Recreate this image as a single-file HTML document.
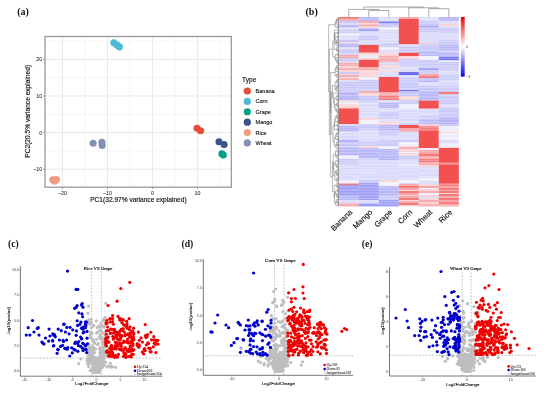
<!DOCTYPE html>
<html><head><meta charset="utf-8"><style>
html,body{margin:0;padding:0;background:#fff;}
svg{display:block;will-change:transform;filter:blur(0.3px);}
.s{font-family:"Liberation Sans",sans-serif;}
.r{font-family:"Liberation Serif",serif;}
.b{font-family:"Liberation Serif",serif;font-weight:bold;}
</style></head><body>
<svg width="550" height="396" viewBox="0 0 550 396">
<rect width="550" height="396" fill="#fff"/>
<line x1="85" y1="36.5" x2="85" y2="187.2" stroke="#f3f3f3" stroke-width="0.8"/>
<line x1="130" y1="36.5" x2="130" y2="187.2" stroke="#f3f3f3" stroke-width="0.8"/>
<line x1="175" y1="36.5" x2="175" y2="187.2" stroke="#f3f3f3" stroke-width="0.8"/>
<line x1="220" y1="36.5" x2="220" y2="187.2" stroke="#f3f3f3" stroke-width="0.8"/>
<line x1="45.0" y1="150.9" x2="231.3" y2="150.9" stroke="#f3f3f3" stroke-width="0.8"/>
<line x1="45.0" y1="114.3" x2="231.3" y2="114.3" stroke="#f3f3f3" stroke-width="0.8"/>
<line x1="45.0" y1="77.7" x2="231.3" y2="77.7" stroke="#f3f3f3" stroke-width="0.8"/>
<line x1="45.0" y1="41.1" x2="231.3" y2="41.1" stroke="#f3f3f3" stroke-width="0.8"/>
<line x1="62.5" y1="36.5" x2="62.5" y2="187.2" stroke="#e9e9e9" stroke-width="1"/>
<line x1="107.5" y1="36.5" x2="107.5" y2="187.2" stroke="#e9e9e9" stroke-width="1"/>
<line x1="152.5" y1="36.5" x2="152.5" y2="187.2" stroke="#e9e9e9" stroke-width="1"/>
<line x1="197.5" y1="36.5" x2="197.5" y2="187.2" stroke="#e9e9e9" stroke-width="1"/>
<line x1="45.0" y1="169.2" x2="231.3" y2="169.2" stroke="#e9e9e9" stroke-width="1"/>
<line x1="45.0" y1="132.6" x2="231.3" y2="132.6" stroke="#e9e9e9" stroke-width="1"/>
<line x1="45.0" y1="96" x2="231.3" y2="96" stroke="#e9e9e9" stroke-width="1"/>
<line x1="45.0" y1="59.4" x2="231.3" y2="59.4" stroke="#e9e9e9" stroke-width="1"/>
<circle cx="113.8" cy="42.8" r="3.55" fill="#4DBBD5"/>
<circle cx="117.0" cy="45.0" r="3.55" fill="#4DBBD5"/>
<circle cx="119.4" cy="46.9" r="3.55" fill="#4DBBD5"/>
<circle cx="197.0" cy="128.3" r="3.55" fill="#E64B35"/>
<circle cx="200.6" cy="130.8" r="3.55" fill="#E64B35"/>
<circle cx="219.0" cy="141.8" r="3.55" fill="#3C5488"/>
<circle cx="224.1" cy="144.5" r="3.55" fill="#3C5488"/>
<circle cx="221.9" cy="153.8" r="3.55" fill="#00A087"/>
<circle cx="223.3" cy="155.0" r="3.55" fill="#00A087"/>
<circle cx="52.8" cy="179.8" r="3.55" fill="#F39B7F"/>
<circle cx="56.5" cy="179.6" r="3.55" fill="#F39B7F"/>
<circle cx="54.6" cy="181.2" r="3.55" fill="#F39B7F"/>
<circle cx="93.1" cy="143.2" r="3.55" fill="#8491B4"/>
<circle cx="101.9" cy="142.3" r="3.55" fill="#8491B4"/>
<circle cx="102.2" cy="145.4" r="3.55" fill="#8491B4"/>
<rect x="45.0" y="36.5" width="186.3" height="150.7" fill="none" stroke="#9a9a9a" stroke-width="1.3"/>
<line x1="43.2" y1="169.2" x2="45.0" y2="169.2" stroke="#8a8a8a" stroke-width="0.9"/>
<text class="s" x="42.2" y="171.1" font-size="5.3" text-anchor="end" fill="#444" stroke="#444" stroke-width="0.12">−10</text>
<line x1="43.2" y1="132.6" x2="45.0" y2="132.6" stroke="#8a8a8a" stroke-width="0.9"/>
<text class="s" x="42.2" y="134.5" font-size="5.3" text-anchor="end" fill="#444" stroke="#444" stroke-width="0.12">0</text>
<line x1="43.2" y1="96" x2="45.0" y2="96" stroke="#8a8a8a" stroke-width="0.9"/>
<text class="s" x="42.2" y="97.9" font-size="5.3" text-anchor="end" fill="#444" stroke="#444" stroke-width="0.12">10</text>
<line x1="43.2" y1="59.4" x2="45.0" y2="59.4" stroke="#8a8a8a" stroke-width="0.9"/>
<text class="s" x="42.2" y="61.3" font-size="5.3" text-anchor="end" fill="#444" stroke="#444" stroke-width="0.12">20</text>
<line x1="62.5" y1="187.2" x2="62.5" y2="188.8" stroke="#8a8a8a" stroke-width="0.9"/>
<text class="s" x="62.5" y="194.5" font-size="5.3" text-anchor="middle" fill="#444" stroke="#444" stroke-width="0.12">−20</text>
<line x1="107.5" y1="187.2" x2="107.5" y2="188.8" stroke="#8a8a8a" stroke-width="0.9"/>
<text class="s" x="107.5" y="194.5" font-size="5.3" text-anchor="middle" fill="#444" stroke="#444" stroke-width="0.12">−10</text>
<line x1="152.5" y1="187.2" x2="152.5" y2="188.8" stroke="#8a8a8a" stroke-width="0.9"/>
<text class="s" x="152.5" y="194.5" font-size="5.3" text-anchor="middle" fill="#444" stroke="#444" stroke-width="0.12">0</text>
<line x1="197.5" y1="187.2" x2="197.5" y2="188.8" stroke="#8a8a8a" stroke-width="0.9"/>
<text class="s" x="197.5" y="194.5" font-size="5.3" text-anchor="middle" fill="#444" stroke="#444" stroke-width="0.12">10</text>
<text class="s" x="138.4" y="201.6" font-size="6.6" text-anchor="middle" fill="#1a1a1a" stroke="#1a1a1a" stroke-width="0.18">PC1(32.97% variance explained)</text>
<text class="s" transform="translate(30.2,111.3) rotate(-90)" font-size="6.6" text-anchor="middle" fill="#1a1a1a" stroke="#1a1a1a" stroke-width="0.18">PC2(20.5% variance explained)</text>
<text class="s" x="242.1" y="81.8" font-size="6.6" fill="#1a1a1a" stroke="#1a1a1a" stroke-width="0.15">Type</text>
<circle cx="247.3" cy="91" r="3.6" fill="#E64B35"/>
<text class="s" x="255.6" y="93" font-size="5.5" fill="#111" stroke="#111" stroke-width="0.12">Banana</text>
<circle cx="247.3" cy="101.38" r="3.6" fill="#4DBBD5"/>
<text class="s" x="255.6" y="103.38" font-size="5.5" fill="#111" stroke="#111" stroke-width="0.12">Corn</text>
<circle cx="247.3" cy="111.76" r="3.6" fill="#00A087"/>
<text class="s" x="255.6" y="113.76" font-size="5.5" fill="#111" stroke="#111" stroke-width="0.12">Grape</text>
<circle cx="247.3" cy="122.14" r="3.6" fill="#3C5488"/>
<text class="s" x="255.6" y="124.14" font-size="5.5" fill="#111" stroke="#111" stroke-width="0.12">Mango</text>
<circle cx="247.3" cy="132.52" r="3.6" fill="#F39B7F"/>
<text class="s" x="255.6" y="134.52" font-size="5.5" fill="#111" stroke="#111" stroke-width="0.12">Rice</text>
<circle cx="247.3" cy="142.9" r="3.6" fill="#8491B4"/>
<text class="s" x="255.6" y="144.9" font-size="5.5" fill="#111" stroke="#111" stroke-width="0.12">Wheat</text>
<text class="b" x="17.2" y="15.0" font-size="10" fill="#111">(a)</text>
<rect x="338.8" y="17" width="20.05" height="1.3" fill="rgb(245, 123, 123)"/>
<rect x="338.8" y="18.25" width="20.05" height="1.3" fill="rgb(246, 124, 124)"/>
<rect x="338.8" y="19.5" width="20.05" height="1.55" fill="rgb(248, 175, 177)"/>
<rect x="338.8" y="21" width="20.05" height="2.05" fill="rgb(202, 202, 249)"/>
<rect x="338.8" y="23" width="20.05" height="2.05" fill="rgb(220, 220, 252)"/>
<rect x="338.8" y="25" width="20.05" height="2.05" fill="rgb(184, 184, 249)"/>
<rect x="338.8" y="27" width="20.05" height="1.55" fill="rgb(217, 217, 251)"/>
<rect x="338.8" y="28.5" width="20.05" height="1.55" fill="rgb(220, 220, 252)"/>
<rect x="338.8" y="30" width="20.05" height="1.55" fill="rgb(204, 204, 250)"/>
<rect x="338.8" y="31.5" width="20.05" height="1.55" fill="rgb(205, 205, 250)"/>
<rect x="338.8" y="33" width="20.05" height="1.55" fill="rgb(236, 236, 252)"/>
<rect x="338.8" y="34.5" width="20.05" height="1.55" fill="rgb(238, 238, 252)"/>
<rect x="338.8" y="36" width="20.05" height="1.38" fill="rgb(216, 216, 251)"/>
<rect x="338.8" y="37.33" width="20.05" height="1.38" fill="rgb(222, 222, 252)"/>
<rect x="338.8" y="38.67" width="20.05" height="1.38" fill="rgb(221, 221, 252)"/>
<rect x="338.8" y="40" width="20.05" height="2.05" fill="rgb(199, 199, 249)"/>
<rect x="338.8" y="42" width="20.05" height="1.55" fill="rgb(250, 217, 219)"/>
<rect x="338.8" y="43.5" width="20.05" height="1.8" fill="rgb(187, 187, 249)"/>
<rect x="338.8" y="45.25" width="20.05" height="1.8" fill="rgb(185, 185, 249)"/>
<rect x="338.8" y="47" width="20.05" height="1.55" fill="rgb(220, 220, 252)"/>
<rect x="338.8" y="48.5" width="20.05" height="1.55" fill="rgb(217, 217, 251)"/>
<rect x="338.8" y="50" width="20.05" height="1.55" fill="rgb(199, 199, 249)"/>
<rect x="338.8" y="51.5" width="20.05" height="1.55" fill="rgb(203, 203, 250)"/>
<rect x="338.8" y="53" width="20.05" height="2.05" fill="rgb(216, 216, 251)"/>
<rect x="338.8" y="55" width="20.05" height="1.65" fill="rgb(247, 169, 171)"/>
<rect x="338.8" y="56.6" width="20.05" height="1.65" fill="rgb(247, 169, 171)"/>
<rect x="338.8" y="58.2" width="20.05" height="1.45" fill="rgb(199, 199, 249)"/>
<rect x="338.8" y="59.6" width="20.05" height="1.45" fill="rgb(202, 202, 249)"/>
<rect x="338.8" y="61" width="20.05" height="1.75" fill="rgb(219, 219, 251)"/>
<rect x="338.8" y="62.7" width="20.05" height="1.7" fill="rgb(248, 174, 176)"/>
<rect x="338.8" y="64.35" width="20.05" height="1.7" fill="rgb(248, 172, 174)"/>
<rect x="338.8" y="66" width="20.05" height="2.25" fill="rgb(250, 215, 217)"/>
<rect x="338.8" y="68.2" width="20.05" height="2.25" fill="rgb(247, 171, 173)"/>
<rect x="338.8" y="70.4" width="20.05" height="1.65" fill="rgb(250, 215, 217)"/>
<rect x="338.8" y="72" width="20.05" height="2.05" fill="rgb(202, 202, 249)"/>
<rect x="338.8" y="74" width="20.05" height="1.05" fill="rgb(249, 212, 214)"/>
<rect x="338.8" y="75" width="20.05" height="2.05" fill="rgb(248, 175, 177)"/>
<rect x="338.8" y="77" width="20.05" height="1.25" fill="rgb(223, 223, 252)"/>
<rect x="338.8" y="78.2" width="20.05" height="2.25" fill="rgb(248, 174, 176)"/>
<rect x="338.8" y="80.4" width="20.05" height="1.65" fill="rgb(221, 221, 252)"/>
<rect x="338.8" y="82" width="20.05" height="1.58" fill="rgb(201, 201, 249)"/>
<rect x="338.8" y="83.53" width="20.05" height="1.58" fill="rgb(200, 200, 249)"/>
<rect x="338.8" y="85.06" width="20.05" height="1.58" fill="rgb(201, 201, 249)"/>
<rect x="338.8" y="86.59" width="20.05" height="1.58" fill="rgb(199, 199, 249)"/>
<rect x="338.8" y="88.11" width="20.05" height="1.58" fill="rgb(205, 205, 250)"/>
<rect x="338.8" y="89.64" width="20.05" height="1.58" fill="rgb(202, 202, 249)"/>
<rect x="338.8" y="91.17" width="20.05" height="1.58" fill="rgb(205, 205, 250)"/>
<rect x="338.8" y="92.7" width="20.05" height="1.15" fill="rgb(159, 159, 246)"/>
<rect x="338.8" y="93.8" width="20.05" height="1.7" fill="rgb(187, 187, 249)"/>
<rect x="338.8" y="95.45" width="20.05" height="1.7" fill="rgb(186, 186, 249)"/>
<rect x="338.8" y="97.1" width="20.05" height="1.7" fill="rgb(180, 180, 248)"/>
<rect x="338.8" y="98.75" width="20.05" height="1.7" fill="rgb(181, 181, 248)"/>
<rect x="338.8" y="100.4" width="20.05" height="1.65" fill="rgb(250, 217, 219)"/>
<rect x="338.8" y="102" width="20.05" height="2.05" fill="rgb(239, 239, 252)"/>
<rect x="338.8" y="104" width="20.05" height="1.52" fill="rgb(250, 217, 219)"/>
<rect x="338.8" y="105.47" width="20.05" height="1.52" fill="rgb(249, 213, 215)"/>
<rect x="338.8" y="106.93" width="20.05" height="1.52" fill="rgb(249, 210, 212)"/>
<rect x="338.8" y="108.4" width="20.05" height="15.65" fill="rgb(243, 80, 80)"/>
<rect x="338.8" y="124" width="20.05" height="2.05" fill="rgb(221, 221, 252)"/>
<rect x="338.8" y="126" width="20.05" height="1.72" fill="rgb(186, 186, 249)"/>
<rect x="338.8" y="127.67" width="20.05" height="1.72" fill="rgb(182, 182, 248)"/>
<rect x="338.8" y="129.33" width="20.05" height="1.72" fill="rgb(180, 180, 248)"/>
<rect x="338.8" y="131" width="20.05" height="1.55" fill="rgb(218, 218, 251)"/>
<rect x="338.8" y="132.5" width="20.05" height="1.55" fill="rgb(223, 223, 252)"/>
<rect x="338.8" y="134" width="20.05" height="1.55" fill="rgb(222, 222, 252)"/>
<rect x="338.8" y="135.5" width="20.05" height="1.55" fill="rgb(216, 216, 251)"/>
<rect x="338.8" y="137" width="20.05" height="1.55" fill="rgb(217, 217, 251)"/>
<rect x="338.8" y="138.5" width="20.05" height="1.55" fill="rgb(216, 216, 251)"/>
<rect x="338.8" y="140" width="20.05" height="2.05" fill="rgb(180, 180, 248)"/>
<rect x="338.8" y="142" width="20.05" height="1.55" fill="rgb(205, 205, 250)"/>
<rect x="338.8" y="143.5" width="20.05" height="1.55" fill="rgb(200, 200, 249)"/>
<rect x="338.8" y="145" width="20.05" height="1.55" fill="rgb(203, 203, 250)"/>
<rect x="338.8" y="146.5" width="20.05" height="1.55" fill="rgb(202, 202, 249)"/>
<rect x="338.8" y="148" width="20.05" height="1.55" fill="rgb(181, 181, 248)"/>
<rect x="338.8" y="149.5" width="20.05" height="1.55" fill="rgb(185, 185, 249)"/>
<rect x="338.8" y="151" width="20.05" height="1.55" fill="rgb(181, 181, 248)"/>
<rect x="338.8" y="152.5" width="20.05" height="1.55" fill="rgb(185, 185, 249)"/>
<rect x="338.8" y="154" width="20.05" height="1.55" fill="rgb(180, 180, 248)"/>
<rect x="338.8" y="155.5" width="20.05" height="1.8" fill="rgb(239, 239, 252)"/>
<rect x="338.8" y="157.25" width="20.05" height="1.8" fill="rgb(237, 237, 252)"/>
<rect x="338.8" y="159" width="20.05" height="1.72" fill="rgb(201, 201, 249)"/>
<rect x="338.8" y="160.67" width="20.05" height="1.72" fill="rgb(206, 206, 250)"/>
<rect x="338.8" y="162.33" width="20.05" height="1.72" fill="rgb(205, 205, 250)"/>
<rect x="338.8" y="164" width="20.05" height="2.05" fill="rgb(218, 218, 251)"/>
<rect x="338.8" y="166" width="20.05" height="1.61" fill="rgb(223, 223, 252)"/>
<rect x="338.8" y="167.56" width="20.05" height="1.61" fill="rgb(217, 217, 251)"/>
<rect x="338.8" y="169.11" width="20.05" height="1.61" fill="rgb(219, 219, 251)"/>
<rect x="338.8" y="170.67" width="20.05" height="1.61" fill="rgb(222, 222, 252)"/>
<rect x="338.8" y="172.22" width="20.05" height="1.61" fill="rgb(221, 221, 252)"/>
<rect x="338.8" y="173.78" width="20.05" height="1.61" fill="rgb(216, 216, 251)"/>
<rect x="338.8" y="175.33" width="20.05" height="1.61" fill="rgb(223, 223, 252)"/>
<rect x="338.8" y="176.89" width="20.05" height="1.61" fill="rgb(217, 217, 251)"/>
<rect x="338.8" y="178.44" width="20.05" height="1.61" fill="rgb(218, 218, 251)"/>
<rect x="338.8" y="180" width="20.05" height="1.8" fill="rgb(242, 242, 253)"/>
<rect x="338.8" y="181.75" width="20.05" height="1.8" fill="rgb(238, 238, 252)"/>
<rect x="338.8" y="183.5" width="20.05" height="1.55" fill="rgb(245, 122, 122)"/>
<rect x="338.8" y="185" width="20.05" height="1.48" fill="rgb(156, 156, 246)"/>
<rect x="338.8" y="186.43" width="20.05" height="1.48" fill="rgb(156, 156, 246)"/>
<rect x="338.8" y="187.86" width="20.05" height="1.48" fill="rgb(160, 160, 247)"/>
<rect x="338.8" y="189.29" width="20.05" height="1.48" fill="rgb(157, 157, 246)"/>
<rect x="338.8" y="190.71" width="20.05" height="1.48" fill="rgb(160, 160, 247)"/>
<rect x="338.8" y="192.14" width="20.05" height="1.48" fill="rgb(158, 158, 246)"/>
<rect x="338.8" y="193.57" width="20.05" height="1.48" fill="rgb(159, 159, 246)"/>
<rect x="338.8" y="195" width="20.05" height="1.72" fill="rgb(187, 187, 249)"/>
<rect x="338.8" y="196.67" width="20.05" height="1.72" fill="rgb(183, 183, 248)"/>
<rect x="338.8" y="198.33" width="20.05" height="1.72" fill="rgb(184, 184, 249)"/>
<rect x="338.8" y="200" width="20.05" height="1.8" fill="rgb(222, 222, 252)"/>
<rect x="338.8" y="201.75" width="20.05" height="1.8" fill="rgb(217, 217, 251)"/>
<rect x="338.8" y="203.5" width="20.05" height="1.5" fill="rgb(247, 169, 171)"/>
<rect x="338.8" y="204.95" width="20.05" height="1.5" fill="rgb(248, 175, 177)"/>
<rect x="358.8" y="17" width="20.05" height="1.38" fill="rgb(186, 186, 249)"/>
<rect x="358.8" y="18.33" width="20.05" height="1.38" fill="rgb(181, 181, 248)"/>
<rect x="358.8" y="19.67" width="20.05" height="1.38" fill="rgb(181, 181, 248)"/>
<rect x="358.8" y="21" width="20.05" height="2.05" fill="rgb(248, 173, 175)"/>
<rect x="358.8" y="23" width="20.05" height="1.55" fill="rgb(250, 217, 219)"/>
<rect x="358.8" y="24.5" width="20.05" height="2.05" fill="rgb(247, 169, 171)"/>
<rect x="358.8" y="26.5" width="20.05" height="1.55" fill="rgb(250, 217, 219)"/>
<rect x="358.8" y="28" width="20.05" height="0.55" fill="rgb(223, 223, 252)"/>
<rect x="358.8" y="28.5" width="20.05" height="1.3" fill="rgb(160, 160, 247)"/>
<rect x="358.8" y="29.75" width="20.05" height="1.3" fill="rgb(159, 159, 246)"/>
<rect x="358.8" y="31" width="20.05" height="1.72" fill="rgb(216, 216, 251)"/>
<rect x="358.8" y="32.67" width="20.05" height="1.72" fill="rgb(216, 216, 251)"/>
<rect x="358.8" y="34.33" width="20.05" height="1.72" fill="rgb(223, 223, 252)"/>
<rect x="358.8" y="36" width="20.05" height="1.38" fill="rgb(200, 200, 249)"/>
<rect x="358.8" y="37.33" width="20.05" height="1.38" fill="rgb(204, 204, 250)"/>
<rect x="358.8" y="38.67" width="20.05" height="1.38" fill="rgb(201, 201, 249)"/>
<rect x="358.8" y="40" width="20.05" height="1.68" fill="rgb(222, 222, 252)"/>
<rect x="358.8" y="41.63" width="20.05" height="1.68" fill="rgb(220, 220, 252)"/>
<rect x="358.8" y="43.27" width="20.05" height="1.68" fill="rgb(218, 218, 251)"/>
<rect x="358.8" y="44.9" width="20.05" height="7.85" fill="rgb(243, 80, 80)"/>
<rect x="358.8" y="52.7" width="20.05" height="1.45" fill="rgb(249, 211, 213)"/>
<rect x="358.8" y="54.1" width="20.05" height="1.45" fill="rgb(250, 215, 217)"/>
<rect x="358.8" y="55.5" width="20.05" height="1.3" fill="rgb(236, 236, 252)"/>
<rect x="358.8" y="56.75" width="20.05" height="1.3" fill="rgb(237, 237, 252)"/>
<rect x="358.8" y="58" width="20.05" height="1.85" fill="rgb(250, 214, 216)"/>
<rect x="358.8" y="59.8" width="20.05" height="7.35" fill="rgb(243, 80, 80)"/>
<rect x="358.8" y="67.1" width="20.05" height="1.7" fill="rgb(248, 174, 176)"/>
<rect x="358.8" y="68.75" width="20.05" height="1.7" fill="rgb(248, 172, 174)"/>
<rect x="358.8" y="70.4" width="20.05" height="1.35" fill="rgb(249, 212, 214)"/>
<rect x="358.8" y="71.7" width="20.05" height="1.35" fill="rgb(250, 217, 219)"/>
<rect x="358.8" y="73" width="20.05" height="1.38" fill="rgb(249, 211, 213)"/>
<rect x="358.8" y="74.33" width="20.05" height="1.38" fill="rgb(249, 210, 212)"/>
<rect x="358.8" y="75.67" width="20.05" height="1.38" fill="rgb(249, 212, 214)"/>
<rect x="358.8" y="77" width="20.05" height="1.55" fill="rgb(239, 239, 252)"/>
<rect x="358.8" y="78.5" width="20.05" height="1.55" fill="rgb(236, 236, 252)"/>
<rect x="358.8" y="80" width="20.05" height="1.62" fill="rgb(200, 200, 249)"/>
<rect x="358.8" y="81.57" width="20.05" height="1.62" fill="rgb(201, 201, 249)"/>
<rect x="358.8" y="83.14" width="20.05" height="1.62" fill="rgb(203, 203, 250)"/>
<rect x="358.8" y="84.71" width="20.05" height="1.62" fill="rgb(200, 200, 249)"/>
<rect x="358.8" y="86.29" width="20.05" height="1.62" fill="rgb(201, 201, 249)"/>
<rect x="358.8" y="87.86" width="20.05" height="1.62" fill="rgb(206, 206, 250)"/>
<rect x="358.8" y="89.43" width="20.05" height="1.62" fill="rgb(206, 206, 250)"/>
<rect x="358.8" y="91" width="20.05" height="2.05" fill="rgb(248, 173, 175)"/>
<rect x="358.8" y="93" width="20.05" height="1.55" fill="rgb(250, 215, 217)"/>
<rect x="358.8" y="94.5" width="20.05" height="1.55" fill="rgb(250, 214, 216)"/>
<rect x="358.8" y="96" width="20.05" height="1.55" fill="rgb(200, 200, 249)"/>
<rect x="358.8" y="97.5" width="20.05" height="1.55" fill="rgb(199, 199, 249)"/>
<rect x="358.8" y="99" width="20.05" height="1.55" fill="rgb(199, 199, 249)"/>
<rect x="358.8" y="100.5" width="20.05" height="1.55" fill="rgb(206, 206, 250)"/>
<rect x="358.8" y="102" width="20.05" height="1.5" fill="rgb(221, 221, 252)"/>
<rect x="358.8" y="103.45" width="20.05" height="1.5" fill="rgb(223, 223, 252)"/>
<rect x="358.8" y="104.91" width="20.05" height="1.5" fill="rgb(216, 216, 251)"/>
<rect x="358.8" y="106.36" width="20.05" height="1.5" fill="rgb(221, 221, 252)"/>
<rect x="358.8" y="107.82" width="20.05" height="1.5" fill="rgb(219, 219, 251)"/>
<rect x="358.8" y="109.27" width="20.05" height="1.5" fill="rgb(221, 221, 252)"/>
<rect x="358.8" y="110.73" width="20.05" height="1.5" fill="rgb(218, 218, 251)"/>
<rect x="358.8" y="112.18" width="20.05" height="1.5" fill="rgb(223, 223, 252)"/>
<rect x="358.8" y="113.64" width="20.05" height="1.5" fill="rgb(216, 216, 251)"/>
<rect x="358.8" y="115.09" width="20.05" height="1.5" fill="rgb(220, 220, 252)"/>
<rect x="358.8" y="116.55" width="20.05" height="1.5" fill="rgb(221, 221, 252)"/>
<rect x="358.8" y="118" width="20.05" height="2.05" fill="rgb(250, 217, 219)"/>
<rect x="358.8" y="120" width="20.05" height="1.38" fill="rgb(241, 241, 253)"/>
<rect x="358.8" y="121.33" width="20.05" height="1.38" fill="rgb(241, 241, 253)"/>
<rect x="358.8" y="122.67" width="20.05" height="1.38" fill="rgb(242, 242, 253)"/>
<rect x="358.8" y="124" width="20.05" height="1.55" fill="rgb(206, 206, 250)"/>
<rect x="358.8" y="125.5" width="20.05" height="1.55" fill="rgb(201, 201, 249)"/>
<rect x="358.8" y="127" width="20.05" height="1.55" fill="rgb(204, 204, 250)"/>
<rect x="358.8" y="128.5" width="20.05" height="1.55" fill="rgb(206, 206, 250)"/>
<rect x="358.8" y="130" width="20.05" height="1.48" fill="rgb(222, 222, 252)"/>
<rect x="358.8" y="131.43" width="20.05" height="1.48" fill="rgb(219, 219, 251)"/>
<rect x="358.8" y="132.86" width="20.05" height="1.48" fill="rgb(222, 222, 252)"/>
<rect x="358.8" y="134.29" width="20.05" height="1.48" fill="rgb(222, 222, 252)"/>
<rect x="358.8" y="135.71" width="20.05" height="1.48" fill="rgb(220, 220, 252)"/>
<rect x="358.8" y="137.14" width="20.05" height="1.48" fill="rgb(220, 220, 252)"/>
<rect x="358.8" y="138.57" width="20.05" height="1.48" fill="rgb(219, 219, 251)"/>
<rect x="358.8" y="140" width="20.05" height="2.05" fill="rgb(220, 220, 252)"/>
<rect x="358.8" y="142" width="20.05" height="1.38" fill="rgb(203, 203, 250)"/>
<rect x="358.8" y="143.33" width="20.05" height="1.38" fill="rgb(199, 199, 249)"/>
<rect x="358.8" y="144.67" width="20.05" height="1.38" fill="rgb(204, 204, 250)"/>
<rect x="358.8" y="146" width="20.05" height="2.05" fill="rgb(250, 217, 219)"/>
<rect x="358.8" y="148" width="20.05" height="1.55" fill="rgb(187, 187, 249)"/>
<rect x="358.8" y="149.5" width="20.05" height="1.55" fill="rgb(185, 185, 249)"/>
<rect x="358.8" y="151" width="20.05" height="1.55" fill="rgb(183, 183, 248)"/>
<rect x="358.8" y="152.5" width="20.05" height="1.55" fill="rgb(185, 185, 249)"/>
<rect x="358.8" y="154" width="20.05" height="1.55" fill="rgb(184, 184, 249)"/>
<rect x="358.8" y="155.5" width="20.05" height="1.55" fill="rgb(183, 183, 248)"/>
<rect x="358.8" y="157" width="20.05" height="1.55" fill="rgb(186, 186, 249)"/>
<rect x="358.8" y="158.5" width="20.05" height="1.55" fill="rgb(216, 216, 251)"/>
<rect x="358.8" y="160" width="20.05" height="1.55" fill="rgb(222, 222, 252)"/>
<rect x="358.8" y="161.5" width="20.05" height="1.55" fill="rgb(216, 216, 251)"/>
<rect x="358.8" y="163" width="20.05" height="1.55" fill="rgb(220, 220, 252)"/>
<rect x="358.8" y="164.5" width="20.05" height="1.55" fill="rgb(219, 219, 251)"/>
<rect x="358.8" y="166" width="20.05" height="1.61" fill="rgb(217, 217, 251)"/>
<rect x="358.8" y="167.56" width="20.05" height="1.61" fill="rgb(221, 221, 252)"/>
<rect x="358.8" y="169.11" width="20.05" height="1.61" fill="rgb(219, 219, 251)"/>
<rect x="358.8" y="170.67" width="20.05" height="1.61" fill="rgb(220, 220, 252)"/>
<rect x="358.8" y="172.22" width="20.05" height="1.61" fill="rgb(223, 223, 252)"/>
<rect x="358.8" y="173.78" width="20.05" height="1.61" fill="rgb(218, 218, 251)"/>
<rect x="358.8" y="175.33" width="20.05" height="1.61" fill="rgb(216, 216, 251)"/>
<rect x="358.8" y="176.89" width="20.05" height="1.61" fill="rgb(218, 218, 251)"/>
<rect x="358.8" y="178.44" width="20.05" height="1.61" fill="rgb(221, 221, 252)"/>
<rect x="358.8" y="180" width="20.05" height="1.55" fill="rgb(200, 200, 249)"/>
<rect x="358.8" y="181.5" width="20.05" height="1.55" fill="rgb(200, 200, 249)"/>
<rect x="358.8" y="183" width="20.05" height="1.6" fill="rgb(163, 163, 247)"/>
<rect x="358.8" y="184.55" width="20.05" height="1.6" fill="rgb(161, 161, 247)"/>
<rect x="358.8" y="186.09" width="20.05" height="1.6" fill="rgb(159, 159, 246)"/>
<rect x="358.8" y="187.64" width="20.05" height="1.6" fill="rgb(163, 163, 247)"/>
<rect x="358.8" y="189.18" width="20.05" height="1.6" fill="rgb(158, 158, 246)"/>
<rect x="358.8" y="190.73" width="20.05" height="1.6" fill="rgb(161, 161, 247)"/>
<rect x="358.8" y="192.27" width="20.05" height="1.6" fill="rgb(157, 157, 246)"/>
<rect x="358.8" y="193.82" width="20.05" height="1.6" fill="rgb(159, 159, 246)"/>
<rect x="358.8" y="195.36" width="20.05" height="1.6" fill="rgb(162, 162, 247)"/>
<rect x="358.8" y="196.91" width="20.05" height="1.6" fill="rgb(163, 163, 247)"/>
<rect x="358.8" y="198.45" width="20.05" height="1.6" fill="rgb(163, 163, 247)"/>
<rect x="358.8" y="200" width="20.05" height="1.8" fill="rgb(219, 219, 251)"/>
<rect x="358.8" y="201.75" width="20.05" height="1.8" fill="rgb(220, 220, 252)"/>
<rect x="358.8" y="203.5" width="20.05" height="1.5" fill="rgb(158, 158, 246)"/>
<rect x="358.8" y="204.95" width="20.05" height="1.5" fill="rgb(157, 157, 246)"/>
<rect x="378.8" y="17" width="20.05" height="1.38" fill="rgb(219, 219, 251)"/>
<rect x="378.8" y="18.33" width="20.05" height="1.38" fill="rgb(222, 222, 252)"/>
<rect x="378.8" y="19.67" width="20.05" height="1.38" fill="rgb(222, 222, 252)"/>
<rect x="378.8" y="21" width="20.05" height="0.55" fill="rgb(221, 221, 252)"/>
<rect x="378.8" y="21.5" width="20.05" height="2.05" fill="rgb(123, 123, 244)"/>
<rect x="378.8" y="23.5" width="20.05" height="1.8" fill="rgb(201, 201, 249)"/>
<rect x="378.8" y="25.25" width="20.05" height="1.8" fill="rgb(200, 200, 249)"/>
<rect x="378.8" y="27" width="20.05" height="1.55" fill="rgb(239, 239, 252)"/>
<rect x="378.8" y="28.5" width="20.05" height="1.55" fill="rgb(238, 238, 252)"/>
<rect x="378.8" y="30" width="20.05" height="1.61" fill="rgb(217, 217, 251)"/>
<rect x="378.8" y="31.56" width="20.05" height="1.61" fill="rgb(219, 219, 251)"/>
<rect x="378.8" y="33.11" width="20.05" height="1.61" fill="rgb(221, 221, 252)"/>
<rect x="378.8" y="34.67" width="20.05" height="1.61" fill="rgb(219, 219, 251)"/>
<rect x="378.8" y="36.22" width="20.05" height="1.61" fill="rgb(218, 218, 251)"/>
<rect x="378.8" y="37.78" width="20.05" height="1.61" fill="rgb(222, 222, 252)"/>
<rect x="378.8" y="39.33" width="20.05" height="1.61" fill="rgb(223, 223, 252)"/>
<rect x="378.8" y="40.89" width="20.05" height="1.61" fill="rgb(219, 219, 251)"/>
<rect x="378.8" y="42.44" width="20.05" height="1.61" fill="rgb(216, 216, 251)"/>
<rect x="378.8" y="44" width="20.05" height="1.55" fill="rgb(199, 199, 249)"/>
<rect x="378.8" y="45.5" width="20.05" height="1.55" fill="rgb(205, 205, 250)"/>
<rect x="378.8" y="47" width="20.05" height="1.55" fill="rgb(236, 236, 252)"/>
<rect x="378.8" y="48.5" width="20.05" height="1.55" fill="rgb(241, 241, 253)"/>
<rect x="378.8" y="50" width="20.05" height="1.4" fill="rgb(220, 220, 252)"/>
<rect x="378.8" y="51.35" width="20.05" height="1.4" fill="rgb(218, 218, 251)"/>
<rect x="378.8" y="52.7" width="20.05" height="1.7" fill="rgb(250, 216, 218)"/>
<rect x="378.8" y="54.35" width="20.05" height="1.7" fill="rgb(249, 210, 212)"/>
<rect x="378.8" y="56" width="20.05" height="1.38" fill="rgb(247, 169, 171)"/>
<rect x="378.8" y="57.33" width="20.05" height="1.38" fill="rgb(247, 171, 173)"/>
<rect x="378.8" y="58.67" width="20.05" height="1.38" fill="rgb(247, 168, 170)"/>
<rect x="378.8" y="60" width="20.05" height="1.3" fill="rgb(248, 174, 176)"/>
<rect x="378.8" y="61.25" width="20.05" height="1.3" fill="rgb(247, 169, 171)"/>
<rect x="378.8" y="62.5" width="20.05" height="1.3" fill="rgb(217, 217, 251)"/>
<rect x="378.8" y="63.75" width="20.05" height="1.3" fill="rgb(216, 216, 251)"/>
<rect x="378.8" y="65" width="20.05" height="1.55" fill="rgb(250, 215, 217)"/>
<rect x="378.8" y="66.5" width="20.05" height="1.55" fill="rgb(249, 213, 215)"/>
<rect x="378.8" y="68" width="20.05" height="1.25" fill="rgb(221, 221, 252)"/>
<rect x="378.8" y="69.2" width="20.05" height="1.25" fill="rgb(221, 221, 252)"/>
<rect x="378.8" y="70.4" width="20.05" height="1.65" fill="rgb(250, 216, 218)"/>
<rect x="378.8" y="72" width="20.05" height="1.72" fill="rgb(223, 223, 252)"/>
<rect x="378.8" y="73.67" width="20.05" height="1.72" fill="rgb(221, 221, 252)"/>
<rect x="378.8" y="75.33" width="20.05" height="1.72" fill="rgb(217, 217, 251)"/>
<rect x="378.8" y="77" width="20.05" height="15.05" fill="rgb(243, 80, 80)"/>
<rect x="378.8" y="92" width="20.05" height="1.38" fill="rgb(247, 171, 173)"/>
<rect x="378.8" y="93.33" width="20.05" height="1.38" fill="rgb(247, 169, 171)"/>
<rect x="378.8" y="94.67" width="20.05" height="1.38" fill="rgb(247, 168, 170)"/>
<rect x="378.8" y="96" width="20.05" height="1.38" fill="rgb(245, 123, 123)"/>
<rect x="378.8" y="97.33" width="20.05" height="1.38" fill="rgb(246, 125, 125)"/>
<rect x="378.8" y="98.67" width="20.05" height="1.38" fill="rgb(245, 122, 122)"/>
<rect x="378.8" y="100" width="20.05" height="1.55" fill="rgb(218, 218, 251)"/>
<rect x="378.8" y="101.5" width="20.05" height="1.55" fill="rgb(218, 218, 251)"/>
<rect x="378.8" y="103" width="20.05" height="1.72" fill="rgb(185, 185, 249)"/>
<rect x="378.8" y="104.67" width="20.05" height="1.72" fill="rgb(184, 184, 249)"/>
<rect x="378.8" y="106.33" width="20.05" height="1.72" fill="rgb(184, 184, 249)"/>
<rect x="378.8" y="108" width="20.05" height="1.38" fill="rgb(222, 222, 252)"/>
<rect x="378.8" y="109.33" width="20.05" height="1.38" fill="rgb(219, 219, 251)"/>
<rect x="378.8" y="110.67" width="20.05" height="1.38" fill="rgb(222, 222, 252)"/>
<rect x="378.8" y="112" width="20.05" height="1.55" fill="rgb(206, 206, 250)"/>
<rect x="378.8" y="113.5" width="20.05" height="1.55" fill="rgb(199, 199, 249)"/>
<rect x="378.8" y="115" width="20.05" height="1.55" fill="rgb(206, 206, 250)"/>
<rect x="378.8" y="116.5" width="20.05" height="1.55" fill="rgb(204, 204, 250)"/>
<rect x="378.8" y="118" width="20.05" height="1.32" fill="rgb(217, 217, 251)"/>
<rect x="378.8" y="119.27" width="20.05" height="1.32" fill="rgb(219, 219, 251)"/>
<rect x="378.8" y="120.53" width="20.05" height="1.32" fill="rgb(221, 221, 252)"/>
<rect x="378.8" y="121.8" width="20.05" height="1.65" fill="rgb(250, 217, 219)"/>
<rect x="378.8" y="123.4" width="20.05" height="1.65" fill="rgb(249, 213, 215)"/>
<rect x="378.8" y="125" width="20.05" height="1.72" fill="rgb(184, 184, 249)"/>
<rect x="378.8" y="126.67" width="20.05" height="1.72" fill="rgb(187, 187, 249)"/>
<rect x="378.8" y="128.33" width="20.05" height="1.72" fill="rgb(186, 186, 249)"/>
<rect x="378.8" y="130" width="20.05" height="1.72" fill="rgb(206, 206, 250)"/>
<rect x="378.8" y="131.67" width="20.05" height="1.72" fill="rgb(202, 202, 249)"/>
<rect x="378.8" y="133.33" width="20.05" height="1.72" fill="rgb(204, 204, 250)"/>
<rect x="378.8" y="135" width="20.05" height="1.72" fill="rgb(217, 217, 251)"/>
<rect x="378.8" y="136.67" width="20.05" height="1.72" fill="rgb(221, 221, 252)"/>
<rect x="378.8" y="138.33" width="20.05" height="1.72" fill="rgb(222, 222, 252)"/>
<rect x="378.8" y="140" width="20.05" height="1.68" fill="rgb(204, 204, 250)"/>
<rect x="378.8" y="141.62" width="20.05" height="1.68" fill="rgb(204, 204, 250)"/>
<rect x="378.8" y="143.25" width="20.05" height="1.68" fill="rgb(200, 200, 249)"/>
<rect x="378.8" y="144.88" width="20.05" height="1.68" fill="rgb(206, 206, 250)"/>
<rect x="378.8" y="146.5" width="20.05" height="1.3" fill="rgb(243, 243, 253)"/>
<rect x="378.8" y="147.75" width="20.05" height="1.3" fill="rgb(243, 243, 253)"/>
<rect x="378.8" y="149" width="20.05" height="1.62" fill="rgb(184, 184, 249)"/>
<rect x="378.8" y="150.57" width="20.05" height="1.62" fill="rgb(186, 186, 249)"/>
<rect x="378.8" y="152.14" width="20.05" height="1.62" fill="rgb(182, 182, 248)"/>
<rect x="378.8" y="153.71" width="20.05" height="1.62" fill="rgb(187, 187, 249)"/>
<rect x="378.8" y="155.29" width="20.05" height="1.62" fill="rgb(186, 186, 249)"/>
<rect x="378.8" y="156.86" width="20.05" height="1.62" fill="rgb(182, 182, 248)"/>
<rect x="378.8" y="158.43" width="20.05" height="1.62" fill="rgb(180, 180, 248)"/>
<rect x="378.8" y="160" width="20.05" height="1.55" fill="rgb(219, 219, 251)"/>
<rect x="378.8" y="161.5" width="20.05" height="1.55" fill="rgb(220, 220, 252)"/>
<rect x="378.8" y="163" width="20.05" height="1.55" fill="rgb(222, 222, 252)"/>
<rect x="378.8" y="164.5" width="20.05" height="1.55" fill="rgb(219, 219, 251)"/>
<rect x="378.8" y="166" width="20.05" height="1.61" fill="rgb(216, 216, 251)"/>
<rect x="378.8" y="167.56" width="20.05" height="1.61" fill="rgb(222, 222, 252)"/>
<rect x="378.8" y="169.11" width="20.05" height="1.61" fill="rgb(216, 216, 251)"/>
<rect x="378.8" y="170.67" width="20.05" height="1.61" fill="rgb(222, 222, 252)"/>
<rect x="378.8" y="172.22" width="20.05" height="1.61" fill="rgb(217, 217, 251)"/>
<rect x="378.8" y="173.78" width="20.05" height="1.61" fill="rgb(218, 218, 251)"/>
<rect x="378.8" y="175.33" width="20.05" height="1.61" fill="rgb(222, 222, 252)"/>
<rect x="378.8" y="176.89" width="20.05" height="1.61" fill="rgb(217, 217, 251)"/>
<rect x="378.8" y="178.44" width="20.05" height="1.61" fill="rgb(217, 217, 251)"/>
<rect x="378.8" y="180" width="20.05" height="2.05" fill="rgb(250, 214, 216)"/>
<rect x="378.8" y="182" width="20.05" height="1.38" fill="rgb(241, 241, 253)"/>
<rect x="378.8" y="183.33" width="20.05" height="1.38" fill="rgb(242, 242, 253)"/>
<rect x="378.8" y="184.67" width="20.05" height="1.38" fill="rgb(241, 241, 253)"/>
<rect x="378.8" y="186" width="20.05" height="1.55" fill="rgb(187, 187, 249)"/>
<rect x="378.8" y="187.5" width="20.05" height="1.55" fill="rgb(183, 183, 248)"/>
<rect x="378.8" y="189" width="20.05" height="1.55" fill="rgb(187, 187, 249)"/>
<rect x="378.8" y="190.5" width="20.05" height="1.55" fill="rgb(180, 180, 248)"/>
<rect x="378.8" y="192" width="20.05" height="1.55" fill="rgb(181, 181, 248)"/>
<rect x="378.8" y="193.5" width="20.05" height="1.55" fill="rgb(184, 184, 249)"/>
<rect x="378.8" y="195" width="20.05" height="1.72" fill="rgb(201, 201, 249)"/>
<rect x="378.8" y="196.67" width="20.05" height="1.72" fill="rgb(204, 204, 250)"/>
<rect x="378.8" y="198.33" width="20.05" height="1.72" fill="rgb(204, 204, 250)"/>
<rect x="378.8" y="200" width="20.05" height="1.65" fill="rgb(160, 160, 247)"/>
<rect x="378.8" y="201.6" width="20.05" height="1.65" fill="rgb(162, 162, 247)"/>
<rect x="378.8" y="203.2" width="20.05" height="1.65" fill="rgb(160, 160, 247)"/>
<rect x="378.8" y="204.8" width="20.05" height="1.65" fill="rgb(158, 158, 246)"/>
<rect x="398.8" y="17" width="20.05" height="2.05" fill="rgb(247, 171, 173)"/>
<rect x="398.8" y="19" width="20.05" height="25.45" fill="rgb(243, 80, 80)"/>
<rect x="398.8" y="44.4" width="20.05" height="1.35" fill="rgb(222, 222, 252)"/>
<rect x="398.8" y="45.7" width="20.05" height="1.35" fill="rgb(223, 223, 252)"/>
<rect x="398.8" y="47" width="20.05" height="1.48" fill="rgb(200, 200, 249)"/>
<rect x="398.8" y="48.42" width="20.05" height="1.48" fill="rgb(205, 205, 250)"/>
<rect x="398.8" y="49.85" width="20.05" height="1.48" fill="rgb(206, 206, 250)"/>
<rect x="398.8" y="51.28" width="20.05" height="1.48" fill="rgb(203, 203, 250)"/>
<rect x="398.8" y="52.7" width="20.05" height="3.35" fill="rgb(243, 80, 80)"/>
<rect x="398.8" y="56" width="20.05" height="1.55" fill="rgb(250, 214, 216)"/>
<rect x="398.8" y="57.5" width="20.05" height="1.55" fill="rgb(249, 211, 213)"/>
<rect x="398.8" y="59" width="20.05" height="1.45" fill="rgb(203, 203, 250)"/>
<rect x="398.8" y="60.4" width="20.05" height="1.45" fill="rgb(203, 203, 250)"/>
<rect x="398.8" y="61.8" width="20.05" height="1.45" fill="rgb(203, 203, 250)"/>
<rect x="398.8" y="63.2" width="20.05" height="1.45" fill="rgb(199, 199, 249)"/>
<rect x="398.8" y="64.6" width="20.05" height="1.45" fill="rgb(206, 206, 250)"/>
<rect x="398.8" y="66" width="20.05" height="1.38" fill="rgb(220, 220, 252)"/>
<rect x="398.8" y="67.33" width="20.05" height="1.38" fill="rgb(219, 219, 251)"/>
<rect x="398.8" y="68.67" width="20.05" height="1.38" fill="rgb(222, 222, 252)"/>
<rect x="398.8" y="70" width="20.05" height="2.25" fill="rgb(220, 220, 252)"/>
<rect x="398.8" y="72.2" width="20.05" height="1.4" fill="rgb(79, 79, 237)"/>
<rect x="398.8" y="73.55" width="20.05" height="1.4" fill="rgb(81, 81, 238)"/>
<rect x="398.8" y="74.9" width="20.05" height="1.6" fill="rgb(216, 216, 251)"/>
<rect x="398.8" y="76.45" width="20.05" height="1.6" fill="rgb(220, 220, 252)"/>
<rect x="398.8" y="78" width="20.05" height="1.55" fill="rgb(202, 202, 249)"/>
<rect x="398.8" y="79.5" width="20.05" height="1.55" fill="rgb(206, 206, 250)"/>
<rect x="398.8" y="81" width="20.05" height="1.55" fill="rgb(206, 206, 250)"/>
<rect x="398.8" y="82.5" width="20.05" height="1.55" fill="rgb(201, 201, 249)"/>
<rect x="398.8" y="84" width="20.05" height="1.55" fill="rgb(202, 202, 249)"/>
<rect x="398.8" y="85.5" width="20.05" height="1.55" fill="rgb(200, 200, 249)"/>
<rect x="398.8" y="87" width="20.05" height="1.55" fill="rgb(202, 202, 249)"/>
<rect x="398.8" y="88.5" width="20.05" height="1.55" fill="rgb(205, 205, 250)"/>
<rect x="398.8" y="90" width="20.05" height="1.55" fill="rgb(123, 123, 244)"/>
<rect x="398.8" y="91.5" width="20.05" height="1.55" fill="rgb(202, 202, 249)"/>
<rect x="398.8" y="93" width="20.05" height="1.55" fill="rgb(201, 201, 249)"/>
<rect x="398.8" y="94.5" width="20.05" height="1.55" fill="rgb(200, 200, 249)"/>
<rect x="398.8" y="96" width="20.05" height="1.38" fill="rgb(250, 214, 216)"/>
<rect x="398.8" y="97.33" width="20.05" height="1.38" fill="rgb(250, 217, 219)"/>
<rect x="398.8" y="98.67" width="20.05" height="1.38" fill="rgb(249, 211, 213)"/>
<rect x="398.8" y="100" width="20.05" height="1.38" fill="rgb(205, 205, 250)"/>
<rect x="398.8" y="101.33" width="20.05" height="1.38" fill="rgb(199, 199, 249)"/>
<rect x="398.8" y="102.67" width="20.05" height="1.38" fill="rgb(200, 200, 249)"/>
<rect x="398.8" y="104" width="20.05" height="1.43" fill="rgb(237, 237, 252)"/>
<rect x="398.8" y="105.38" width="20.05" height="1.43" fill="rgb(241, 241, 253)"/>
<rect x="398.8" y="106.75" width="20.05" height="1.43" fill="rgb(238, 238, 252)"/>
<rect x="398.8" y="108.12" width="20.05" height="1.43" fill="rgb(238, 238, 252)"/>
<rect x="398.8" y="109.5" width="20.05" height="1.55" fill="rgb(220, 220, 252)"/>
<rect x="398.8" y="111" width="20.05" height="1.55" fill="rgb(216, 216, 251)"/>
<rect x="398.8" y="112.5" width="20.05" height="1.55" fill="rgb(221, 221, 252)"/>
<rect x="398.8" y="114" width="20.05" height="1.55" fill="rgb(216, 216, 251)"/>
<rect x="398.8" y="115.5" width="20.05" height="1.55" fill="rgb(220, 220, 252)"/>
<rect x="398.8" y="117" width="20.05" height="1.55" fill="rgb(218, 218, 251)"/>
<rect x="398.8" y="118.5" width="20.05" height="1.55" fill="rgb(217, 217, 251)"/>
<rect x="398.8" y="120" width="20.05" height="1.38" fill="rgb(220, 220, 252)"/>
<rect x="398.8" y="121.33" width="20.05" height="1.38" fill="rgb(219, 219, 251)"/>
<rect x="398.8" y="122.67" width="20.05" height="1.38" fill="rgb(219, 219, 251)"/>
<rect x="398.8" y="124" width="20.05" height="1.05" fill="rgb(202, 202, 249)"/>
<rect x="398.8" y="125" width="20.05" height="3.45" fill="rgb(243, 80, 80)"/>
<rect x="398.8" y="128.4" width="20.05" height="1.75" fill="rgb(248, 172, 174)"/>
<rect x="398.8" y="130.1" width="20.05" height="1.75" fill="rgb(247, 169, 171)"/>
<rect x="398.8" y="131.8" width="20.05" height="1.69" fill="rgb(217, 217, 251)"/>
<rect x="398.8" y="133.44" width="20.05" height="1.69" fill="rgb(221, 221, 252)"/>
<rect x="398.8" y="135.08" width="20.05" height="1.69" fill="rgb(221, 221, 252)"/>
<rect x="398.8" y="136.72" width="20.05" height="1.69" fill="rgb(220, 220, 252)"/>
<rect x="398.8" y="138.36" width="20.05" height="1.69" fill="rgb(222, 222, 252)"/>
<rect x="398.8" y="140" width="20.05" height="2.05" fill="rgb(203, 203, 250)"/>
<rect x="398.8" y="142" width="20.05" height="1.55" fill="rgb(242, 242, 253)"/>
<rect x="398.8" y="143.5" width="20.05" height="1.55" fill="rgb(237, 237, 252)"/>
<rect x="398.8" y="145" width="20.05" height="1.55" fill="rgb(241, 241, 253)"/>
<rect x="398.8" y="146.5" width="20.05" height="1.3" fill="rgb(248, 174, 176)"/>
<rect x="398.8" y="147.75" width="20.05" height="1.3" fill="rgb(248, 175, 177)"/>
<rect x="398.8" y="149" width="20.05" height="1.55" fill="rgb(249, 212, 214)"/>
<rect x="398.8" y="150.5" width="20.05" height="1.55" fill="rgb(249, 212, 214)"/>
<rect x="398.8" y="152" width="20.05" height="1.05" fill="rgb(243, 243, 253)"/>
<rect x="398.8" y="153" width="20.05" height="1.3" fill="rgb(249, 211, 213)"/>
<rect x="398.8" y="154.25" width="20.05" height="1.3" fill="rgb(250, 217, 219)"/>
<rect x="398.8" y="155.5" width="20.05" height="1.8" fill="rgb(206, 206, 250)"/>
<rect x="398.8" y="157.25" width="20.05" height="1.8" fill="rgb(200, 200, 249)"/>
<rect x="398.8" y="159" width="20.05" height="1.72" fill="rgb(217, 217, 251)"/>
<rect x="398.8" y="160.67" width="20.05" height="1.72" fill="rgb(221, 221, 252)"/>
<rect x="398.8" y="162.33" width="20.05" height="1.72" fill="rgb(218, 218, 251)"/>
<rect x="398.8" y="164" width="20.05" height="2.05" fill="rgb(236, 236, 252)"/>
<rect x="398.8" y="166" width="20.05" height="1.61" fill="rgb(222, 222, 252)"/>
<rect x="398.8" y="167.56" width="20.05" height="1.61" fill="rgb(219, 219, 251)"/>
<rect x="398.8" y="169.11" width="20.05" height="1.61" fill="rgb(222, 222, 252)"/>
<rect x="398.8" y="170.67" width="20.05" height="1.61" fill="rgb(217, 217, 251)"/>
<rect x="398.8" y="172.22" width="20.05" height="1.61" fill="rgb(219, 219, 251)"/>
<rect x="398.8" y="173.78" width="20.05" height="1.61" fill="rgb(221, 221, 252)"/>
<rect x="398.8" y="175.33" width="20.05" height="1.61" fill="rgb(216, 216, 251)"/>
<rect x="398.8" y="176.89" width="20.05" height="1.61" fill="rgb(217, 217, 251)"/>
<rect x="398.8" y="178.44" width="20.05" height="1.61" fill="rgb(221, 221, 252)"/>
<rect x="398.8" y="180" width="20.05" height="1.55" fill="rgb(243, 243, 253)"/>
<rect x="398.8" y="181.5" width="20.05" height="1.55" fill="rgb(243, 243, 253)"/>
<rect x="398.8" y="183" width="20.05" height="1.05" fill="rgb(216, 216, 251)"/>
<rect x="398.8" y="184" width="20.05" height="2.05" fill="rgb(248, 172, 174)"/>
<rect x="398.8" y="186" width="20.05" height="2.05" fill="rgb(246, 125, 125)"/>
<rect x="398.8" y="188" width="20.05" height="2.05" fill="rgb(248, 172, 174)"/>
<rect x="398.8" y="190" width="20.05" height="1.05" fill="rgb(250, 215, 217)"/>
<rect x="398.8" y="191" width="20.05" height="2.05" fill="rgb(245, 122, 122)"/>
<rect x="398.8" y="193" width="20.05" height="2.05" fill="rgb(247, 168, 170)"/>
<rect x="398.8" y="195" width="20.05" height="1.05" fill="rgb(249, 210, 212)"/>
<rect x="398.8" y="196" width="20.05" height="2.05" fill="rgb(247, 168, 170)"/>
<rect x="398.8" y="198" width="20.05" height="2.05" fill="rgb(246, 124, 124)"/>
<rect x="398.8" y="200" width="20.05" height="1.05" fill="rgb(250, 214, 216)"/>
<rect x="398.8" y="201" width="20.05" height="2.05" fill="rgb(248, 172, 174)"/>
<rect x="398.8" y="203" width="20.05" height="2.05" fill="rgb(245, 121, 121)"/>
<rect x="398.8" y="205" width="20.05" height="1.45" fill="rgb(249, 211, 213)"/>
<rect x="418.8" y="17" width="20.05" height="1.38" fill="rgb(217, 217, 251)"/>
<rect x="418.8" y="18.33" width="20.05" height="1.38" fill="rgb(222, 222, 252)"/>
<rect x="418.8" y="19.67" width="20.05" height="1.38" fill="rgb(223, 223, 252)"/>
<rect x="418.8" y="21" width="20.05" height="1.38" fill="rgb(206, 206, 250)"/>
<rect x="418.8" y="22.33" width="20.05" height="1.38" fill="rgb(199, 199, 249)"/>
<rect x="418.8" y="23.67" width="20.05" height="1.38" fill="rgb(199, 199, 249)"/>
<rect x="418.8" y="25" width="20.05" height="1.05" fill="rgb(206, 206, 250)"/>
<rect x="418.8" y="26" width="20.05" height="1.55" fill="rgb(159, 159, 246)"/>
<rect x="418.8" y="27.5" width="20.05" height="1.55" fill="rgb(205, 205, 250)"/>
<rect x="418.8" y="29" width="20.05" height="1.55" fill="rgb(201, 201, 249)"/>
<rect x="418.8" y="30.5" width="20.05" height="1.55" fill="rgb(202, 202, 249)"/>
<rect x="418.8" y="32" width="20.05" height="1.62" fill="rgb(220, 220, 252)"/>
<rect x="418.8" y="33.57" width="20.05" height="1.62" fill="rgb(219, 219, 251)"/>
<rect x="418.8" y="35.14" width="20.05" height="1.62" fill="rgb(220, 220, 252)"/>
<rect x="418.8" y="36.71" width="20.05" height="1.62" fill="rgb(216, 216, 251)"/>
<rect x="418.8" y="38.29" width="20.05" height="1.62" fill="rgb(221, 221, 252)"/>
<rect x="418.8" y="39.86" width="20.05" height="1.62" fill="rgb(222, 222, 252)"/>
<rect x="418.8" y="41.43" width="20.05" height="1.62" fill="rgb(217, 217, 251)"/>
<rect x="418.8" y="43" width="20.05" height="1.05" fill="rgb(249, 213, 215)"/>
<rect x="418.8" y="44" width="20.05" height="1.65" fill="rgb(204, 204, 250)"/>
<rect x="418.8" y="45.6" width="20.05" height="1.65" fill="rgb(202, 202, 249)"/>
<rect x="418.8" y="47.2" width="20.05" height="1.65" fill="rgb(200, 200, 249)"/>
<rect x="418.8" y="48.8" width="20.05" height="1.65" fill="rgb(200, 200, 249)"/>
<rect x="418.8" y="50.4" width="20.05" height="1.65" fill="rgb(203, 203, 250)"/>
<rect x="418.8" y="52" width="20.05" height="1.38" fill="rgb(180, 180, 248)"/>
<rect x="418.8" y="53.33" width="20.05" height="1.38" fill="rgb(187, 187, 249)"/>
<rect x="418.8" y="54.67" width="20.05" height="1.38" fill="rgb(186, 186, 249)"/>
<rect x="418.8" y="56" width="20.05" height="1.38" fill="rgb(241, 241, 253)"/>
<rect x="418.8" y="57.33" width="20.05" height="1.38" fill="rgb(242, 242, 253)"/>
<rect x="418.8" y="58.67" width="20.05" height="1.38" fill="rgb(241, 241, 253)"/>
<rect x="418.8" y="60" width="20.05" height="1.69" fill="rgb(202, 202, 249)"/>
<rect x="418.8" y="61.64" width="20.05" height="1.69" fill="rgb(203, 203, 250)"/>
<rect x="418.8" y="63.28" width="20.05" height="1.69" fill="rgb(203, 203, 250)"/>
<rect x="418.8" y="64.92" width="20.05" height="1.69" fill="rgb(206, 206, 250)"/>
<rect x="418.8" y="66.56" width="20.05" height="1.69" fill="rgb(205, 205, 250)"/>
<rect x="418.8" y="68.2" width="20.05" height="2.25" fill="rgb(158, 158, 246)"/>
<rect x="418.8" y="70.4" width="20.05" height="1.75" fill="rgb(206, 206, 250)"/>
<rect x="418.8" y="72.1" width="20.05" height="1.75" fill="rgb(204, 204, 250)"/>
<rect x="418.8" y="73.8" width="20.05" height="1.75" fill="rgb(248, 174, 176)"/>
<rect x="418.8" y="75.5" width="20.05" height="1.4" fill="rgb(246, 125, 125)"/>
<rect x="418.8" y="76.85" width="20.05" height="1.4" fill="rgb(245, 123, 123)"/>
<rect x="418.8" y="78.2" width="20.05" height="1.32" fill="rgb(187, 187, 249)"/>
<rect x="418.8" y="79.47" width="20.05" height="1.32" fill="rgb(187, 187, 249)"/>
<rect x="418.8" y="80.73" width="20.05" height="1.32" fill="rgb(185, 185, 249)"/>
<rect x="418.8" y="82" width="20.05" height="1.38" fill="rgb(222, 222, 252)"/>
<rect x="418.8" y="83.33" width="20.05" height="1.38" fill="rgb(222, 222, 252)"/>
<rect x="418.8" y="84.67" width="20.05" height="1.38" fill="rgb(219, 219, 251)"/>
<rect x="418.8" y="86" width="20.05" height="1.55" fill="rgb(204, 204, 250)"/>
<rect x="418.8" y="87.5" width="20.05" height="1.55" fill="rgb(199, 199, 249)"/>
<rect x="418.8" y="89" width="20.05" height="1.55" fill="rgb(201, 201, 249)"/>
<rect x="418.8" y="90.5" width="20.05" height="1.55" fill="rgb(202, 202, 249)"/>
<rect x="418.8" y="92" width="20.05" height="1.48" fill="rgb(180, 180, 248)"/>
<rect x="418.8" y="93.43" width="20.05" height="1.48" fill="rgb(182, 182, 248)"/>
<rect x="418.8" y="94.87" width="20.05" height="1.48" fill="rgb(185, 185, 249)"/>
<rect x="418.8" y="96.3" width="20.05" height="1.48" fill="rgb(184, 184, 249)"/>
<rect x="418.8" y="97.73" width="20.05" height="1.48" fill="rgb(181, 181, 248)"/>
<rect x="418.8" y="99.17" width="20.05" height="1.48" fill="rgb(187, 187, 249)"/>
<rect x="418.8" y="100.6" width="20.05" height="8.15" fill="rgb(243, 80, 80)"/>
<rect x="418.8" y="108.7" width="20.05" height="1.7" fill="rgb(221, 221, 252)"/>
<rect x="418.8" y="110.35" width="20.05" height="1.7" fill="rgb(218, 218, 251)"/>
<rect x="418.8" y="112" width="20.05" height="1.38" fill="rgb(221, 221, 252)"/>
<rect x="418.8" y="113.33" width="20.05" height="1.38" fill="rgb(220, 220, 252)"/>
<rect x="418.8" y="114.67" width="20.05" height="1.38" fill="rgb(220, 220, 252)"/>
<rect x="418.8" y="116" width="20.05" height="1.38" fill="rgb(202, 202, 249)"/>
<rect x="418.8" y="117.33" width="20.05" height="1.38" fill="rgb(206, 206, 250)"/>
<rect x="418.8" y="118.67" width="20.05" height="1.38" fill="rgb(204, 204, 250)"/>
<rect x="418.8" y="120" width="20.05" height="1.38" fill="rgb(185, 185, 249)"/>
<rect x="418.8" y="121.33" width="20.05" height="1.38" fill="rgb(186, 186, 249)"/>
<rect x="418.8" y="122.67" width="20.05" height="1.38" fill="rgb(187, 187, 249)"/>
<rect x="418.8" y="124" width="20.05" height="2.25" fill="rgb(249, 210, 212)"/>
<rect x="418.8" y="126.2" width="20.05" height="1.55" fill="rgb(246, 124, 124)"/>
<rect x="418.8" y="127.7" width="20.05" height="1.55" fill="rgb(246, 125, 125)"/>
<rect x="418.8" y="129.2" width="20.05" height="1.55" fill="rgb(245, 122, 122)"/>
<rect x="418.8" y="130.7" width="20.05" height="17.35" fill="rgb(243, 80, 80)"/>
<rect x="418.8" y="148" width="20.05" height="2.05" fill="rgb(239, 239, 252)"/>
<rect x="418.8" y="150" width="20.05" height="1.8" fill="rgb(247, 168, 170)"/>
<rect x="418.8" y="151.75" width="20.05" height="1.8" fill="rgb(247, 169, 171)"/>
<rect x="418.8" y="153.5" width="20.05" height="1.55" fill="rgb(245, 123, 123)"/>
<rect x="418.8" y="155" width="20.05" height="1.55" fill="rgb(245, 121, 121)"/>
<rect x="418.8" y="156.5" width="20.05" height="1.3" fill="rgb(247, 170, 172)"/>
<rect x="418.8" y="157.75" width="20.05" height="1.3" fill="rgb(248, 175, 177)"/>
<rect x="418.8" y="159" width="20.05" height="1.55" fill="rgb(246, 124, 124)"/>
<rect x="418.8" y="160.5" width="20.05" height="1.55" fill="rgb(246, 124, 124)"/>
<rect x="418.8" y="162" width="20.05" height="1.8" fill="rgb(248, 175, 177)"/>
<rect x="418.8" y="163.75" width="20.05" height="1.8" fill="rgb(248, 172, 174)"/>
<rect x="418.8" y="165.5" width="20.05" height="1.55" fill="rgb(250, 217, 219)"/>
<rect x="418.8" y="167" width="20.05" height="1.62" fill="rgb(221, 221, 252)"/>
<rect x="418.8" y="168.57" width="20.05" height="1.62" fill="rgb(222, 222, 252)"/>
<rect x="418.8" y="170.14" width="20.05" height="1.62" fill="rgb(216, 216, 251)"/>
<rect x="418.8" y="171.71" width="20.05" height="1.62" fill="rgb(220, 220, 252)"/>
<rect x="418.8" y="173.29" width="20.05" height="1.62" fill="rgb(222, 222, 252)"/>
<rect x="418.8" y="174.86" width="20.05" height="1.62" fill="rgb(216, 216, 251)"/>
<rect x="418.8" y="176.43" width="20.05" height="1.62" fill="rgb(223, 223, 252)"/>
<rect x="418.8" y="178" width="20.05" height="1.55" fill="rgb(237, 237, 252)"/>
<rect x="418.8" y="179.5" width="20.05" height="1.55" fill="rgb(239, 239, 252)"/>
<rect x="418.8" y="181" width="20.05" height="1.55" fill="rgb(217, 217, 251)"/>
<rect x="418.8" y="182.5" width="20.05" height="1.55" fill="rgb(219, 219, 251)"/>
<rect x="418.8" y="184" width="20.05" height="2.05" fill="rgb(250, 214, 216)"/>
<rect x="418.8" y="186" width="20.05" height="2.05" fill="rgb(247, 168, 170)"/>
<rect x="418.8" y="188" width="20.05" height="1.05" fill="rgb(243, 243, 253)"/>
<rect x="418.8" y="189" width="20.05" height="2.05" fill="rgb(249, 213, 215)"/>
<rect x="418.8" y="191" width="20.05" height="2.05" fill="rgb(248, 172, 174)"/>
<rect x="418.8" y="193" width="20.05" height="2.05" fill="rgb(240, 240, 253)"/>
<rect x="418.8" y="195" width="20.05" height="2.05" fill="rgb(249, 212, 214)"/>
<rect x="418.8" y="197" width="20.05" height="1.05" fill="rgb(218, 218, 251)"/>
<rect x="418.8" y="198" width="20.05" height="2.05" fill="rgb(250, 215, 217)"/>
<rect x="418.8" y="200" width="20.05" height="2.05" fill="rgb(248, 172, 174)"/>
<rect x="418.8" y="202" width="20.05" height="2.05" fill="rgb(249, 212, 214)"/>
<rect x="418.8" y="204" width="20.05" height="1.25" fill="rgb(248, 173, 175)"/>
<rect x="418.8" y="205.2" width="20.05" height="1.25" fill="rgb(247, 170, 172)"/>
<rect x="438.8" y="17" width="20.05" height="1.55" fill="rgb(180, 180, 248)"/>
<rect x="438.8" y="18.5" width="20.05" height="1.55" fill="rgb(181, 181, 248)"/>
<rect x="438.8" y="20" width="20.05" height="1.55" fill="rgb(199, 199, 249)"/>
<rect x="438.8" y="21.5" width="20.05" height="1.2" fill="rgb(217, 217, 251)"/>
<rect x="438.8" y="22.65" width="20.05" height="1.2" fill="rgb(222, 222, 252)"/>
<rect x="438.8" y="23.8" width="20.05" height="2.25" fill="rgb(249, 213, 215)"/>
<rect x="438.8" y="26" width="20.05" height="2.05" fill="rgb(223, 223, 252)"/>
<rect x="438.8" y="28" width="20.05" height="1.72" fill="rgb(204, 204, 250)"/>
<rect x="438.8" y="29.67" width="20.05" height="1.72" fill="rgb(199, 199, 249)"/>
<rect x="438.8" y="31.33" width="20.05" height="1.72" fill="rgb(206, 206, 250)"/>
<rect x="438.8" y="33" width="20.05" height="1.45" fill="rgb(223, 223, 252)"/>
<rect x="438.8" y="34.4" width="20.05" height="1.45" fill="rgb(216, 216, 251)"/>
<rect x="438.8" y="35.8" width="20.05" height="1.45" fill="rgb(223, 223, 252)"/>
<rect x="438.8" y="37.2" width="20.05" height="1.45" fill="rgb(219, 219, 251)"/>
<rect x="438.8" y="38.6" width="20.05" height="1.45" fill="rgb(219, 219, 251)"/>
<rect x="438.8" y="40" width="20.05" height="1.72" fill="rgb(206, 206, 250)"/>
<rect x="438.8" y="41.67" width="20.05" height="1.72" fill="rgb(200, 200, 249)"/>
<rect x="438.8" y="43.33" width="20.05" height="1.72" fill="rgb(203, 203, 250)"/>
<rect x="438.8" y="45" width="20.05" height="1.72" fill="rgb(187, 187, 249)"/>
<rect x="438.8" y="46.67" width="20.05" height="1.72" fill="rgb(185, 185, 249)"/>
<rect x="438.8" y="48.33" width="20.05" height="1.72" fill="rgb(183, 183, 248)"/>
<rect x="438.8" y="50" width="20.05" height="1.55" fill="rgb(206, 206, 250)"/>
<rect x="438.8" y="51.5" width="20.05" height="1.55" fill="rgb(205, 205, 250)"/>
<rect x="438.8" y="53" width="20.05" height="1.38" fill="rgb(184, 184, 249)"/>
<rect x="438.8" y="54.33" width="20.05" height="1.38" fill="rgb(180, 180, 248)"/>
<rect x="438.8" y="55.67" width="20.05" height="1.38" fill="rgb(184, 184, 249)"/>
<rect x="438.8" y="57" width="20.05" height="1.75" fill="rgb(119, 119, 243)"/>
<rect x="438.8" y="58.7" width="20.05" height="1.75" fill="rgb(117, 117, 243)"/>
<rect x="438.8" y="60.4" width="20.05" height="1.65" fill="rgb(236, 236, 252)"/>
<rect x="438.8" y="62" width="20.05" height="1.65" fill="rgb(203, 203, 250)"/>
<rect x="438.8" y="63.6" width="20.05" height="1.65" fill="rgb(199, 199, 249)"/>
<rect x="438.8" y="65.2" width="20.05" height="1.65" fill="rgb(202, 202, 249)"/>
<rect x="438.8" y="66.8" width="20.05" height="1.65" fill="rgb(204, 204, 250)"/>
<rect x="438.8" y="68.4" width="20.05" height="1.65" fill="rgb(202, 202, 249)"/>
<rect x="438.8" y="70" width="20.05" height="1.72" fill="rgb(218, 218, 251)"/>
<rect x="438.8" y="71.67" width="20.05" height="1.72" fill="rgb(220, 220, 252)"/>
<rect x="438.8" y="73.33" width="20.05" height="1.72" fill="rgb(219, 219, 251)"/>
<rect x="438.8" y="75" width="20.05" height="1.72" fill="rgb(205, 205, 250)"/>
<rect x="438.8" y="76.67" width="20.05" height="1.72" fill="rgb(203, 203, 250)"/>
<rect x="438.8" y="78.33" width="20.05" height="1.72" fill="rgb(206, 206, 250)"/>
<rect x="438.8" y="80" width="20.05" height="1.55" fill="rgb(223, 223, 252)"/>
<rect x="438.8" y="81.5" width="20.05" height="1.55" fill="rgb(221, 221, 252)"/>
<rect x="438.8" y="83" width="20.05" height="1.55" fill="rgb(217, 217, 251)"/>
<rect x="438.8" y="84.5" width="20.05" height="1.55" fill="rgb(216, 216, 251)"/>
<rect x="438.8" y="86" width="20.05" height="1.55" fill="rgb(206, 206, 250)"/>
<rect x="438.8" y="87.5" width="20.05" height="1.55" fill="rgb(205, 205, 250)"/>
<rect x="438.8" y="89" width="20.05" height="1.55" fill="rgb(203, 203, 250)"/>
<rect x="438.8" y="90.5" width="20.05" height="1.55" fill="rgb(201, 201, 249)"/>
<rect x="438.8" y="92" width="20.05" height="2.05" fill="rgb(245, 122, 122)"/>
<rect x="438.8" y="94" width="20.05" height="1.48" fill="rgb(204, 204, 250)"/>
<rect x="438.8" y="95.43" width="20.05" height="1.48" fill="rgb(203, 203, 250)"/>
<rect x="438.8" y="96.86" width="20.05" height="1.48" fill="rgb(203, 203, 250)"/>
<rect x="438.8" y="98.29" width="20.05" height="1.48" fill="rgb(204, 204, 250)"/>
<rect x="438.8" y="99.71" width="20.05" height="1.48" fill="rgb(205, 205, 250)"/>
<rect x="438.8" y="101.14" width="20.05" height="1.48" fill="rgb(200, 200, 249)"/>
<rect x="438.8" y="102.57" width="20.05" height="1.48" fill="rgb(200, 200, 249)"/>
<rect x="438.8" y="104" width="20.05" height="1.38" fill="rgb(223, 223, 252)"/>
<rect x="438.8" y="105.33" width="20.05" height="1.38" fill="rgb(223, 223, 252)"/>
<rect x="438.8" y="106.67" width="20.05" height="1.38" fill="rgb(223, 223, 252)"/>
<rect x="438.8" y="108" width="20.05" height="1.48" fill="rgb(199, 199, 249)"/>
<rect x="438.8" y="109.43" width="20.05" height="1.48" fill="rgb(199, 199, 249)"/>
<rect x="438.8" y="110.86" width="20.05" height="1.48" fill="rgb(201, 201, 249)"/>
<rect x="438.8" y="112.29" width="20.05" height="1.48" fill="rgb(202, 202, 249)"/>
<rect x="438.8" y="113.71" width="20.05" height="1.48" fill="rgb(203, 203, 250)"/>
<rect x="438.8" y="115.14" width="20.05" height="1.48" fill="rgb(199, 199, 249)"/>
<rect x="438.8" y="116.57" width="20.05" height="1.48" fill="rgb(203, 203, 250)"/>
<rect x="438.8" y="118" width="20.05" height="1.55" fill="rgb(180, 180, 248)"/>
<rect x="438.8" y="119.5" width="20.05" height="1.55" fill="rgb(180, 180, 248)"/>
<rect x="438.8" y="121" width="20.05" height="1.55" fill="rgb(185, 185, 249)"/>
<rect x="438.8" y="122.5" width="20.05" height="1.55" fill="rgb(184, 184, 249)"/>
<rect x="438.8" y="124" width="20.05" height="2.05" fill="rgb(204, 204, 250)"/>
<rect x="438.8" y="126" width="20.05" height="1.5" fill="rgb(238, 238, 252)"/>
<rect x="438.8" y="127.45" width="20.05" height="1.5" fill="rgb(239, 239, 252)"/>
<rect x="438.8" y="128.9" width="20.05" height="1.5" fill="rgb(237, 237, 252)"/>
<rect x="438.8" y="130.35" width="20.05" height="1.5" fill="rgb(238, 238, 252)"/>
<rect x="438.8" y="131.8" width="20.05" height="1.25" fill="rgb(250, 215, 217)"/>
<rect x="438.8" y="133" width="20.05" height="1.45" fill="rgb(242, 242, 253)"/>
<rect x="438.8" y="134.4" width="20.05" height="1.45" fill="rgb(236, 236, 252)"/>
<rect x="438.8" y="135.8" width="20.05" height="1.45" fill="rgb(236, 236, 252)"/>
<rect x="438.8" y="137.2" width="20.05" height="1.45" fill="rgb(242, 242, 253)"/>
<rect x="438.8" y="138.6" width="20.05" height="1.45" fill="rgb(240, 240, 253)"/>
<rect x="438.8" y="140" width="20.05" height="1.55" fill="rgb(222, 222, 252)"/>
<rect x="438.8" y="141.5" width="20.05" height="1.55" fill="rgb(217, 217, 251)"/>
<rect x="438.8" y="143" width="20.05" height="1.65" fill="rgb(239, 239, 252)"/>
<rect x="438.8" y="144.6" width="20.05" height="1.65" fill="rgb(238, 238, 252)"/>
<rect x="438.8" y="146.2" width="20.05" height="1.65" fill="rgb(242, 242, 253)"/>
<rect x="438.8" y="147.8" width="20.05" height="14.25" fill="rgb(243, 80, 80)"/>
<rect x="438.8" y="162" width="20.05" height="1.3" fill="rgb(245, 123, 123)"/>
<rect x="438.8" y="163.25" width="20.05" height="1.3" fill="rgb(246, 124, 124)"/>
<rect x="438.8" y="164.5" width="20.05" height="18.55" fill="rgb(243, 80, 80)"/>
<rect x="438.8" y="183" width="20.05" height="1.55" fill="rgb(246, 126, 126)"/>
<rect x="438.8" y="184.5" width="20.05" height="1.55" fill="rgb(245, 122, 122)"/>
<rect x="438.8" y="186" width="20.05" height="2.05" fill="rgb(248, 172, 174)"/>
<rect x="438.8" y="188" width="20.05" height="2.05" fill="rgb(246, 125, 125)"/>
<rect x="438.8" y="190" width="20.05" height="1.05" fill="rgb(248, 175, 177)"/>
<rect x="438.8" y="191" width="20.05" height="2.05" fill="rgb(245, 123, 123)"/>
<rect x="438.8" y="193" width="20.05" height="1.05" fill="rgb(249, 212, 214)"/>
<rect x="438.8" y="194" width="20.05" height="2.05" fill="rgb(245, 121, 121)"/>
<rect x="438.8" y="196" width="20.05" height="2.05" fill="rgb(248, 175, 177)"/>
<rect x="438.8" y="198" width="20.05" height="2.05" fill="rgb(245, 121, 121)"/>
<rect x="438.8" y="200" width="20.05" height="2.05" fill="rgb(247, 168, 170)"/>
<rect x="438.8" y="202" width="20.05" height="2.05" fill="rgb(246, 124, 124)"/>
<rect x="438.8" y="204" width="20.05" height="1.25" fill="rgb(247, 171, 173)"/>
<rect x="438.8" y="205.2" width="20.05" height="1.25" fill="rgb(248, 173, 175)"/>
<path d="M368.8 17.1V10.5H388.8V17.1" stroke="#666" stroke-width="0.55" fill="none"/>
<path d="M348.8 17.1V9.4H378.8V10.5" stroke="#666" stroke-width="0.55" fill="none"/>
<path d="M428.8 17.1V8.7H448.8V17.1" stroke="#666" stroke-width="0.55" fill="none"/>
<path d="M408.8 17.1V7.8H438.8V8.7" stroke="#666" stroke-width="0.55" fill="none"/>
<path d="M363.8 9.4V7H423.8V7.8" stroke="#666" stroke-width="0.55" fill="none"/>
<path d="M338.8 18.19H337.41V20.16H338.8 M337.41 19.17H336.37V22.13H338.8 M336.37 20.65H336.02V24.1H338.8 M338.8 26.07H337.49V28.04H338.8 M336.02 22.37H335.3V27.05H337.49 M338.8 31.98H337.46V33.95H338.8 M338.8 35.92H337.43V37.89H338.8 M338.8 41.84H337.24V43.81H338.8 M338.8 39.86H336.36V42.82H337.24 M336.36 41.34H336.06V45.78H338.8 M337.43 36.91H335.22V43.56H336.06 M337.46 32.97H334.81V40.23H335.22 M338.8 30.01H334.6V36.6H334.81 M338.8 49.72H337.35V51.69H338.8 M338.8 47.75H336.44V50.7H337.35 M334.6 33.31H334.14V49.23H336.44 M338.8 53.66H337.46V55.63H338.8 M338.8 61.54H337.27V63.51H338.8 M338.8 59.57H336.76V62.53H337.27 M338.8 57.6H335.78V61.05H336.76 M337.46 54.65H335.21V59.33H335.78 M334.14 41.27H332.75V56.99H335.21 M338.8 67.46H337.29V69.43H338.8 M338.8 65.49H336.72V68.44H337.29 M336.72 66.96H335.8V71.4H338.8 M338.8 73.37H337.39V75.34H338.8 M337.39 74.35H336.32V77.31H338.8 M335.8 69.18H335.03V75.83H336.32 M338.8 79.28H337.23V81.25H338.8 M337.23 80.27H336.69V83.22H338.8 M338.8 85.19H337.28V87.16H338.8 M337.28 86.18H336.56V89.14H338.8 M336.56 87.66H335.99V91.11H338.8 M336.69 81.74H335.16V89.38H335.99 M338.8 95.05H337.47V97.02H338.8 M338.8 98.99H337.41V100.96H338.8 M337.47 96.03H336.2V99.98H337.41 M338.8 104.9H337.32V106.87H338.8 M338.8 102.93H336.62V105.89H337.32 M338.8 110.81H337.49V112.79H338.8 M338.8 108.84H336.39V111.8H337.49 M336.62 104.41H335.09V110.32H336.39 M336.2 98H334.37V107.37H335.09 M338.8 93.08H333.42V102.68H334.37 M335.16 85.56H332.4V97.88H333.42 M338.8 116.73H337.24V118.7H338.8 M338.8 114.76H336.61V117.71H337.24 M338.8 120.67H337.47V122.64H338.8 M336.61 116.23H335.25V121.65H337.47 M338.8 124.61H337.38V126.58H338.8 M335.25 118.94H334.57V125.6H337.38 M338.8 128.55H337.42V130.52H338.8 M334.57 122.27H334.42V129.54H337.42 M338.8 132.49H337.23V134.46H338.8 M337.23 133.48H336.33V136.44H338.8 M338.8 138.41H337.37V140.38H338.8 M336.33 134.96H335.47V139.39H337.37 M338.8 144.32H337.47V146.29H338.8 M338.8 142.35H336.41V145.3H337.47 M336.41 143.83H335.9V148.26H338.8 M335.47 137.17H334.12V146.04H335.9 M334.42 125.9H332.95V141.61H334.12 M332.4 91.72H331.24V133.76H332.95 M335.03 72.51H330.62V112.74H331.24 M338.8 150.23H337.23V152.2H338.8 M338.8 154.17H337.49V156.14H338.8 M337.49 155.16H336.32V158.11H338.8 M337.23 151.22H335.5V156.64H336.32 M338.8 160.09H337.45V162.06H338.8 M338.8 166H337.24V167.97H338.8 M338.8 164.03H336.37V166.98H337.24 M337.45 161.07H335.24V165.51H336.37 M338.8 173.88H337.24V175.85H338.8 M338.8 171.91H336.39V174.87H337.24 M338.8 169.94H335.99V173.39H336.39 M338.8 177.82H337.38V179.79H338.8 M337.38 178.81H336.7V181.76H338.8 M335.99 171.66H334.89V180.29H336.7 M335.24 163.29H333.71V175.98H334.89 M335.5 153.93H333.33V169.63H333.71 M338.8 185.71H337.42V187.68H338.8 M338.8 183.74H336.36V186.69H337.42 M338.8 189.65H337.41V191.62H338.8 M338.8 195.56H337.3V197.53H338.8 M338.8 193.59H336.63V196.55H337.3 M337.41 190.63H335.66V195.07H336.63 M338.8 201.47H337.51V203.44H338.8 M338.8 199.5H336.46V202.46H337.51 M336.46 200.98H335.68V205.41H338.8 M335.66 192.85H334.51V203.2H335.68 M336.36 185.21H334.17V198.02H334.51 M333.33 161.78H332.38V191.62H334.17 M330.62 92.62H330.4V176.7H332.38 M332.75 49.13H329.3V134.66H330.4 M335.3 24.71H328.7V91.89H329.3" stroke="#555" stroke-width="0.42" fill="none"/>
<line x1="338.3" y1="17.6" x2="338.3" y2="206" stroke="#555" stroke-width="0.6"/>
<defs><linearGradient id="lg" x1="0" y1="0" x2="0" y2="1"><stop offset="0" stop-color="#f00000"/><stop offset="0.5" stop-color="#ffffff"/><stop offset="1" stop-color="#0000f0"/></linearGradient></defs>
<rect x="460.8" y="17" width="3.9" height="59.6" fill="url(#lg)"/>
<text class="s" x="466" y="48.4" font-size="3.8" fill="#555">0</text>
<text class="s" x="466" y="78.3" font-size="3.8" fill="#555">−3</text>
<text class="s" transform="translate(352.7,212.7) rotate(-45)" font-size="7.7" text-anchor="end" fill="#111" stroke="#111" stroke-width="0.15">Banana</text>
<text class="s" transform="translate(372.7,212.7) rotate(-45)" font-size="7.7" text-anchor="end" fill="#111" stroke="#111" stroke-width="0.15">Mango</text>
<text class="s" transform="translate(392.7,212.7) rotate(-45)" font-size="7.7" text-anchor="end" fill="#111" stroke="#111" stroke-width="0.15">Grape</text>
<text class="s" transform="translate(412.7,212.7) rotate(-45)" font-size="7.7" text-anchor="end" fill="#111" stroke="#111" stroke-width="0.15">Corn</text>
<text class="s" transform="translate(432.7,212.7) rotate(-45)" font-size="7.7" text-anchor="end" fill="#111" stroke="#111" stroke-width="0.15">Wheat</text>
<text class="s" transform="translate(452.7,212.7) rotate(-45)" font-size="7.7" text-anchor="end" fill="#111" stroke="#111" stroke-width="0.15">Rice</text>
<text class="b" x="305.5" y="15.2" font-size="10" fill="#111">(b)</text>
<line x1="91.7" y1="271.5" x2="91.7" y2="376.2" stroke="#666" stroke-width="0.5" stroke-dasharray="1.2,0.9,0.3,0.9"/>
<line x1="101.3" y1="271.5" x2="101.3" y2="376.2" stroke="#666" stroke-width="0.5" stroke-dasharray="1.2,0.9,0.3,0.9"/>
<line x1="20.4" y1="358.02" x2="162.5" y2="358.02" stroke="#666" stroke-width="0.5" stroke-dasharray="1.2,0.9,0.3,0.9"/>
<circle cx="89.51" cy="347.62" r="1.6" fill="#BEBEBE"/>
<circle cx="103.95" cy="326.62" r="1.6" fill="#BEBEBE"/>
<circle cx="103.14" cy="339.6" r="1.6" fill="#BEBEBE"/>
<circle cx="90.22" cy="350.42" r="1.6" fill="#BEBEBE"/>
<circle cx="88.4" cy="352.27" r="1.6" fill="#BEBEBE"/>
<circle cx="101" cy="323.64" r="1.6" fill="#BEBEBE"/>
<circle cx="92.42" cy="357.39" r="1.6" fill="#BEBEBE"/>
<circle cx="101.18" cy="351.29" r="1.6" fill="#BEBEBE"/>
<circle cx="104.22" cy="338.48" r="1.6" fill="#BEBEBE"/>
<circle cx="88.95" cy="344.14" r="1.6" fill="#BEBEBE"/>
<circle cx="103.95" cy="341.19" r="1.6" fill="#BEBEBE"/>
<circle cx="92.56" cy="346.15" r="1.6" fill="#BEBEBE"/>
<circle cx="91.31" cy="327.76" r="1.6" fill="#BEBEBE"/>
<circle cx="105.59" cy="332.05" r="1.6" fill="#BEBEBE"/>
<circle cx="93.18" cy="325.78" r="1.6" fill="#BEBEBE"/>
<circle cx="93.06" cy="351.57" r="1.6" fill="#BEBEBE"/>
<circle cx="90.99" cy="355.61" r="1.6" fill="#BEBEBE"/>
<circle cx="91.99" cy="353.16" r="1.6" fill="#BEBEBE"/>
<circle cx="104.54" cy="340.33" r="1.6" fill="#BEBEBE"/>
<circle cx="98.63" cy="326.2" r="1.6" fill="#BEBEBE"/>
<circle cx="104.01" cy="319.44" r="1.6" fill="#BEBEBE"/>
<circle cx="97.52" cy="344.76" r="1.6" fill="#BEBEBE"/>
<circle cx="101.57" cy="348.07" r="1.6" fill="#BEBEBE"/>
<circle cx="88.11" cy="356.28" r="1.6" fill="#BEBEBE"/>
<circle cx="89.98" cy="357.5" r="1.6" fill="#BEBEBE"/>
<circle cx="91.06" cy="332.54" r="1.6" fill="#BEBEBE"/>
<circle cx="101.57" cy="356.55" r="1.6" fill="#BEBEBE"/>
<circle cx="102.28" cy="347.49" r="1.6" fill="#BEBEBE"/>
<circle cx="100.5" cy="349.47" r="1.6" fill="#BEBEBE"/>
<circle cx="104.81" cy="350.9" r="1.6" fill="#BEBEBE"/>
<circle cx="90.99" cy="319.37" r="1.6" fill="#BEBEBE"/>
<circle cx="104.88" cy="352.03" r="1.6" fill="#BEBEBE"/>
<circle cx="92.82" cy="356.19" r="1.6" fill="#BEBEBE"/>
<circle cx="104.71" cy="350.79" r="1.6" fill="#BEBEBE"/>
<circle cx="99.82" cy="353" r="1.6" fill="#BEBEBE"/>
<circle cx="89.34" cy="351.17" r="1.6" fill="#BEBEBE"/>
<circle cx="92.04" cy="354.65" r="1.6" fill="#BEBEBE"/>
<circle cx="103.13" cy="355.49" r="1.6" fill="#BEBEBE"/>
<circle cx="97.3" cy="327.57" r="1.6" fill="#BEBEBE"/>
<circle cx="100.39" cy="355.58" r="1.6" fill="#BEBEBE"/>
<circle cx="88.79" cy="322.68" r="1.6" fill="#BEBEBE"/>
<circle cx="91.97" cy="354.57" r="1.6" fill="#BEBEBE"/>
<circle cx="104.18" cy="327.24" r="1.6" fill="#BEBEBE"/>
<circle cx="89.09" cy="353.91" r="1.6" fill="#BEBEBE"/>
<circle cx="99.77" cy="347.97" r="1.6" fill="#BEBEBE"/>
<circle cx="99.26" cy="356.92" r="1.6" fill="#BEBEBE"/>
<circle cx="104.51" cy="346.91" r="1.6" fill="#BEBEBE"/>
<circle cx="105.69" cy="355.22" r="1.6" fill="#BEBEBE"/>
<circle cx="93.76" cy="325.69" r="1.6" fill="#BEBEBE"/>
<circle cx="105.26" cy="335.19" r="1.6" fill="#BEBEBE"/>
<circle cx="100.52" cy="355.62" r="1.6" fill="#BEBEBE"/>
<circle cx="99.99" cy="330.22" r="1.6" fill="#BEBEBE"/>
<circle cx="91.05" cy="352.12" r="1.6" fill="#BEBEBE"/>
<circle cx="92.91" cy="339.49" r="1.6" fill="#BEBEBE"/>
<circle cx="103.24" cy="320.3" r="1.6" fill="#BEBEBE"/>
<circle cx="102.19" cy="350.43" r="1.6" fill="#BEBEBE"/>
<circle cx="100.92" cy="347.69" r="1.6" fill="#BEBEBE"/>
<circle cx="101.15" cy="352.45" r="1.6" fill="#BEBEBE"/>
<circle cx="94.25" cy="357.08" r="1.6" fill="#BEBEBE"/>
<circle cx="88.84" cy="348.79" r="1.6" fill="#BEBEBE"/>
<circle cx="100.5" cy="350.79" r="1.6" fill="#BEBEBE"/>
<circle cx="87.77" cy="343.94" r="1.6" fill="#BEBEBE"/>
<circle cx="89.32" cy="354.89" r="1.6" fill="#BEBEBE"/>
<circle cx="103.75" cy="352.65" r="1.6" fill="#BEBEBE"/>
<circle cx="103.92" cy="346.43" r="1.6" fill="#BEBEBE"/>
<circle cx="104.27" cy="351.95" r="1.6" fill="#BEBEBE"/>
<circle cx="103.6" cy="343.89" r="1.6" fill="#BEBEBE"/>
<circle cx="91.26" cy="322.72" r="1.6" fill="#BEBEBE"/>
<circle cx="105.23" cy="319.54" r="1.6" fill="#BEBEBE"/>
<circle cx="101.39" cy="356.78" r="1.6" fill="#BEBEBE"/>
<circle cx="103.01" cy="333.26" r="1.6" fill="#BEBEBE"/>
<circle cx="92.41" cy="353.8" r="1.6" fill="#BEBEBE"/>
<circle cx="100.49" cy="338.84" r="1.6" fill="#BEBEBE"/>
<circle cx="94.54" cy="352.6" r="1.6" fill="#BEBEBE"/>
<circle cx="102.86" cy="343.74" r="1.6" fill="#BEBEBE"/>
<circle cx="98.36" cy="343.02" r="1.6" fill="#BEBEBE"/>
<circle cx="102.32" cy="354.08" r="1.6" fill="#BEBEBE"/>
<circle cx="101.37" cy="336.8" r="1.6" fill="#BEBEBE"/>
<circle cx="99.89" cy="336.35" r="1.6" fill="#BEBEBE"/>
<circle cx="88.46" cy="352.63" r="1.6" fill="#BEBEBE"/>
<circle cx="99.35" cy="337.47" r="1.6" fill="#BEBEBE"/>
<circle cx="96.44" cy="339.51" r="1.6" fill="#BEBEBE"/>
<circle cx="93.59" cy="341.55" r="1.6" fill="#BEBEBE"/>
<circle cx="89.31" cy="350.47" r="1.6" fill="#BEBEBE"/>
<circle cx="91.31" cy="348.17" r="1.6" fill="#BEBEBE"/>
<circle cx="88.4" cy="320.86" r="1.6" fill="#BEBEBE"/>
<circle cx="101.16" cy="351.36" r="1.6" fill="#BEBEBE"/>
<circle cx="90.81" cy="332.12" r="1.6" fill="#BEBEBE"/>
<circle cx="100.31" cy="334.84" r="1.6" fill="#BEBEBE"/>
<circle cx="96.37" cy="320.87" r="1.6" fill="#BEBEBE"/>
<circle cx="100.81" cy="326.97" r="1.6" fill="#BEBEBE"/>
<circle cx="102.58" cy="349.29" r="1.6" fill="#BEBEBE"/>
<circle cx="88.4" cy="357.32" r="1.6" fill="#BEBEBE"/>
<circle cx="102.49" cy="341.58" r="1.6" fill="#BEBEBE"/>
<circle cx="95.46" cy="349.05" r="1.6" fill="#BEBEBE"/>
<circle cx="90.33" cy="337.4" r="1.6" fill="#BEBEBE"/>
<circle cx="89.29" cy="355.37" r="1.6" fill="#BEBEBE"/>
<circle cx="91.15" cy="356.5" r="1.6" fill="#BEBEBE"/>
<circle cx="102.66" cy="343.24" r="1.6" fill="#BEBEBE"/>
<circle cx="102.21" cy="356.91" r="1.6" fill="#BEBEBE"/>
<circle cx="96.66" cy="333.2" r="1.6" fill="#BEBEBE"/>
<circle cx="90.24" cy="353.75" r="1.6" fill="#BEBEBE"/>
<circle cx="89.65" cy="351.83" r="1.6" fill="#BEBEBE"/>
<circle cx="104.37" cy="338.2" r="1.6" fill="#BEBEBE"/>
<circle cx="102.27" cy="325.47" r="1.6" fill="#BEBEBE"/>
<circle cx="91.98" cy="338.79" r="1.6" fill="#BEBEBE"/>
<circle cx="90.09" cy="335.54" r="1.6" fill="#BEBEBE"/>
<circle cx="102.36" cy="353.19" r="1.6" fill="#BEBEBE"/>
<circle cx="98.33" cy="331.56" r="1.6" fill="#BEBEBE"/>
<circle cx="92.88" cy="349.87" r="1.6" fill="#BEBEBE"/>
<circle cx="89.44" cy="324.2" r="1.6" fill="#BEBEBE"/>
<circle cx="101.5" cy="331.15" r="1.6" fill="#BEBEBE"/>
<circle cx="93.8" cy="347.48" r="1.6" fill="#BEBEBE"/>
<circle cx="105.24" cy="353.13" r="1.6" fill="#BEBEBE"/>
<circle cx="104.54" cy="321.5" r="1.6" fill="#BEBEBE"/>
<circle cx="88.64" cy="319.84" r="1.6" fill="#BEBEBE"/>
<circle cx="100.64" cy="353.51" r="1.6" fill="#BEBEBE"/>
<circle cx="94.53" cy="343.35" r="1.6" fill="#BEBEBE"/>
<circle cx="105.6" cy="339.55" r="1.6" fill="#BEBEBE"/>
<circle cx="105.22" cy="344.78" r="1.6" fill="#BEBEBE"/>
<circle cx="92.04" cy="333.15" r="1.6" fill="#BEBEBE"/>
<circle cx="99.56" cy="349.21" r="1.6" fill="#BEBEBE"/>
<circle cx="88.64" cy="345.62" r="1.6" fill="#BEBEBE"/>
<circle cx="88.29" cy="353.07" r="1.6" fill="#BEBEBE"/>
<circle cx="90.83" cy="334.36" r="1.6" fill="#BEBEBE"/>
<circle cx="96.19" cy="367" r="1.6" fill="#BEBEBE"/>
<circle cx="94.09" cy="371.61" r="1.6" fill="#BEBEBE"/>
<circle cx="100.32" cy="362.32" r="1.6" fill="#BEBEBE"/>
<circle cx="99.06" cy="362.14" r="1.6" fill="#BEBEBE"/>
<circle cx="98.82" cy="372.44" r="1.6" fill="#BEBEBE"/>
<circle cx="94.99" cy="370.32" r="1.6" fill="#BEBEBE"/>
<circle cx="93.01" cy="361.75" r="1.6" fill="#BEBEBE"/>
<circle cx="96.81" cy="363.3" r="1.6" fill="#BEBEBE"/>
<circle cx="91.84" cy="363.73" r="1.6" fill="#BEBEBE"/>
<circle cx="97.35" cy="358.05" r="1.6" fill="#BEBEBE"/>
<circle cx="101.63" cy="366.16" r="1.6" fill="#BEBEBE"/>
<circle cx="101.76" cy="366.34" r="1.6" fill="#BEBEBE"/>
<circle cx="94.83" cy="366.88" r="1.6" fill="#BEBEBE"/>
<circle cx="99.93" cy="368.59" r="1.6" fill="#BEBEBE"/>
<circle cx="95.17" cy="371.37" r="1.6" fill="#BEBEBE"/>
<circle cx="95.5" cy="367.44" r="1.6" fill="#BEBEBE"/>
<circle cx="96.37" cy="358.52" r="1.6" fill="#BEBEBE"/>
<circle cx="94.48" cy="368.73" r="1.6" fill="#BEBEBE"/>
<circle cx="94.57" cy="359.94" r="1.6" fill="#BEBEBE"/>
<circle cx="95.04" cy="358.27" r="1.6" fill="#BEBEBE"/>
<circle cx="98.52" cy="362.05" r="1.6" fill="#BEBEBE"/>
<circle cx="94.2" cy="365.92" r="1.6" fill="#BEBEBE"/>
<circle cx="98.19" cy="369.72" r="1.6" fill="#BEBEBE"/>
<circle cx="96.25" cy="368.37" r="1.6" fill="#BEBEBE"/>
<circle cx="97.06" cy="369.6" r="1.6" fill="#BEBEBE"/>
<circle cx="93.86" cy="365.22" r="1.6" fill="#BEBEBE"/>
<circle cx="96.49" cy="369.63" r="1.6" fill="#BEBEBE"/>
<circle cx="99.47" cy="367.51" r="1.6" fill="#BEBEBE"/>
<circle cx="96.62" cy="370.56" r="1.6" fill="#BEBEBE"/>
<circle cx="101.89" cy="361.32" r="1.6" fill="#BEBEBE"/>
<circle cx="91.05" cy="360.35" r="1.6" fill="#BEBEBE"/>
<circle cx="97.03" cy="367.61" r="1.6" fill="#BEBEBE"/>
<circle cx="97.65" cy="371.89" r="1.6" fill="#BEBEBE"/>
<circle cx="99.62" cy="365.3" r="1.6" fill="#BEBEBE"/>
<circle cx="98.21" cy="361.97" r="1.6" fill="#BEBEBE"/>
<circle cx="95.53" cy="362" r="1.6" fill="#BEBEBE"/>
<circle cx="92.73" cy="358.34" r="1.6" fill="#BEBEBE"/>
<circle cx="92.33" cy="361.42" r="1.6" fill="#BEBEBE"/>
<circle cx="95.66" cy="371.53" r="1.6" fill="#BEBEBE"/>
<circle cx="95.58" cy="371.81" r="1.6" fill="#BEBEBE"/>
<circle cx="94.9" cy="370.59" r="1.6" fill="#BEBEBE"/>
<circle cx="103.66" cy="359.91" r="1.6" fill="#BEBEBE"/>
<circle cx="89.34" cy="363.34" r="1.6" fill="#BEBEBE"/>
<circle cx="100.66" cy="362.59" r="1.6" fill="#BEBEBE"/>
<circle cx="98.07" cy="363.91" r="1.6" fill="#BEBEBE"/>
<circle cx="103.16" cy="360.78" r="1.6" fill="#BEBEBE"/>
<circle cx="95.09" cy="370.51" r="1.6" fill="#BEBEBE"/>
<circle cx="98.62" cy="370.91" r="1.6" fill="#BEBEBE"/>
<circle cx="91.59" cy="362.1" r="1.6" fill="#BEBEBE"/>
<circle cx="95.81" cy="366.72" r="1.6" fill="#BEBEBE"/>
<circle cx="94.84" cy="364.23" r="1.6" fill="#BEBEBE"/>
<circle cx="93.87" cy="360.32" r="1.6" fill="#BEBEBE"/>
<circle cx="92.12" cy="357.72" r="1.6" fill="#BEBEBE"/>
<circle cx="94.75" cy="369.85" r="1.6" fill="#BEBEBE"/>
<circle cx="94.55" cy="360.35" r="1.6" fill="#BEBEBE"/>
<circle cx="93.73" cy="365.96" r="1.6" fill="#BEBEBE"/>
<circle cx="94.27" cy="370.29" r="1.6" fill="#BEBEBE"/>
<circle cx="96.17" cy="367.68" r="1.6" fill="#BEBEBE"/>
<circle cx="99.73" cy="360.2" r="1.6" fill="#BEBEBE"/>
<circle cx="92.91" cy="358.38" r="1.6" fill="#BEBEBE"/>
<circle cx="104.22" cy="365.32" r="1.6" fill="#BEBEBE"/>
<circle cx="93.62" cy="364.51" r="1.6" fill="#BEBEBE"/>
<circle cx="99.15" cy="362.08" r="1.6" fill="#BEBEBE"/>
<circle cx="95.15" cy="357.9" r="1.6" fill="#BEBEBE"/>
<circle cx="91.26" cy="361.79" r="1.6" fill="#BEBEBE"/>
<circle cx="97.62" cy="358.82" r="1.6" fill="#BEBEBE"/>
<circle cx="96.07" cy="363.13" r="1.6" fill="#BEBEBE"/>
<circle cx="93.08" cy="360.66" r="1.6" fill="#BEBEBE"/>
<circle cx="93.11" cy="368.61" r="1.6" fill="#BEBEBE"/>
<circle cx="98.26" cy="365.36" r="1.6" fill="#BEBEBE"/>
<circle cx="90.69" cy="370.03" r="1.6" fill="#BEBEBE"/>
<circle cx="96.06" cy="370.03" r="1.6" fill="#BEBEBE"/>
<circle cx="93.27" cy="368.76" r="1.6" fill="#BEBEBE"/>
<circle cx="96.77" cy="363.77" r="1.6" fill="#BEBEBE"/>
<circle cx="101.99" cy="358.99" r="1.6" fill="#BEBEBE"/>
<circle cx="93.79" cy="369.39" r="1.6" fill="#BEBEBE"/>
<circle cx="90.28" cy="370.67" r="1.6" fill="#BEBEBE"/>
<circle cx="93.48" cy="365.2" r="1.6" fill="#BEBEBE"/>
<circle cx="97.99" cy="372.34" r="1.6" fill="#BEBEBE"/>
<circle cx="97.79" cy="366.62" r="1.6" fill="#BEBEBE"/>
<circle cx="92.77" cy="370.11" r="1.6" fill="#BEBEBE"/>
<circle cx="95.76" cy="363.73" r="1.6" fill="#BEBEBE"/>
<circle cx="97.47" cy="368.13" r="1.6" fill="#BEBEBE"/>
<circle cx="91.03" cy="357.96" r="1.6" fill="#BEBEBE"/>
<circle cx="98.64" cy="367.85" r="1.6" fill="#BEBEBE"/>
<circle cx="96.5" cy="359.65" r="1.6" fill="#BEBEBE"/>
<circle cx="98.27" cy="369.34" r="1.6" fill="#BEBEBE"/>
<circle cx="102.13" cy="358.92" r="1.6" fill="#BEBEBE"/>
<circle cx="93.68" cy="361.16" r="1.6" fill="#BEBEBE"/>
<circle cx="88.3" cy="358.91" r="1.6" fill="#BEBEBE"/>
<circle cx="93.58" cy="367.24" r="1.6" fill="#BEBEBE"/>
<circle cx="99.89" cy="359.01" r="1.6" fill="#BEBEBE"/>
<circle cx="104.35" cy="357.88" r="1.6" fill="#BEBEBE"/>
<circle cx="99.43" cy="365.45" r="1.6" fill="#BEBEBE"/>
<circle cx="99.17" cy="367.21" r="1.6" fill="#BEBEBE"/>
<circle cx="98.69" cy="371.25" r="1.6" fill="#BEBEBE"/>
<circle cx="97.87" cy="361.01" r="1.6" fill="#BEBEBE"/>
<circle cx="93.22" cy="372.49" r="1.6" fill="#BEBEBE"/>
<circle cx="94.95" cy="366.54" r="1.6" fill="#BEBEBE"/>
<circle cx="94.89" cy="369.59" r="1.6" fill="#BEBEBE"/>
<circle cx="93.1" cy="362.77" r="1.6" fill="#BEBEBE"/>
<circle cx="94.8" cy="372.45" r="1.6" fill="#BEBEBE"/>
<circle cx="97.63" cy="369.67" r="1.6" fill="#BEBEBE"/>
<circle cx="97.66" cy="363.48" r="1.6" fill="#BEBEBE"/>
<circle cx="95.99" cy="364.06" r="1.6" fill="#BEBEBE"/>
<circle cx="94.41" cy="366.45" r="1.6" fill="#BEBEBE"/>
<circle cx="95.02" cy="364.89" r="1.6" fill="#BEBEBE"/>
<circle cx="100.64" cy="364.62" r="1.6" fill="#BEBEBE"/>
<circle cx="99.07" cy="372.32" r="1.6" fill="#BEBEBE"/>
<circle cx="100.49" cy="367.56" r="1.6" fill="#BEBEBE"/>
<circle cx="100.33" cy="364.99" r="1.6" fill="#BEBEBE"/>
<circle cx="97.97" cy="369.9" r="1.6" fill="#BEBEBE"/>
<circle cx="95.55" cy="363.37" r="1.6" fill="#BEBEBE"/>
<circle cx="91.71" cy="359.23" r="1.6" fill="#BEBEBE"/>
<circle cx="95.62" cy="370.67" r="1.6" fill="#BEBEBE"/>
<circle cx="98.9" cy="369.32" r="1.6" fill="#BEBEBE"/>
<circle cx="97.66" cy="370.9" r="1.6" fill="#BEBEBE"/>
<circle cx="94.93" cy="370.51" r="1.6" fill="#BEBEBE"/>
<circle cx="92.65" cy="360.28" r="1.6" fill="#BEBEBE"/>
<circle cx="95.82" cy="370.77" r="1.6" fill="#BEBEBE"/>
<circle cx="94.17" cy="368.77" r="1.6" fill="#BEBEBE"/>
<circle cx="91.44" cy="363.33" r="1.6" fill="#BEBEBE"/>
<circle cx="98.76" cy="364.77" r="1.6" fill="#BEBEBE"/>
<circle cx="98.57" cy="361.04" r="1.6" fill="#BEBEBE"/>
<circle cx="100.07" cy="368.89" r="1.6" fill="#BEBEBE"/>
<circle cx="100.79" cy="367.04" r="1.6" fill="#BEBEBE"/>
<circle cx="98.92" cy="364.8" r="1.6" fill="#BEBEBE"/>
<circle cx="98.54" cy="366.52" r="1.6" fill="#BEBEBE"/>
<circle cx="100.1" cy="360.14" r="1.6" fill="#BEBEBE"/>
<circle cx="96.07" cy="364.63" r="1.6" fill="#BEBEBE"/>
<circle cx="94.56" cy="362.38" r="1.6" fill="#BEBEBE"/>
<circle cx="97.68" cy="370.6" r="1.6" fill="#BEBEBE"/>
<circle cx="92.89" cy="358.91" r="1.6" fill="#BEBEBE"/>
<circle cx="99.5" cy="365.29" r="1.6" fill="#BEBEBE"/>
<circle cx="95.3" cy="362.98" r="1.6" fill="#BEBEBE"/>
<circle cx="96.62" cy="362.72" r="1.6" fill="#BEBEBE"/>
<circle cx="96.84" cy="364.64" r="1.6" fill="#BEBEBE"/>
<circle cx="93.21" cy="364.35" r="1.6" fill="#BEBEBE"/>
<circle cx="95.97" cy="367.8" r="1.6" fill="#BEBEBE"/>
<circle cx="101.12" cy="360.96" r="1.6" fill="#BEBEBE"/>
<circle cx="92.8" cy="367.28" r="1.6" fill="#BEBEBE"/>
<circle cx="95.79" cy="370.89" r="1.6" fill="#BEBEBE"/>
<circle cx="98.09" cy="369.78" r="1.6" fill="#BEBEBE"/>
<circle cx="96.4" cy="371.97" r="1.6" fill="#BEBEBE"/>
<circle cx="94.26" cy="364.78" r="1.6" fill="#BEBEBE"/>
<circle cx="98.04" cy="371.53" r="1.6" fill="#BEBEBE"/>
<circle cx="97.02" cy="371.98" r="1.6" fill="#BEBEBE"/>
<circle cx="93.38" cy="359.72" r="1.6" fill="#BEBEBE"/>
<circle cx="93.81" cy="361.11" r="1.6" fill="#BEBEBE"/>
<circle cx="90.9" cy="358.8" r="1.6" fill="#BEBEBE"/>
<circle cx="100.39" cy="357.6" r="1.6" fill="#BEBEBE"/>
<circle cx="96.38" cy="358.37" r="1.6" fill="#BEBEBE"/>
<circle cx="100.99" cy="365.09" r="1.6" fill="#BEBEBE"/>
<circle cx="99.5" cy="366.02" r="1.6" fill="#BEBEBE"/>
<circle cx="97.72" cy="367.21" r="1.6" fill="#BEBEBE"/>
<circle cx="95.67" cy="361.29" r="1.6" fill="#BEBEBE"/>
<circle cx="94.65" cy="369.67" r="1.6" fill="#BEBEBE"/>
<circle cx="94.31" cy="363.46" r="1.6" fill="#BEBEBE"/>
<circle cx="102.48" cy="367.31" r="1.6" fill="#BEBEBE"/>
<circle cx="94.93" cy="371.47" r="1.6" fill="#BEBEBE"/>
<circle cx="96.78" cy="372.31" r="1.6" fill="#BEBEBE"/>
<circle cx="96.87" cy="370.26" r="1.6" fill="#BEBEBE"/>
<circle cx="92.54" cy="361.79" r="1.6" fill="#BEBEBE"/>
<circle cx="96.23" cy="372.24" r="1.6" fill="#BEBEBE"/>
<circle cx="97.87" cy="364.75" r="1.6" fill="#BEBEBE"/>
<circle cx="97.47" cy="371.28" r="1.6" fill="#BEBEBE"/>
<circle cx="100.01" cy="370.07" r="1.6" fill="#BEBEBE"/>
<circle cx="102.9" cy="363.7" r="1.6" fill="#BEBEBE"/>
<circle cx="92.24" cy="368.84" r="1.6" fill="#BEBEBE"/>
<circle cx="94.21" cy="365.44" r="1.6" fill="#BEBEBE"/>
<circle cx="88.85" cy="358.14" r="1.6" fill="#BEBEBE"/>
<circle cx="94.33" cy="364.28" r="1.6" fill="#BEBEBE"/>
<circle cx="94.62" cy="370.22" r="1.6" fill="#BEBEBE"/>
<circle cx="97.51" cy="363.51" r="1.6" fill="#BEBEBE"/>
<circle cx="88.3" cy="361.5" r="1.6" fill="#BEBEBE"/>
<circle cx="96.47" cy="366.9" r="1.6" fill="#BEBEBE"/>
<circle cx="97.43" cy="369.4" r="1.6" fill="#BEBEBE"/>
<circle cx="98.85" cy="366.75" r="1.6" fill="#BEBEBE"/>
<circle cx="102.94" cy="363.88" r="1.6" fill="#BEBEBE"/>
<circle cx="96.93" cy="359.89" r="1.6" fill="#BEBEBE"/>
<circle cx="98.56" cy="367.87" r="1.6" fill="#BEBEBE"/>
<circle cx="96.15" cy="362.14" r="1.6" fill="#BEBEBE"/>
<circle cx="88.3" cy="363.09" r="1.6" fill="#BEBEBE"/>
<circle cx="93.69" cy="360.15" r="1.6" fill="#BEBEBE"/>
<circle cx="98.78" cy="361.76" r="1.6" fill="#BEBEBE"/>
<circle cx="95.28" cy="367.99" r="1.6" fill="#BEBEBE"/>
<circle cx="97.06" cy="368.76" r="1.6" fill="#BEBEBE"/>
<circle cx="96.5" cy="369.28" r="1.6" fill="#BEBEBE"/>
<circle cx="95.78" cy="371.49" r="1.6" fill="#BEBEBE"/>
<circle cx="92.31" cy="359.42" r="1.6" fill="#BEBEBE"/>
<circle cx="98.44" cy="365.98" r="1.6" fill="#BEBEBE"/>
<circle cx="98.85" cy="358.24" r="1.6" fill="#BEBEBE"/>
<circle cx="94.2" cy="365.81" r="1.6" fill="#BEBEBE"/>
<circle cx="97.11" cy="361.39" r="1.6" fill="#BEBEBE"/>
<circle cx="98.59" cy="358.81" r="1.6" fill="#BEBEBE"/>
<circle cx="96.66" cy="372.36" r="1.6" fill="#BEBEBE"/>
<circle cx="95.53" cy="358.2" r="1.6" fill="#BEBEBE"/>
<circle cx="93.6" cy="366.86" r="1.6" fill="#BEBEBE"/>
<circle cx="102.64" cy="362.68" r="1.6" fill="#BEBEBE"/>
<circle cx="95.81" cy="364.19" r="1.6" fill="#BEBEBE"/>
<circle cx="98.06" cy="364.59" r="1.6" fill="#BEBEBE"/>
<circle cx="95.93" cy="370.88" r="1.6" fill="#BEBEBE"/>
<circle cx="93.56" cy="367.31" r="1.6" fill="#BEBEBE"/>
<circle cx="95.15" cy="366.9" r="1.6" fill="#BEBEBE"/>
<circle cx="96.52" cy="359.24" r="1.6" fill="#BEBEBE"/>
<circle cx="99.89" cy="361.39" r="1.6" fill="#BEBEBE"/>
<circle cx="95.53" cy="359.15" r="1.6" fill="#BEBEBE"/>
<circle cx="94.15" cy="369.03" r="1.6" fill="#BEBEBE"/>
<circle cx="98.72" cy="364" r="1.6" fill="#BEBEBE"/>
<circle cx="95.73" cy="365.77" r="1.6" fill="#BEBEBE"/>
<circle cx="97.72" cy="362.02" r="1.6" fill="#BEBEBE"/>
<circle cx="91.89" cy="363.19" r="1.6" fill="#BEBEBE"/>
<circle cx="91.85" cy="362.31" r="1.6" fill="#BEBEBE"/>
<circle cx="91.88" cy="363.16" r="1.6" fill="#BEBEBE"/>
<circle cx="115.68" cy="367.36" r="1.6" fill="#BEBEBE"/>
<circle cx="110.97" cy="367.18" r="1.6" fill="#BEBEBE"/>
<circle cx="105.71" cy="362.26" r="1.6" fill="#BEBEBE"/>
<circle cx="101.64" cy="367.15" r="1.6" fill="#BEBEBE"/>
<circle cx="96.78" cy="358.01" r="1.6" fill="#BEBEBE"/>
<circle cx="80.84" cy="359.1" r="1.6" fill="#BEBEBE"/>
<circle cx="98.96" cy="363.73" r="1.6" fill="#BEBEBE"/>
<circle cx="99.81" cy="362.95" r="1.6" fill="#BEBEBE"/>
<circle cx="90.55" cy="360.83" r="1.6" fill="#BEBEBE"/>
<circle cx="87.24" cy="360.18" r="1.6" fill="#BEBEBE"/>
<circle cx="112.68" cy="366.74" r="1.6" fill="#BEBEBE"/>
<circle cx="97.12" cy="360.68" r="1.6" fill="#BEBEBE"/>
<circle cx="88.71" cy="366.54" r="1.6" fill="#BEBEBE"/>
<circle cx="90.28" cy="360.05" r="1.6" fill="#BEBEBE"/>
<circle cx="110.86" cy="366.14" r="1.6" fill="#BEBEBE"/>
<circle cx="78.65" cy="363.6" r="1.6" fill="#BEBEBE"/>
<circle cx="107.03" cy="366.79" r="1.6" fill="#BEBEBE"/>
<circle cx="88.31" cy="361.22" r="1.6" fill="#BEBEBE"/>
<circle cx="87.39" cy="363.73" r="1.6" fill="#BEBEBE"/>
<circle cx="110.25" cy="363.25" r="1.6" fill="#BEBEBE"/>
<circle cx="108.24" cy="366.23" r="1.6" fill="#BEBEBE"/>
<circle cx="87.03" cy="359.93" r="1.6" fill="#BEBEBE"/>
<circle cx="103.49" cy="361.18" r="1.6" fill="#BEBEBE"/>
<circle cx="100.66" cy="359.5" r="1.6" fill="#BEBEBE"/>
<circle cx="88.6" cy="306.1" r="1.6" fill="#BEBEBE"/>
<circle cx="105.8" cy="303.3" r="1.6" fill="#BEBEBE"/>
<circle cx="88" cy="313.4" r="1.6" fill="#BEBEBE"/>
<circle cx="104.9" cy="317.7" r="1.6" fill="#BEBEBE"/>
<circle cx="75.23" cy="350.06" r="1.6" fill="#0000CC"/>
<circle cx="80.96" cy="322.03" r="1.6" fill="#0000CC"/>
<circle cx="83.1" cy="350.58" r="1.6" fill="#0000CC"/>
<circle cx="80.61" cy="337.08" r="1.6" fill="#0000CC"/>
<circle cx="82.76" cy="343.25" r="1.6" fill="#0000CC"/>
<circle cx="78.47" cy="345.64" r="1.6" fill="#0000CC"/>
<circle cx="71.8" cy="347.8" r="1.6" fill="#0000CC"/>
<circle cx="83.02" cy="329.26" r="1.6" fill="#0000CC"/>
<circle cx="74.02" cy="349.34" r="1.6" fill="#0000CC"/>
<circle cx="70.06" cy="327.36" r="1.6" fill="#0000CC"/>
<circle cx="72.28" cy="352.95" r="1.6" fill="#0000CC"/>
<circle cx="87.08" cy="331.4" r="1.6" fill="#0000CC"/>
<circle cx="77.66" cy="325.41" r="1.6" fill="#0000CC"/>
<circle cx="72.72" cy="329.8" r="1.6" fill="#0000CC"/>
<circle cx="76.51" cy="330.94" r="1.6" fill="#0000CC"/>
<circle cx="85.51" cy="327.66" r="1.6" fill="#0000CC"/>
<circle cx="80.66" cy="346.38" r="1.6" fill="#0000CC"/>
<circle cx="85.52" cy="345.4" r="1.6" fill="#0000CC"/>
<circle cx="83.72" cy="344.02" r="1.6" fill="#0000CC"/>
<circle cx="83.14" cy="327.15" r="1.6" fill="#0000CC"/>
<circle cx="86.47" cy="322.14" r="1.6" fill="#0000CC"/>
<circle cx="76.17" cy="335.31" r="1.6" fill="#0000CC"/>
<circle cx="86.66" cy="352.58" r="1.6" fill="#0000CC"/>
<circle cx="77.17" cy="320.78" r="1.6" fill="#0000CC"/>
<circle cx="75.47" cy="342" r="1.6" fill="#0000CC"/>
<circle cx="81.74" cy="338.52" r="1.6" fill="#0000CC"/>
<circle cx="69.09" cy="333.83" r="1.6" fill="#0000CC"/>
<circle cx="77.6" cy="343.52" r="1.6" fill="#0000CC"/>
<circle cx="83.19" cy="332.82" r="1.6" fill="#0000CC"/>
<circle cx="74.71" cy="343.52" r="1.6" fill="#0000CC"/>
<circle cx="81.48" cy="339.01" r="1.6" fill="#0000CC"/>
<circle cx="85.44" cy="349.21" r="1.6" fill="#0000CC"/>
<circle cx="87.45" cy="343.8" r="1.6" fill="#0000CC"/>
<circle cx="81.52" cy="328.19" r="1.6" fill="#0000CC"/>
<circle cx="78.73" cy="341.57" r="1.6" fill="#0000CC"/>
<circle cx="87" cy="338.13" r="1.6" fill="#0000CC"/>
<circle cx="86.19" cy="349.57" r="1.6" fill="#0000CC"/>
<circle cx="83.85" cy="332.15" r="1.6" fill="#0000CC"/>
<circle cx="85.55" cy="321.78" r="1.6" fill="#0000CC"/>
<circle cx="85.93" cy="325.61" r="1.6" fill="#0000CC"/>
<circle cx="77.88" cy="351.35" r="1.6" fill="#0000CC"/>
<circle cx="85.47" cy="324.13" r="1.6" fill="#0000CC"/>
<circle cx="79.88" cy="324.28" r="1.6" fill="#0000CC"/>
<circle cx="82.47" cy="348.15" r="1.6" fill="#0000CC"/>
<circle cx="85.71" cy="345.89" r="1.6" fill="#0000CC"/>
<circle cx="82.2" cy="303.53" r="1.6" fill="#0000CC"/>
<circle cx="78.79" cy="312.79" r="1.6" fill="#0000CC"/>
<circle cx="77.11" cy="305.67" r="1.6" fill="#0000CC"/>
<circle cx="82.63" cy="316.73" r="1.6" fill="#0000CC"/>
<circle cx="81.98" cy="313.94" r="1.6" fill="#0000CC"/>
<circle cx="76.1" cy="307.45" r="1.6" fill="#0000CC"/>
<circle cx="57.09" cy="353.32" r="1.6" fill="#0000CC"/>
<circle cx="57.72" cy="349.33" r="1.6" fill="#0000CC"/>
<circle cx="52.55" cy="340.45" r="1.6" fill="#0000CC"/>
<circle cx="66.26" cy="348.91" r="1.6" fill="#0000CC"/>
<circle cx="61.27" cy="330.65" r="1.6" fill="#0000CC"/>
<circle cx="66.82" cy="327.47" r="1.6" fill="#0000CC"/>
<circle cx="67.44" cy="349.06" r="1.6" fill="#0000CC"/>
<circle cx="63.52" cy="341.45" r="1.6" fill="#0000CC"/>
<circle cx="54.62" cy="335.57" r="1.6" fill="#0000CC"/>
<circle cx="62.62" cy="345.34" r="1.6" fill="#0000CC"/>
<circle cx="58.23" cy="349.84" r="1.6" fill="#0000CC"/>
<circle cx="52.85" cy="333.91" r="1.6" fill="#0000CC"/>
<circle cx="53.45" cy="335.07" r="1.6" fill="#0000CC"/>
<circle cx="64.69" cy="348.36" r="1.6" fill="#0000CC"/>
<circle cx="54.39" cy="334.56" r="1.6" fill="#0000CC"/>
<circle cx="53.79" cy="345.52" r="1.6" fill="#0000CC"/>
<circle cx="67.5" cy="271.1" r="1.6" fill="#0000CC"/>
<circle cx="76.1" cy="289.4" r="1.6" fill="#0000CC"/>
<circle cx="77.8" cy="289.4" r="1.6" fill="#0000CC"/>
<circle cx="74.6" cy="308.3" r="1.6" fill="#0000CC"/>
<circle cx="81.5" cy="305" r="1.6" fill="#0000CC"/>
<circle cx="83" cy="307.2" r="1.6" fill="#0000CC"/>
<circle cx="63.65" cy="324.4" r="1.6" fill="#0000CC"/>
<circle cx="28.2" cy="327.7" r="1.6" fill="#0000CC"/>
<circle cx="32.5" cy="320.5" r="1.6" fill="#0000CC"/>
<circle cx="26.3" cy="335.1" r="1.6" fill="#0000CC"/>
<circle cx="29.9" cy="335.1" r="1.6" fill="#0000CC"/>
<circle cx="37.3" cy="328.4" r="1.6" fill="#0000CC"/>
<circle cx="38.3" cy="327.7" r="1.6" fill="#0000CC"/>
<circle cx="39" cy="335.1" r="1.6" fill="#0000CC"/>
<circle cx="41.9" cy="342.1" r="1.6" fill="#0000CC"/>
<circle cx="43.1" cy="343.3" r="1.6" fill="#0000CC"/>
<circle cx="45.5" cy="338" r="1.6" fill="#0000CC"/>
<circle cx="49.1" cy="329.1" r="1.6" fill="#0000CC"/>
<circle cx="48.6" cy="341.1" r="1.6" fill="#0000CC"/>
<circle cx="52.7" cy="341.1" r="1.6" fill="#0000CC"/>
<circle cx="53.4" cy="346" r="1.6" fill="#0000CC"/>
<circle cx="55.3" cy="336.8" r="1.6" fill="#0000CC"/>
<circle cx="58.2" cy="329.1" r="1.6" fill="#0000CC"/>
<circle cx="59.4" cy="340" r="1.6" fill="#0000CC"/>
<circle cx="60.6" cy="346.4" r="1.6" fill="#0000CC"/>
<circle cx="63" cy="340.4" r="1.6" fill="#0000CC"/>
<circle cx="64.2" cy="324.1" r="1.6" fill="#0000CC"/>
<circle cx="65.4" cy="332" r="1.6" fill="#0000CC"/>
<circle cx="66.6" cy="340" r="1.6" fill="#0000CC"/>
<circle cx="67.8" cy="347.6" r="1.6" fill="#0000CC"/>
<circle cx="69.7" cy="356" r="1.6" fill="#0000CC"/>
<circle cx="44" cy="344" r="1.6" fill="#0000CC"/>
<circle cx="50" cy="336" r="1.6" fill="#0000CC"/>
<circle cx="34" cy="332" r="1.6" fill="#0000CC"/>
<circle cx="110.2" cy="348.35" r="1.6" fill="#EE0000"/>
<circle cx="123.6" cy="342.13" r="1.6" fill="#EE0000"/>
<circle cx="111.66" cy="351.38" r="1.6" fill="#EE0000"/>
<circle cx="128.52" cy="343.12" r="1.6" fill="#EE0000"/>
<circle cx="119.89" cy="334.96" r="1.6" fill="#EE0000"/>
<circle cx="105.59" cy="338.95" r="1.6" fill="#EE0000"/>
<circle cx="122.18" cy="330.04" r="1.6" fill="#EE0000"/>
<circle cx="128.12" cy="334.85" r="1.6" fill="#EE0000"/>
<circle cx="112.13" cy="329.25" r="1.6" fill="#EE0000"/>
<circle cx="133.93" cy="349.79" r="1.6" fill="#EE0000"/>
<circle cx="130.44" cy="346.17" r="1.6" fill="#EE0000"/>
<circle cx="106.47" cy="337.7" r="1.6" fill="#EE0000"/>
<circle cx="119.68" cy="331.42" r="1.6" fill="#EE0000"/>
<circle cx="132.63" cy="338.87" r="1.6" fill="#EE0000"/>
<circle cx="109.91" cy="352.12" r="1.6" fill="#EE0000"/>
<circle cx="109.06" cy="355.37" r="1.6" fill="#EE0000"/>
<circle cx="118.41" cy="344.28" r="1.6" fill="#EE0000"/>
<circle cx="115.27" cy="342.3" r="1.6" fill="#EE0000"/>
<circle cx="110.83" cy="329.1" r="1.6" fill="#EE0000"/>
<circle cx="130.18" cy="334.93" r="1.6" fill="#EE0000"/>
<circle cx="127.74" cy="334.15" r="1.6" fill="#EE0000"/>
<circle cx="133.11" cy="354.37" r="1.6" fill="#EE0000"/>
<circle cx="127.01" cy="350.5" r="1.6" fill="#EE0000"/>
<circle cx="122.05" cy="349.53" r="1.6" fill="#EE0000"/>
<circle cx="108.99" cy="342.05" r="1.6" fill="#EE0000"/>
<circle cx="129.07" cy="333.93" r="1.6" fill="#EE0000"/>
<circle cx="131.81" cy="354.18" r="1.6" fill="#EE0000"/>
<circle cx="117.17" cy="338.77" r="1.6" fill="#EE0000"/>
<circle cx="118.36" cy="339.38" r="1.6" fill="#EE0000"/>
<circle cx="133.85" cy="339.4" r="1.6" fill="#EE0000"/>
<circle cx="106.26" cy="330.75" r="1.6" fill="#EE0000"/>
<circle cx="125.97" cy="357.29" r="1.6" fill="#EE0000"/>
<circle cx="119.64" cy="342.5" r="1.6" fill="#EE0000"/>
<circle cx="121.19" cy="350.07" r="1.6" fill="#EE0000"/>
<circle cx="111.83" cy="345.96" r="1.6" fill="#EE0000"/>
<circle cx="121.36" cy="346.37" r="1.6" fill="#EE0000"/>
<circle cx="110.65" cy="333.02" r="1.6" fill="#EE0000"/>
<circle cx="115.42" cy="355.35" r="1.6" fill="#EE0000"/>
<circle cx="115.38" cy="345.62" r="1.6" fill="#EE0000"/>
<circle cx="114.24" cy="331.05" r="1.6" fill="#EE0000"/>
<circle cx="107.37" cy="352" r="1.6" fill="#EE0000"/>
<circle cx="127.65" cy="339.06" r="1.6" fill="#EE0000"/>
<circle cx="124.98" cy="347.94" r="1.6" fill="#EE0000"/>
<circle cx="131.11" cy="356.27" r="1.6" fill="#EE0000"/>
<circle cx="117.1" cy="357.18" r="1.6" fill="#EE0000"/>
<circle cx="132.9" cy="345.42" r="1.6" fill="#EE0000"/>
<circle cx="130.67" cy="342.48" r="1.6" fill="#EE0000"/>
<circle cx="116.2" cy="335.29" r="1.6" fill="#EE0000"/>
<circle cx="130.47" cy="332.79" r="1.6" fill="#EE0000"/>
<circle cx="107.48" cy="351.76" r="1.6" fill="#EE0000"/>
<circle cx="127.56" cy="342.25" r="1.6" fill="#EE0000"/>
<circle cx="129.35" cy="329.54" r="1.6" fill="#EE0000"/>
<circle cx="112.85" cy="336.55" r="1.6" fill="#EE0000"/>
<circle cx="117.46" cy="333.03" r="1.6" fill="#EE0000"/>
<circle cx="107.48" cy="337.97" r="1.6" fill="#EE0000"/>
<circle cx="131.13" cy="357.01" r="1.6" fill="#EE0000"/>
<circle cx="126.76" cy="342.13" r="1.6" fill="#EE0000"/>
<circle cx="112.69" cy="356.29" r="1.6" fill="#EE0000"/>
<circle cx="120.48" cy="349.49" r="1.6" fill="#EE0000"/>
<circle cx="106.31" cy="334.26" r="1.6" fill="#EE0000"/>
<circle cx="129.39" cy="351.46" r="1.6" fill="#EE0000"/>
<circle cx="130.62" cy="345.74" r="1.6" fill="#EE0000"/>
<circle cx="117.64" cy="345.14" r="1.6" fill="#EE0000"/>
<circle cx="129.71" cy="337.09" r="1.6" fill="#EE0000"/>
<circle cx="120.73" cy="336.14" r="1.6" fill="#EE0000"/>
<circle cx="127.4" cy="328.3" r="1.6" fill="#EE0000"/>
<circle cx="125.03" cy="356.14" r="1.6" fill="#EE0000"/>
<circle cx="106.17" cy="345.51" r="1.6" fill="#EE0000"/>
<circle cx="123.85" cy="353.12" r="1.6" fill="#EE0000"/>
<circle cx="122.15" cy="335.59" r="1.6" fill="#EE0000"/>
<circle cx="117.06" cy="356.28" r="1.6" fill="#EE0000"/>
<circle cx="131.31" cy="331.94" r="1.6" fill="#EE0000"/>
<circle cx="108.2" cy="330.77" r="1.6" fill="#EE0000"/>
<circle cx="106.22" cy="341.18" r="1.6" fill="#EE0000"/>
<circle cx="109.51" cy="353.59" r="1.6" fill="#EE0000"/>
<circle cx="124.18" cy="331.73" r="1.6" fill="#EE0000"/>
<circle cx="120.85" cy="337.57" r="1.6" fill="#EE0000"/>
<circle cx="119.58" cy="334.48" r="1.6" fill="#EE0000"/>
<circle cx="110.23" cy="333.43" r="1.6" fill="#EE0000"/>
<circle cx="116.27" cy="348.94" r="1.6" fill="#EE0000"/>
<circle cx="121.18" cy="329.36" r="1.6" fill="#EE0000"/>
<circle cx="125.76" cy="353.78" r="1.6" fill="#EE0000"/>
<circle cx="127.57" cy="351.33" r="1.6" fill="#EE0000"/>
<circle cx="105.72" cy="341.68" r="1.6" fill="#EE0000"/>
<circle cx="107.31" cy="350.54" r="1.6" fill="#EE0000"/>
<circle cx="110.5" cy="348.99" r="1.6" fill="#EE0000"/>
<circle cx="112.71" cy="348.55" r="1.6" fill="#EE0000"/>
<circle cx="114.44" cy="329.24" r="1.6" fill="#EE0000"/>
<circle cx="116.58" cy="337.13" r="1.6" fill="#EE0000"/>
<circle cx="131.17" cy="336.7" r="1.6" fill="#EE0000"/>
<circle cx="119.84" cy="344.21" r="1.6" fill="#EE0000"/>
<circle cx="132.52" cy="330.91" r="1.6" fill="#EE0000"/>
<circle cx="122.63" cy="342.99" r="1.6" fill="#EE0000"/>
<circle cx="126.44" cy="356.53" r="1.6" fill="#EE0000"/>
<circle cx="114.34" cy="348.63" r="1.6" fill="#EE0000"/>
<circle cx="120.48" cy="344.54" r="1.6" fill="#EE0000"/>
<circle cx="107.32" cy="352.03" r="1.6" fill="#EE0000"/>
<circle cx="133.34" cy="338.48" r="1.6" fill="#EE0000"/>
<circle cx="114.57" cy="357.3" r="1.6" fill="#EE0000"/>
<circle cx="108.57" cy="330.25" r="1.6" fill="#EE0000"/>
<circle cx="107.59" cy="352.02" r="1.6" fill="#EE0000"/>
<circle cx="127.16" cy="341.22" r="1.6" fill="#EE0000"/>
<circle cx="123.21" cy="328.58" r="1.6" fill="#EE0000"/>
<circle cx="123.87" cy="341.06" r="1.6" fill="#EE0000"/>
<circle cx="120.25" cy="339.49" r="1.6" fill="#EE0000"/>
<circle cx="116.94" cy="334.65" r="1.6" fill="#EE0000"/>
<circle cx="106.89" cy="340.8" r="1.6" fill="#EE0000"/>
<circle cx="112.54" cy="348.77" r="1.6" fill="#EE0000"/>
<circle cx="128.79" cy="349.35" r="1.6" fill="#EE0000"/>
<circle cx="118.5" cy="334.97" r="1.6" fill="#EE0000"/>
<circle cx="116.48" cy="342.36" r="1.6" fill="#EE0000"/>
<circle cx="123.51" cy="356.41" r="1.6" fill="#EE0000"/>
<circle cx="107.93" cy="342.15" r="1.6" fill="#EE0000"/>
<circle cx="119.52" cy="349.16" r="1.6" fill="#EE0000"/>
<circle cx="130.88" cy="351" r="1.6" fill="#EE0000"/>
<circle cx="123.36" cy="350.38" r="1.6" fill="#EE0000"/>
<circle cx="124.54" cy="353.34" r="1.6" fill="#EE0000"/>
<circle cx="125.42" cy="348.15" r="1.6" fill="#EE0000"/>
<circle cx="112.49" cy="355.04" r="1.6" fill="#EE0000"/>
<circle cx="116.5" cy="346.13" r="1.6" fill="#EE0000"/>
<circle cx="129.01" cy="356.43" r="1.6" fill="#EE0000"/>
<circle cx="133.69" cy="328.19" r="1.6" fill="#EE0000"/>
<circle cx="114.41" cy="337.2" r="1.6" fill="#EE0000"/>
<circle cx="116.65" cy="332.29" r="1.6" fill="#EE0000"/>
<circle cx="121.27" cy="330.35" r="1.6" fill="#EE0000"/>
<circle cx="114.12" cy="355.83" r="1.6" fill="#EE0000"/>
<circle cx="126.66" cy="341.64" r="1.6" fill="#EE0000"/>
<circle cx="108.58" cy="356.2" r="1.6" fill="#EE0000"/>
<circle cx="125.56" cy="334.07" r="1.6" fill="#EE0000"/>
<circle cx="115.06" cy="346.93" r="1.6" fill="#EE0000"/>
<circle cx="124.93" cy="335.7" r="1.6" fill="#EE0000"/>
<circle cx="132.61" cy="337.5" r="1.6" fill="#EE0000"/>
<circle cx="112.75" cy="352.94" r="1.6" fill="#EE0000"/>
<circle cx="109.87" cy="348.09" r="1.6" fill="#EE0000"/>
<circle cx="111.2" cy="345.64" r="1.6" fill="#EE0000"/>
<circle cx="113.41" cy="339.18" r="1.6" fill="#EE0000"/>
<circle cx="132.31" cy="341.78" r="1.6" fill="#EE0000"/>
<circle cx="117.95" cy="346.2" r="1.6" fill="#EE0000"/>
<circle cx="113.5" cy="333.14" r="1.6" fill="#EE0000"/>
<circle cx="116.46" cy="336.04" r="1.6" fill="#EE0000"/>
<circle cx="110.87" cy="356.34" r="1.6" fill="#EE0000"/>
<circle cx="106.48" cy="351.91" r="1.6" fill="#EE0000"/>
<circle cx="132.14" cy="348.79" r="1.6" fill="#EE0000"/>
<circle cx="106.04" cy="342.79" r="1.6" fill="#EE0000"/>
<circle cx="106.62" cy="345.93" r="1.6" fill="#EE0000"/>
<circle cx="125.46" cy="335.09" r="1.6" fill="#EE0000"/>
<circle cx="105.72" cy="344.06" r="1.6" fill="#EE0000"/>
<circle cx="108.19" cy="337.11" r="1.6" fill="#EE0000"/>
<circle cx="118.44" cy="354.39" r="1.6" fill="#EE0000"/>
<circle cx="116.05" cy="331.98" r="1.6" fill="#EE0000"/>
<circle cx="126.48" cy="326.22" r="1.6" fill="#EE0000"/>
<circle cx="119.53" cy="318.49" r="1.6" fill="#EE0000"/>
<circle cx="110.47" cy="322.03" r="1.6" fill="#EE0000"/>
<circle cx="120.13" cy="320.25" r="1.6" fill="#EE0000"/>
<circle cx="126.76" cy="326.43" r="1.6" fill="#EE0000"/>
<circle cx="130.02" cy="326.84" r="1.6" fill="#EE0000"/>
<circle cx="105.97" cy="323.82" r="1.6" fill="#EE0000"/>
<circle cx="107.63" cy="327" r="1.6" fill="#EE0000"/>
<circle cx="125.29" cy="325.59" r="1.6" fill="#EE0000"/>
<circle cx="110.49" cy="318.6" r="1.6" fill="#EE0000"/>
<circle cx="127.1" cy="324.07" r="1.6" fill="#EE0000"/>
<circle cx="121.94" cy="322.71" r="1.6" fill="#EE0000"/>
<circle cx="126.7" cy="321.38" r="1.6" fill="#EE0000"/>
<circle cx="112.65" cy="321.53" r="1.6" fill="#EE0000"/>
<circle cx="113.4" cy="324.27" r="1.6" fill="#EE0000"/>
<circle cx="129.09" cy="318.71" r="1.6" fill="#EE0000"/>
<circle cx="107.29" cy="323.12" r="1.6" fill="#EE0000"/>
<circle cx="123.47" cy="319.9" r="1.6" fill="#EE0000"/>
<circle cx="112.65" cy="318.59" r="1.6" fill="#EE0000"/>
<circle cx="106.48" cy="322.95" r="1.6" fill="#EE0000"/>
<circle cx="123.54" cy="324.53" r="1.6" fill="#EE0000"/>
<circle cx="109.69" cy="319.04" r="1.6" fill="#EE0000"/>
<circle cx="155.51" cy="343.85" r="1.6" fill="#EE0000"/>
<circle cx="138.74" cy="347.2" r="1.6" fill="#EE0000"/>
<circle cx="148.53" cy="343.54" r="1.6" fill="#EE0000"/>
<circle cx="131.02" cy="350.2" r="1.6" fill="#EE0000"/>
<circle cx="133.77" cy="332.89" r="1.6" fill="#EE0000"/>
<circle cx="137.21" cy="343.72" r="1.6" fill="#EE0000"/>
<circle cx="145.3" cy="335.83" r="1.6" fill="#EE0000"/>
<circle cx="147.93" cy="342.86" r="1.6" fill="#EE0000"/>
<circle cx="132.63" cy="350.72" r="1.6" fill="#EE0000"/>
<circle cx="151.18" cy="351.94" r="1.6" fill="#EE0000"/>
<circle cx="146.94" cy="336.78" r="1.6" fill="#EE0000"/>
<circle cx="150.19" cy="351.86" r="1.6" fill="#EE0000"/>
<circle cx="142.36" cy="351.99" r="1.6" fill="#EE0000"/>
<circle cx="156.92" cy="340.58" r="1.6" fill="#EE0000"/>
<circle cx="155.9" cy="352.61" r="1.6" fill="#EE0000"/>
<circle cx="150.74" cy="332.25" r="1.6" fill="#EE0000"/>
<circle cx="137.2" cy="345.5" r="1.6" fill="#EE0000"/>
<circle cx="144.64" cy="348.62" r="1.6" fill="#EE0000"/>
<circle cx="145.89" cy="335.55" r="1.6" fill="#EE0000"/>
<circle cx="155.51" cy="343.8" r="1.6" fill="#EE0000"/>
<circle cx="153.77" cy="336.55" r="1.6" fill="#EE0000"/>
<circle cx="157.93" cy="344.21" r="1.6" fill="#EE0000"/>
<circle cx="150.12" cy="348.28" r="1.6" fill="#EE0000"/>
<circle cx="153.81" cy="339.97" r="1.6" fill="#EE0000"/>
<circle cx="131.1" cy="340.92" r="1.6" fill="#EE0000"/>
<circle cx="132.98" cy="343.88" r="1.6" fill="#EE0000"/>
<circle cx="151.46" cy="339.97" r="1.6" fill="#EE0000"/>
<circle cx="131.99" cy="332.59" r="1.6" fill="#EE0000"/>
<circle cx="139.15" cy="344.77" r="1.6" fill="#EE0000"/>
<circle cx="130.25" cy="346.64" r="1.6" fill="#EE0000"/>
<circle cx="133.7" cy="334.35" r="1.6" fill="#EE0000"/>
<circle cx="155.4" cy="343.51" r="1.6" fill="#EE0000"/>
<circle cx="154.24" cy="343.31" r="1.6" fill="#EE0000"/>
<circle cx="131.83" cy="337.28" r="1.6" fill="#EE0000"/>
<circle cx="139.18" cy="346.1" r="1.6" fill="#EE0000"/>
<circle cx="149.96" cy="348.53" r="1.6" fill="#EE0000"/>
<circle cx="146.02" cy="337.56" r="1.6" fill="#EE0000"/>
<circle cx="139.35" cy="340.32" r="1.6" fill="#EE0000"/>
<circle cx="141.06" cy="337.84" r="1.6" fill="#EE0000"/>
<circle cx="142.5" cy="342.09" r="1.6" fill="#EE0000"/>
<circle cx="130.37" cy="350.1" r="1.6" fill="#EE0000"/>
<circle cx="143.99" cy="349.66" r="1.6" fill="#EE0000"/>
<circle cx="148.82" cy="348.08" r="1.6" fill="#EE0000"/>
<circle cx="157.76" cy="340.29" r="1.6" fill="#EE0000"/>
<circle cx="138.33" cy="332.08" r="1.6" fill="#EE0000"/>
<circle cx="146.45" cy="344.79" r="1.6" fill="#EE0000"/>
<circle cx="143.68" cy="353.95" r="1.6" fill="#EE0000"/>
<circle cx="133.39" cy="337" r="1.6" fill="#EE0000"/>
<circle cx="129.8" cy="282.3" r="1.6" fill="#EE0000"/>
<circle cx="120.8" cy="288.5" r="1.6" fill="#EE0000"/>
<circle cx="117.1" cy="301.2" r="1.6" fill="#EE0000"/>
<circle cx="108.1" cy="305.5" r="1.6" fill="#EE0000"/>
<circle cx="112.6" cy="315.6" r="1.6" fill="#EE0000"/>
<circle cx="118" cy="316.4" r="1.6" fill="#EE0000"/>
<circle cx="121.3" cy="318.9" r="1.6" fill="#EE0000"/>
<circle cx="106.9" cy="320.5" r="1.6" fill="#EE0000"/>
<circle cx="145.2" cy="324.6" r="1.6" fill="#EE0000"/>
<circle cx="155.5" cy="340.2" r="1.6" fill="#EE0000"/>
<circle cx="155.8" cy="344" r="1.6" fill="#EE0000"/>
<circle cx="153.4" cy="346.8" r="1.6" fill="#EE0000"/>
<circle cx="147.6" cy="334.5" r="1.6" fill="#EE0000"/>
<circle cx="145.2" cy="350.6" r="1.6" fill="#EE0000"/>
<path d="M20.4 266.2V376.2H162.5" stroke="#555" stroke-width="0.8" fill="none"/>
<line x1="19.2" y1="371.2" x2="20.4" y2="371.2" stroke="#666" stroke-width="0.5"/>
<text class="s" x="18.8" y="372.4" font-size="3.5" text-anchor="end" fill="#333">0.0</text>
<line x1="19.2" y1="345.85" x2="20.4" y2="345.85" stroke="#666" stroke-width="0.5"/>
<text class="s" x="18.8" y="347.05" font-size="3.5" text-anchor="end" fill="#333">2.5</text>
<line x1="19.2" y1="320.5" x2="20.4" y2="320.5" stroke="#666" stroke-width="0.5"/>
<text class="s" x="18.8" y="321.7" font-size="3.5" text-anchor="end" fill="#333">5.0</text>
<line x1="19.2" y1="295.15" x2="20.4" y2="295.15" stroke="#666" stroke-width="0.5"/>
<text class="s" x="18.8" y="296.35" font-size="3.5" text-anchor="end" fill="#333">7.5</text>
<line x1="19.2" y1="269.8" x2="20.4" y2="269.8" stroke="#666" stroke-width="0.5"/>
<text class="s" x="18.8" y="271" font-size="3.5" text-anchor="end" fill="#333">10.0</text>
<line x1="24.5" y1="376.2" x2="24.5" y2="377.4" stroke="#666" stroke-width="0.5"/>
<text class="s" x="24.5" y="380.8" font-size="3.5" text-anchor="middle" fill="#333">-15</text>
<line x1="48.5" y1="376.2" x2="48.5" y2="377.4" stroke="#666" stroke-width="0.5"/>
<text class="s" x="48.5" y="380.8" font-size="3.5" text-anchor="middle" fill="#333">-10</text>
<line x1="72.5" y1="376.2" x2="72.5" y2="377.4" stroke="#666" stroke-width="0.5"/>
<text class="s" x="72.5" y="380.8" font-size="3.5" text-anchor="middle" fill="#333">-5</text>
<line x1="96.5" y1="376.2" x2="96.5" y2="377.4" stroke="#666" stroke-width="0.5"/>
<text class="s" x="96.5" y="380.8" font-size="3.5" text-anchor="middle" fill="#333">0</text>
<line x1="120.5" y1="376.2" x2="120.5" y2="377.4" stroke="#666" stroke-width="0.5"/>
<text class="s" x="120.5" y="380.8" font-size="3.5" text-anchor="middle" fill="#333">5</text>
<line x1="144.5" y1="376.2" x2="144.5" y2="377.4" stroke="#666" stroke-width="0.5"/>
<text class="s" x="144.5" y="380.8" font-size="3.5" text-anchor="middle" fill="#333">10</text>
<text class="r" x="83.8" y="269.5" font-size="4.75" fill="#111" stroke="#111" stroke-width="0.16">Rice VS Grape</text>
<text class="s" x="91.7" y="385.4" font-size="4.35" text-anchor="middle" fill="#000" stroke="#000" stroke-width="0.1">Log2FoldChange</text>
<text class="s" transform="translate(10.2,321) rotate(-90)" font-size="4.4" text-anchor="middle" fill="#111" stroke="#111" stroke-width="0.1">-log10(pvalue)</text>
<circle cx="135" cy="366.8" r="1.3" fill="#EE0000"/>
<text class="r" x="137" y="368" font-size="3.6" fill="#222" stroke="#222" stroke-width="0.06">Up:234</text>
<circle cx="135" cy="370.7" r="1.3" fill="#0000CC"/>
<text class="r" x="137" y="371.9" font-size="3.6" fill="#222" stroke="#222" stroke-width="0.06">Down:106</text>
<circle cx="135" cy="374.1" r="0.8" fill="none" stroke="#999" stroke-width="0.35"/>
<text class="r" x="137" y="375.3" font-size="3.6" fill="#222" stroke="#222" stroke-width="0.06">Insignificant:514</text>
<text class="b" x="8" y="246.6" font-size="9.6" fill="#111">(c)</text>
<line x1="274.47" y1="264.5" x2="274.47" y2="375.3" stroke="#666" stroke-width="0.5" stroke-dasharray="1.2,0.9,0.3,0.9"/>
<line x1="283.93" y1="264.5" x2="283.93" y2="375.3" stroke="#666" stroke-width="0.5" stroke-dasharray="1.2,0.9,0.3,0.9"/>
<line x1="203.3" y1="355.78" x2="353.2" y2="355.78" stroke="#666" stroke-width="0.5" stroke-dasharray="1.2,0.9,0.3,0.9"/>
<circle cx="274.45" cy="355.04" r="1.6" fill="#BEBEBE"/>
<circle cx="270.42" cy="350.02" r="1.6" fill="#BEBEBE"/>
<circle cx="274.25" cy="350.44" r="1.6" fill="#BEBEBE"/>
<circle cx="275.12" cy="318.69" r="1.6" fill="#BEBEBE"/>
<circle cx="281.76" cy="340.31" r="1.6" fill="#BEBEBE"/>
<circle cx="274.75" cy="323.26" r="1.6" fill="#BEBEBE"/>
<circle cx="270.01" cy="331.42" r="1.6" fill="#BEBEBE"/>
<circle cx="286.66" cy="332.16" r="1.6" fill="#BEBEBE"/>
<circle cx="282.08" cy="332.38" r="1.6" fill="#BEBEBE"/>
<circle cx="278.37" cy="321.72" r="1.6" fill="#BEBEBE"/>
<circle cx="278.79" cy="330.78" r="1.6" fill="#BEBEBE"/>
<circle cx="286.79" cy="350.06" r="1.6" fill="#BEBEBE"/>
<circle cx="287.91" cy="347.56" r="1.6" fill="#BEBEBE"/>
<circle cx="277.24" cy="348.86" r="1.6" fill="#BEBEBE"/>
<circle cx="284.39" cy="340.35" r="1.6" fill="#BEBEBE"/>
<circle cx="272.24" cy="351.55" r="1.6" fill="#BEBEBE"/>
<circle cx="271.44" cy="348.32" r="1.6" fill="#BEBEBE"/>
<circle cx="271.56" cy="340.27" r="1.6" fill="#BEBEBE"/>
<circle cx="277.96" cy="345.65" r="1.6" fill="#BEBEBE"/>
<circle cx="285.54" cy="353.91" r="1.6" fill="#BEBEBE"/>
<circle cx="277.56" cy="354.96" r="1.6" fill="#BEBEBE"/>
<circle cx="275.34" cy="338.54" r="1.6" fill="#BEBEBE"/>
<circle cx="286.89" cy="348.99" r="1.6" fill="#BEBEBE"/>
<circle cx="271.82" cy="335.09" r="1.6" fill="#BEBEBE"/>
<circle cx="286.37" cy="340.82" r="1.6" fill="#BEBEBE"/>
<circle cx="269.82" cy="355.6" r="1.6" fill="#BEBEBE"/>
<circle cx="274.84" cy="329.72" r="1.6" fill="#BEBEBE"/>
<circle cx="279.88" cy="345.97" r="1.6" fill="#BEBEBE"/>
<circle cx="275.79" cy="327.41" r="1.6" fill="#BEBEBE"/>
<circle cx="275.55" cy="348.61" r="1.6" fill="#BEBEBE"/>
<circle cx="281.91" cy="352.79" r="1.6" fill="#BEBEBE"/>
<circle cx="284.68" cy="346.61" r="1.6" fill="#BEBEBE"/>
<circle cx="275.91" cy="328.51" r="1.6" fill="#BEBEBE"/>
<circle cx="278.02" cy="354.31" r="1.6" fill="#BEBEBE"/>
<circle cx="280.11" cy="336.36" r="1.6" fill="#BEBEBE"/>
<circle cx="276.28" cy="326.99" r="1.6" fill="#BEBEBE"/>
<circle cx="287.07" cy="355.83" r="1.6" fill="#BEBEBE"/>
<circle cx="285.68" cy="331.82" r="1.6" fill="#BEBEBE"/>
<circle cx="275.9" cy="318.82" r="1.6" fill="#BEBEBE"/>
<circle cx="272.9" cy="329.65" r="1.6" fill="#BEBEBE"/>
<circle cx="275.51" cy="346.75" r="1.6" fill="#BEBEBE"/>
<circle cx="282.02" cy="326.86" r="1.6" fill="#BEBEBE"/>
<circle cx="280.31" cy="333.75" r="1.6" fill="#BEBEBE"/>
<circle cx="280.23" cy="322.31" r="1.6" fill="#BEBEBE"/>
<circle cx="274.97" cy="333.11" r="1.6" fill="#BEBEBE"/>
<circle cx="272.01" cy="350.72" r="1.6" fill="#BEBEBE"/>
<circle cx="270.81" cy="350.84" r="1.6" fill="#BEBEBE"/>
<circle cx="269.94" cy="351.72" r="1.6" fill="#BEBEBE"/>
<circle cx="283.93" cy="333.45" r="1.6" fill="#BEBEBE"/>
<circle cx="276.66" cy="334.61" r="1.6" fill="#BEBEBE"/>
<circle cx="282.9" cy="341.25" r="1.6" fill="#BEBEBE"/>
<circle cx="285.23" cy="324.16" r="1.6" fill="#BEBEBE"/>
<circle cx="282.16" cy="342.82" r="1.6" fill="#BEBEBE"/>
<circle cx="283.75" cy="325.64" r="1.6" fill="#BEBEBE"/>
<circle cx="282.45" cy="352.15" r="1.6" fill="#BEBEBE"/>
<circle cx="275.81" cy="328.51" r="1.6" fill="#BEBEBE"/>
<circle cx="282.49" cy="320.99" r="1.6" fill="#BEBEBE"/>
<circle cx="287.83" cy="352.53" r="1.6" fill="#BEBEBE"/>
<circle cx="275.22" cy="338.89" r="1.6" fill="#BEBEBE"/>
<circle cx="284.71" cy="345.71" r="1.6" fill="#BEBEBE"/>
<circle cx="282.49" cy="321.11" r="1.6" fill="#BEBEBE"/>
<circle cx="270.93" cy="338.05" r="1.6" fill="#BEBEBE"/>
<circle cx="276.16" cy="344.47" r="1.6" fill="#BEBEBE"/>
<circle cx="281.83" cy="353.12" r="1.6" fill="#BEBEBE"/>
<circle cx="285" cy="350.99" r="1.6" fill="#BEBEBE"/>
<circle cx="285.74" cy="337.13" r="1.6" fill="#BEBEBE"/>
<circle cx="279.95" cy="352.24" r="1.6" fill="#BEBEBE"/>
<circle cx="282.88" cy="355.91" r="1.6" fill="#BEBEBE"/>
<circle cx="287.54" cy="347.44" r="1.6" fill="#BEBEBE"/>
<circle cx="273.25" cy="354.11" r="1.6" fill="#BEBEBE"/>
<circle cx="286.32" cy="336.19" r="1.6" fill="#BEBEBE"/>
<circle cx="272.51" cy="318.6" r="1.6" fill="#BEBEBE"/>
<circle cx="287.91" cy="330.39" r="1.6" fill="#BEBEBE"/>
<circle cx="274.27" cy="350.02" r="1.6" fill="#BEBEBE"/>
<circle cx="285.23" cy="328.44" r="1.6" fill="#BEBEBE"/>
<circle cx="283.44" cy="354.83" r="1.6" fill="#BEBEBE"/>
<circle cx="272.08" cy="355.93" r="1.6" fill="#BEBEBE"/>
<circle cx="284.65" cy="348.87" r="1.6" fill="#BEBEBE"/>
<circle cx="282.97" cy="343.82" r="1.6" fill="#BEBEBE"/>
<circle cx="287" cy="330" r="1.6" fill="#BEBEBE"/>
<circle cx="287.16" cy="341.65" r="1.6" fill="#BEBEBE"/>
<circle cx="275.6" cy="337.27" r="1.6" fill="#BEBEBE"/>
<circle cx="275.34" cy="353.7" r="1.6" fill="#BEBEBE"/>
<circle cx="275.82" cy="346.06" r="1.6" fill="#BEBEBE"/>
<circle cx="272.11" cy="340.22" r="1.6" fill="#BEBEBE"/>
<circle cx="274.64" cy="349.82" r="1.6" fill="#BEBEBE"/>
<circle cx="275.56" cy="352.91" r="1.6" fill="#BEBEBE"/>
<circle cx="287.47" cy="341.16" r="1.6" fill="#BEBEBE"/>
<circle cx="278.27" cy="336.16" r="1.6" fill="#BEBEBE"/>
<circle cx="272.95" cy="350.98" r="1.6" fill="#BEBEBE"/>
<circle cx="273.6" cy="341.07" r="1.6" fill="#BEBEBE"/>
<circle cx="281.83" cy="321.86" r="1.6" fill="#BEBEBE"/>
<circle cx="282.15" cy="345.24" r="1.6" fill="#BEBEBE"/>
<circle cx="285.38" cy="318.56" r="1.6" fill="#BEBEBE"/>
<circle cx="284.33" cy="343.61" r="1.6" fill="#BEBEBE"/>
<circle cx="284.02" cy="341.1" r="1.6" fill="#BEBEBE"/>
<circle cx="273.89" cy="345.46" r="1.6" fill="#BEBEBE"/>
<circle cx="270.82" cy="352.71" r="1.6" fill="#BEBEBE"/>
<circle cx="285.51" cy="332.69" r="1.6" fill="#BEBEBE"/>
<circle cx="284.11" cy="343.85" r="1.6" fill="#BEBEBE"/>
<circle cx="286.44" cy="352.16" r="1.6" fill="#BEBEBE"/>
<circle cx="272.16" cy="354.43" r="1.6" fill="#BEBEBE"/>
<circle cx="271.31" cy="330.29" r="1.6" fill="#BEBEBE"/>
<circle cx="285.82" cy="346.94" r="1.6" fill="#BEBEBE"/>
<circle cx="276.39" cy="350.55" r="1.6" fill="#BEBEBE"/>
<circle cx="273.2" cy="332.28" r="1.6" fill="#BEBEBE"/>
<circle cx="277.88" cy="354.45" r="1.6" fill="#BEBEBE"/>
<circle cx="271.31" cy="322.68" r="1.6" fill="#BEBEBE"/>
<circle cx="272.1" cy="349.85" r="1.6" fill="#BEBEBE"/>
<circle cx="270.55" cy="348.22" r="1.6" fill="#BEBEBE"/>
<circle cx="283.23" cy="338.78" r="1.6" fill="#BEBEBE"/>
<circle cx="271.02" cy="354.74" r="1.6" fill="#BEBEBE"/>
<circle cx="287.81" cy="343.61" r="1.6" fill="#BEBEBE"/>
<circle cx="271.53" cy="328.87" r="1.6" fill="#BEBEBE"/>
<circle cx="269.99" cy="353.62" r="1.6" fill="#BEBEBE"/>
<circle cx="281.68" cy="342.59" r="1.6" fill="#BEBEBE"/>
<circle cx="272.16" cy="355.93" r="1.6" fill="#BEBEBE"/>
<circle cx="272.75" cy="326.64" r="1.6" fill="#BEBEBE"/>
<circle cx="282.95" cy="325.8" r="1.6" fill="#BEBEBE"/>
<circle cx="282.6" cy="343.58" r="1.6" fill="#BEBEBE"/>
<circle cx="284.15" cy="326.46" r="1.6" fill="#BEBEBE"/>
<circle cx="275.85" cy="350.09" r="1.6" fill="#BEBEBE"/>
<circle cx="286.27" cy="353.71" r="1.6" fill="#BEBEBE"/>
<circle cx="283.56" cy="339.9" r="1.6" fill="#BEBEBE"/>
<circle cx="274.55" cy="336.9" r="1.6" fill="#BEBEBE"/>
<circle cx="275.39" cy="368.1" r="1.6" fill="#BEBEBE"/>
<circle cx="279.85" cy="366.98" r="1.6" fill="#BEBEBE"/>
<circle cx="279.69" cy="356.36" r="1.6" fill="#BEBEBE"/>
<circle cx="280.63" cy="367.19" r="1.6" fill="#BEBEBE"/>
<circle cx="279.59" cy="369.19" r="1.6" fill="#BEBEBE"/>
<circle cx="287.2" cy="359.61" r="1.6" fill="#BEBEBE"/>
<circle cx="280.47" cy="363.29" r="1.6" fill="#BEBEBE"/>
<circle cx="277.65" cy="369.59" r="1.6" fill="#BEBEBE"/>
<circle cx="276.95" cy="356.95" r="1.6" fill="#BEBEBE"/>
<circle cx="283.67" cy="366.67" r="1.6" fill="#BEBEBE"/>
<circle cx="274.23" cy="358.36" r="1.6" fill="#BEBEBE"/>
<circle cx="279.33" cy="356.65" r="1.6" fill="#BEBEBE"/>
<circle cx="283.21" cy="370.65" r="1.6" fill="#BEBEBE"/>
<circle cx="279.88" cy="367.25" r="1.6" fill="#BEBEBE"/>
<circle cx="277.7" cy="366.69" r="1.6" fill="#BEBEBE"/>
<circle cx="280.6" cy="364.26" r="1.6" fill="#BEBEBE"/>
<circle cx="280.7" cy="370.93" r="1.6" fill="#BEBEBE"/>
<circle cx="280.71" cy="365.93" r="1.6" fill="#BEBEBE"/>
<circle cx="277.79" cy="371.2" r="1.6" fill="#BEBEBE"/>
<circle cx="273.36" cy="367.32" r="1.6" fill="#BEBEBE"/>
<circle cx="279.81" cy="363.38" r="1.6" fill="#BEBEBE"/>
<circle cx="278.74" cy="368.01" r="1.6" fill="#BEBEBE"/>
<circle cx="280.16" cy="356.34" r="1.6" fill="#BEBEBE"/>
<circle cx="279.52" cy="363.6" r="1.6" fill="#BEBEBE"/>
<circle cx="279.86" cy="368.71" r="1.6" fill="#BEBEBE"/>
<circle cx="274.67" cy="362.36" r="1.6" fill="#BEBEBE"/>
<circle cx="276.05" cy="361.16" r="1.6" fill="#BEBEBE"/>
<circle cx="279.73" cy="364.57" r="1.6" fill="#BEBEBE"/>
<circle cx="283.9" cy="366.53" r="1.6" fill="#BEBEBE"/>
<circle cx="283.89" cy="358.49" r="1.6" fill="#BEBEBE"/>
<circle cx="279.17" cy="369.81" r="1.6" fill="#BEBEBE"/>
<circle cx="279.02" cy="371.05" r="1.6" fill="#BEBEBE"/>
<circle cx="274.55" cy="361.73" r="1.6" fill="#BEBEBE"/>
<circle cx="283.37" cy="357.63" r="1.6" fill="#BEBEBE"/>
<circle cx="281.04" cy="365.96" r="1.6" fill="#BEBEBE"/>
<circle cx="275.42" cy="356.54" r="1.6" fill="#BEBEBE"/>
<circle cx="280.81" cy="358.86" r="1.6" fill="#BEBEBE"/>
<circle cx="277.89" cy="367.4" r="1.6" fill="#BEBEBE"/>
<circle cx="279.56" cy="366.44" r="1.6" fill="#BEBEBE"/>
<circle cx="275" cy="364.92" r="1.6" fill="#BEBEBE"/>
<circle cx="278.72" cy="368.79" r="1.6" fill="#BEBEBE"/>
<circle cx="276.13" cy="357.48" r="1.6" fill="#BEBEBE"/>
<circle cx="275.45" cy="365.67" r="1.6" fill="#BEBEBE"/>
<circle cx="276.7" cy="361.15" r="1.6" fill="#BEBEBE"/>
<circle cx="277.52" cy="371.4" r="1.6" fill="#BEBEBE"/>
<circle cx="276.75" cy="359.16" r="1.6" fill="#BEBEBE"/>
<circle cx="278.19" cy="359.4" r="1.6" fill="#BEBEBE"/>
<circle cx="283.7" cy="363.03" r="1.6" fill="#BEBEBE"/>
<circle cx="277.28" cy="368.94" r="1.6" fill="#BEBEBE"/>
<circle cx="282.08" cy="371.19" r="1.6" fill="#BEBEBE"/>
<circle cx="279.58" cy="366.87" r="1.6" fill="#BEBEBE"/>
<circle cx="276.61" cy="363.75" r="1.6" fill="#BEBEBE"/>
<circle cx="272.02" cy="362.59" r="1.6" fill="#BEBEBE"/>
<circle cx="284.2" cy="361.8" r="1.6" fill="#BEBEBE"/>
<circle cx="278.84" cy="371.11" r="1.6" fill="#BEBEBE"/>
<circle cx="276.58" cy="363.35" r="1.6" fill="#BEBEBE"/>
<circle cx="271.77" cy="363.29" r="1.6" fill="#BEBEBE"/>
<circle cx="280.58" cy="366.38" r="1.6" fill="#BEBEBE"/>
<circle cx="276.69" cy="364.31" r="1.6" fill="#BEBEBE"/>
<circle cx="277.22" cy="358.49" r="1.6" fill="#BEBEBE"/>
<circle cx="281.01" cy="362.67" r="1.6" fill="#BEBEBE"/>
<circle cx="272.05" cy="356.73" r="1.6" fill="#BEBEBE"/>
<circle cx="279.38" cy="366.4" r="1.6" fill="#BEBEBE"/>
<circle cx="276.47" cy="370.97" r="1.6" fill="#BEBEBE"/>
<circle cx="280.73" cy="361.39" r="1.6" fill="#BEBEBE"/>
<circle cx="282.69" cy="356.55" r="1.6" fill="#BEBEBE"/>
<circle cx="276.18" cy="369.57" r="1.6" fill="#BEBEBE"/>
<circle cx="280.46" cy="364.4" r="1.6" fill="#BEBEBE"/>
<circle cx="275.44" cy="364.76" r="1.6" fill="#BEBEBE"/>
<circle cx="281.45" cy="369.78" r="1.6" fill="#BEBEBE"/>
<circle cx="277.24" cy="371.49" r="1.6" fill="#BEBEBE"/>
<circle cx="277.76" cy="365.38" r="1.6" fill="#BEBEBE"/>
<circle cx="278.85" cy="371.02" r="1.6" fill="#BEBEBE"/>
<circle cx="279.44" cy="364.42" r="1.6" fill="#BEBEBE"/>
<circle cx="280.15" cy="369.61" r="1.6" fill="#BEBEBE"/>
<circle cx="280.88" cy="366.25" r="1.6" fill="#BEBEBE"/>
<circle cx="276.87" cy="366.3" r="1.6" fill="#BEBEBE"/>
<circle cx="282.1" cy="369.12" r="1.6" fill="#BEBEBE"/>
<circle cx="279.9" cy="367.37" r="1.6" fill="#BEBEBE"/>
<circle cx="277.79" cy="363.04" r="1.6" fill="#BEBEBE"/>
<circle cx="278.19" cy="363.01" r="1.6" fill="#BEBEBE"/>
<circle cx="280.9" cy="370.63" r="1.6" fill="#BEBEBE"/>
<circle cx="280.32" cy="367.95" r="1.6" fill="#BEBEBE"/>
<circle cx="282.62" cy="366.6" r="1.6" fill="#BEBEBE"/>
<circle cx="277.95" cy="360.49" r="1.6" fill="#BEBEBE"/>
<circle cx="280.33" cy="363.63" r="1.6" fill="#BEBEBE"/>
<circle cx="277.82" cy="367.87" r="1.6" fill="#BEBEBE"/>
<circle cx="281.49" cy="360.39" r="1.6" fill="#BEBEBE"/>
<circle cx="279" cy="371.24" r="1.6" fill="#BEBEBE"/>
<circle cx="282.89" cy="360.17" r="1.6" fill="#BEBEBE"/>
<circle cx="280.14" cy="364.22" r="1.6" fill="#BEBEBE"/>
<circle cx="273.64" cy="365.56" r="1.6" fill="#BEBEBE"/>
<circle cx="278.31" cy="370.61" r="1.6" fill="#BEBEBE"/>
<circle cx="283.81" cy="362.35" r="1.6" fill="#BEBEBE"/>
<circle cx="277.09" cy="360.65" r="1.6" fill="#BEBEBE"/>
<circle cx="280.07" cy="366.24" r="1.6" fill="#BEBEBE"/>
<circle cx="277.45" cy="359.04" r="1.6" fill="#BEBEBE"/>
<circle cx="272.35" cy="356.49" r="1.6" fill="#BEBEBE"/>
<circle cx="276.32" cy="362.51" r="1.6" fill="#BEBEBE"/>
<circle cx="275.93" cy="366.14" r="1.6" fill="#BEBEBE"/>
<circle cx="278.94" cy="356.35" r="1.6" fill="#BEBEBE"/>
<circle cx="276.7" cy="356.42" r="1.6" fill="#BEBEBE"/>
<circle cx="277.62" cy="368.06" r="1.6" fill="#BEBEBE"/>
<circle cx="280.03" cy="358.68" r="1.6" fill="#BEBEBE"/>
<circle cx="278.55" cy="362.53" r="1.6" fill="#BEBEBE"/>
<circle cx="278.37" cy="364.63" r="1.6" fill="#BEBEBE"/>
<circle cx="281.21" cy="363.65" r="1.6" fill="#BEBEBE"/>
<circle cx="276.13" cy="359.07" r="1.6" fill="#BEBEBE"/>
<circle cx="280.01" cy="365.73" r="1.6" fill="#BEBEBE"/>
<circle cx="279.47" cy="370.15" r="1.6" fill="#BEBEBE"/>
<circle cx="277.86" cy="365.3" r="1.6" fill="#BEBEBE"/>
<circle cx="281.13" cy="358.72" r="1.6" fill="#BEBEBE"/>
<circle cx="272.42" cy="363.06" r="1.6" fill="#BEBEBE"/>
<circle cx="282.43" cy="363.92" r="1.6" fill="#BEBEBE"/>
<circle cx="276.31" cy="362.66" r="1.6" fill="#BEBEBE"/>
<circle cx="279.03" cy="364.39" r="1.6" fill="#BEBEBE"/>
<circle cx="279.9" cy="362.7" r="1.6" fill="#BEBEBE"/>
<circle cx="281.06" cy="368.41" r="1.6" fill="#BEBEBE"/>
<circle cx="271.78" cy="357.72" r="1.6" fill="#BEBEBE"/>
<circle cx="275.19" cy="365.67" r="1.6" fill="#BEBEBE"/>
<circle cx="282.28" cy="363.7" r="1.6" fill="#BEBEBE"/>
<circle cx="275.06" cy="361.86" r="1.6" fill="#BEBEBE"/>
<circle cx="283.03" cy="356.03" r="1.6" fill="#BEBEBE"/>
<circle cx="277.12" cy="361.59" r="1.6" fill="#BEBEBE"/>
<circle cx="280.36" cy="356.15" r="1.6" fill="#BEBEBE"/>
<circle cx="283.23" cy="365.9" r="1.6" fill="#BEBEBE"/>
<circle cx="279.34" cy="358.93" r="1.6" fill="#BEBEBE"/>
<circle cx="272" cy="357.82" r="1.6" fill="#BEBEBE"/>
<circle cx="277.71" cy="366.1" r="1.6" fill="#BEBEBE"/>
<circle cx="281.91" cy="361.09" r="1.6" fill="#BEBEBE"/>
<circle cx="285.05" cy="364.89" r="1.6" fill="#BEBEBE"/>
<circle cx="284.18" cy="358.79" r="1.6" fill="#BEBEBE"/>
<circle cx="280.75" cy="371.42" r="1.6" fill="#BEBEBE"/>
<circle cx="279.59" cy="360.85" r="1.6" fill="#BEBEBE"/>
<circle cx="275.13" cy="371.47" r="1.6" fill="#BEBEBE"/>
<circle cx="287.2" cy="362.43" r="1.6" fill="#BEBEBE"/>
<circle cx="277.96" cy="358.22" r="1.6" fill="#BEBEBE"/>
<circle cx="279.74" cy="364.17" r="1.6" fill="#BEBEBE"/>
<circle cx="279.39" cy="359.05" r="1.6" fill="#BEBEBE"/>
<circle cx="280.84" cy="361.65" r="1.6" fill="#BEBEBE"/>
<circle cx="276.63" cy="371.49" r="1.6" fill="#BEBEBE"/>
<circle cx="278.33" cy="369.18" r="1.6" fill="#BEBEBE"/>
<circle cx="278.72" cy="363.29" r="1.6" fill="#BEBEBE"/>
<circle cx="278.59" cy="364.75" r="1.6" fill="#BEBEBE"/>
<circle cx="278.34" cy="369.26" r="1.6" fill="#BEBEBE"/>
<circle cx="279.74" cy="370.44" r="1.6" fill="#BEBEBE"/>
<circle cx="278.55" cy="368.55" r="1.6" fill="#BEBEBE"/>
<circle cx="280.45" cy="362.56" r="1.6" fill="#BEBEBE"/>
<circle cx="278.56" cy="364.07" r="1.6" fill="#BEBEBE"/>
<circle cx="284.38" cy="365.29" r="1.6" fill="#BEBEBE"/>
<circle cx="273.99" cy="368.9" r="1.6" fill="#BEBEBE"/>
<circle cx="278.05" cy="366.38" r="1.6" fill="#BEBEBE"/>
<circle cx="273.3" cy="364.37" r="1.6" fill="#BEBEBE"/>
<circle cx="279.42" cy="366.18" r="1.6" fill="#BEBEBE"/>
<circle cx="281.86" cy="365.18" r="1.6" fill="#BEBEBE"/>
<circle cx="283.44" cy="366.91" r="1.6" fill="#BEBEBE"/>
<circle cx="278.02" cy="371.39" r="1.6" fill="#BEBEBE"/>
<circle cx="280.53" cy="357.12" r="1.6" fill="#BEBEBE"/>
<circle cx="276.48" cy="361.79" r="1.6" fill="#BEBEBE"/>
<circle cx="279" cy="367.67" r="1.6" fill="#BEBEBE"/>
<circle cx="280.86" cy="359.5" r="1.6" fill="#BEBEBE"/>
<circle cx="277.94" cy="359.37" r="1.6" fill="#BEBEBE"/>
<circle cx="280.94" cy="358.3" r="1.6" fill="#BEBEBE"/>
<circle cx="274.12" cy="367.18" r="1.6" fill="#BEBEBE"/>
<circle cx="281.89" cy="360.33" r="1.6" fill="#BEBEBE"/>
<circle cx="274.33" cy="360.53" r="1.6" fill="#BEBEBE"/>
<circle cx="279.12" cy="370.21" r="1.6" fill="#BEBEBE"/>
<circle cx="276.77" cy="364.88" r="1.6" fill="#BEBEBE"/>
<circle cx="280.35" cy="356.22" r="1.6" fill="#BEBEBE"/>
<circle cx="279.55" cy="369.01" r="1.6" fill="#BEBEBE"/>
<circle cx="273.58" cy="363.63" r="1.6" fill="#BEBEBE"/>
<circle cx="274.41" cy="361.07" r="1.6" fill="#BEBEBE"/>
<circle cx="278.22" cy="358.65" r="1.6" fill="#BEBEBE"/>
<circle cx="286.84" cy="361.64" r="1.6" fill="#BEBEBE"/>
<circle cx="282.68" cy="356.93" r="1.6" fill="#BEBEBE"/>
<circle cx="279.81" cy="370.02" r="1.6" fill="#BEBEBE"/>
<circle cx="279.58" cy="360.08" r="1.6" fill="#BEBEBE"/>
<circle cx="277.36" cy="371.28" r="1.6" fill="#BEBEBE"/>
<circle cx="279.18" cy="365.95" r="1.6" fill="#BEBEBE"/>
<circle cx="281.51" cy="364.84" r="1.6" fill="#BEBEBE"/>
<circle cx="271.47" cy="362.86" r="1.6" fill="#BEBEBE"/>
<circle cx="282.1" cy="356.81" r="1.6" fill="#BEBEBE"/>
<circle cx="278.8" cy="362.2" r="1.6" fill="#BEBEBE"/>
<circle cx="274.71" cy="369.83" r="1.6" fill="#BEBEBE"/>
<circle cx="274.7" cy="362.53" r="1.6" fill="#BEBEBE"/>
<circle cx="283.41" cy="365.48" r="1.6" fill="#BEBEBE"/>
<circle cx="281.24" cy="370.99" r="1.6" fill="#BEBEBE"/>
<circle cx="281.8" cy="367.73" r="1.6" fill="#BEBEBE"/>
<circle cx="279" cy="371.52" r="1.6" fill="#BEBEBE"/>
<circle cx="281.78" cy="369.49" r="1.6" fill="#BEBEBE"/>
<circle cx="282.26" cy="363.68" r="1.6" fill="#BEBEBE"/>
<circle cx="283.04" cy="359.09" r="1.6" fill="#BEBEBE"/>
<circle cx="283.24" cy="359.09" r="1.6" fill="#BEBEBE"/>
<circle cx="278.92" cy="371.05" r="1.6" fill="#BEBEBE"/>
<circle cx="279.81" cy="370.79" r="1.6" fill="#BEBEBE"/>
<circle cx="280.31" cy="368.22" r="1.6" fill="#BEBEBE"/>
<circle cx="280.33" cy="359.26" r="1.6" fill="#BEBEBE"/>
<circle cx="279.53" cy="369.78" r="1.6" fill="#BEBEBE"/>
<circle cx="280.32" cy="370.11" r="1.6" fill="#BEBEBE"/>
<circle cx="276.43" cy="360.28" r="1.6" fill="#BEBEBE"/>
<circle cx="280.9" cy="364.85" r="1.6" fill="#BEBEBE"/>
<circle cx="279.26" cy="370.38" r="1.6" fill="#BEBEBE"/>
<circle cx="278.14" cy="371.46" r="1.6" fill="#BEBEBE"/>
<circle cx="280.34" cy="366.03" r="1.6" fill="#BEBEBE"/>
<circle cx="276.84" cy="370.29" r="1.6" fill="#BEBEBE"/>
<circle cx="277.74" cy="366.81" r="1.6" fill="#BEBEBE"/>
<circle cx="278.41" cy="367.54" r="1.6" fill="#BEBEBE"/>
<circle cx="281.56" cy="364" r="1.6" fill="#BEBEBE"/>
<circle cx="280.95" cy="363.89" r="1.6" fill="#BEBEBE"/>
<circle cx="278.83" cy="356.52" r="1.6" fill="#BEBEBE"/>
<circle cx="302.68" cy="361.75" r="1.6" fill="#BEBEBE"/>
<circle cx="275.15" cy="357.89" r="1.6" fill="#BEBEBE"/>
<circle cx="285.54" cy="365.98" r="1.6" fill="#BEBEBE"/>
<circle cx="274.69" cy="358.81" r="1.6" fill="#BEBEBE"/>
<circle cx="266.33" cy="358.38" r="1.6" fill="#BEBEBE"/>
<circle cx="280.28" cy="358.5" r="1.6" fill="#BEBEBE"/>
<circle cx="273.3" cy="361.23" r="1.6" fill="#BEBEBE"/>
<circle cx="278" cy="362.69" r="1.6" fill="#BEBEBE"/>
<circle cx="272.68" cy="357.67" r="1.6" fill="#BEBEBE"/>
<circle cx="280.64" cy="357.86" r="1.6" fill="#BEBEBE"/>
<circle cx="283.35" cy="361.94" r="1.6" fill="#BEBEBE"/>
<circle cx="267.62" cy="357.76" r="1.6" fill="#BEBEBE"/>
<circle cx="287.66" cy="358.21" r="1.6" fill="#BEBEBE"/>
<circle cx="269.5" cy="359.13" r="1.6" fill="#BEBEBE"/>
<circle cx="287.08" cy="360.17" r="1.6" fill="#BEBEBE"/>
<circle cx="289.39" cy="356.57" r="1.6" fill="#BEBEBE"/>
<circle cx="282.04" cy="363.94" r="1.6" fill="#BEBEBE"/>
<circle cx="287.81" cy="365.67" r="1.6" fill="#BEBEBE"/>
<circle cx="271.31" cy="357.07" r="1.6" fill="#BEBEBE"/>
<circle cx="290.75" cy="362.5" r="1.6" fill="#BEBEBE"/>
<circle cx="283.4" cy="364.38" r="1.6" fill="#BEBEBE"/>
<circle cx="268.88" cy="363.89" r="1.6" fill="#BEBEBE"/>
<circle cx="283.39" cy="358.77" r="1.6" fill="#BEBEBE"/>
<circle cx="260.65" cy="356.64" r="1.6" fill="#BEBEBE"/>
<circle cx="275.98" cy="363.81" r="1.6" fill="#BEBEBE"/>
<circle cx="283.03" cy="357.87" r="1.6" fill="#BEBEBE"/>
<circle cx="286.54" cy="359.04" r="1.6" fill="#BEBEBE"/>
<circle cx="260.64" cy="362.49" r="1.6" fill="#BEBEBE"/>
<circle cx="277.95" cy="359.87" r="1.6" fill="#BEBEBE"/>
<circle cx="285.78" cy="357.21" r="1.6" fill="#BEBEBE"/>
<circle cx="268.17" cy="360.85" r="1.6" fill="#BEBEBE"/>
<circle cx="264.38" cy="363.68" r="1.6" fill="#BEBEBE"/>
<circle cx="264.08" cy="364.86" r="1.6" fill="#BEBEBE"/>
<circle cx="271.92" cy="362.42" r="1.6" fill="#BEBEBE"/>
<circle cx="279.67" cy="362.7" r="1.6" fill="#BEBEBE"/>
<circle cx="274.52" cy="356.83" r="1.6" fill="#BEBEBE"/>
<circle cx="270.21" cy="358.55" r="1.6" fill="#BEBEBE"/>
<circle cx="285.34" cy="357.16" r="1.6" fill="#BEBEBE"/>
<circle cx="272.57" cy="362.75" r="1.6" fill="#BEBEBE"/>
<circle cx="272.41" cy="364.98" r="1.6" fill="#BEBEBE"/>
<circle cx="274.8" cy="299.36" r="1.6" fill="#BEBEBE"/>
<circle cx="287.67" cy="297.06" r="1.6" fill="#BEBEBE"/>
<circle cx="273.59" cy="291.56" r="1.6" fill="#BEBEBE"/>
<circle cx="276.7" cy="306.48" r="1.6" fill="#BEBEBE"/>
<circle cx="276.58" cy="305.77" r="1.6" fill="#BEBEBE"/>
<circle cx="281.59" cy="305.56" r="1.6" fill="#BEBEBE"/>
<circle cx="287.93" cy="310.93" r="1.6" fill="#BEBEBE"/>
<circle cx="271.35" cy="315.52" r="1.6" fill="#BEBEBE"/>
<circle cx="282.88" cy="311.53" r="1.6" fill="#BEBEBE"/>
<circle cx="285.44" cy="313.8" r="1.6" fill="#BEBEBE"/>
<circle cx="274.29" cy="301.25" r="1.6" fill="#BEBEBE"/>
<circle cx="281.82" cy="304.57" r="1.6" fill="#BEBEBE"/>
<circle cx="283.81" cy="302.18" r="1.6" fill="#BEBEBE"/>
<circle cx="282.56" cy="300.42" r="1.6" fill="#BEBEBE"/>
<circle cx="275.7" cy="289" r="1.6" fill="#BEBEBE"/>
<circle cx="272.7" cy="302.7" r="1.6" fill="#BEBEBE"/>
<circle cx="258.3" cy="361.2" r="1.6" fill="#BEBEBE"/>
<circle cx="268" cy="366" r="1.6" fill="#BEBEBE"/>
<circle cx="301.2" cy="365.1" r="1.6" fill="#BEBEBE"/>
<circle cx="252.77" cy="353.59" r="1.6" fill="#0000CC"/>
<circle cx="267.93" cy="344.32" r="1.6" fill="#0000CC"/>
<circle cx="270.23" cy="327.83" r="1.6" fill="#0000CC"/>
<circle cx="269" cy="342.78" r="1.6" fill="#0000CC"/>
<circle cx="259.93" cy="349.17" r="1.6" fill="#0000CC"/>
<circle cx="257.04" cy="346.81" r="1.6" fill="#0000CC"/>
<circle cx="250.27" cy="340.71" r="1.6" fill="#0000CC"/>
<circle cx="267.89" cy="325.77" r="1.6" fill="#0000CC"/>
<circle cx="250.87" cy="349.13" r="1.6" fill="#0000CC"/>
<circle cx="257.45" cy="353.79" r="1.6" fill="#0000CC"/>
<circle cx="252.42" cy="334.3" r="1.6" fill="#0000CC"/>
<circle cx="268.63" cy="335.15" r="1.6" fill="#0000CC"/>
<circle cx="248.84" cy="351.56" r="1.6" fill="#0000CC"/>
<circle cx="270.98" cy="320.26" r="1.6" fill="#0000CC"/>
<circle cx="262.91" cy="352.3" r="1.6" fill="#0000CC"/>
<circle cx="250.14" cy="349.69" r="1.6" fill="#0000CC"/>
<circle cx="270.41" cy="327.31" r="1.6" fill="#0000CC"/>
<circle cx="253.54" cy="335.64" r="1.6" fill="#0000CC"/>
<circle cx="265.95" cy="354.1" r="1.6" fill="#0000CC"/>
<circle cx="270.91" cy="337.27" r="1.6" fill="#0000CC"/>
<circle cx="250.02" cy="344.88" r="1.6" fill="#0000CC"/>
<circle cx="249.82" cy="329.66" r="1.6" fill="#0000CC"/>
<circle cx="259.88" cy="354.75" r="1.6" fill="#0000CC"/>
<circle cx="269.53" cy="335.27" r="1.6" fill="#0000CC"/>
<circle cx="246.3" cy="325.7" r="1.6" fill="#0000CC"/>
<circle cx="253.54" cy="346.59" r="1.6" fill="#0000CC"/>
<circle cx="267.25" cy="355.14" r="1.6" fill="#0000CC"/>
<circle cx="253.32" cy="324.69" r="1.6" fill="#0000CC"/>
<circle cx="246.35" cy="351.34" r="1.6" fill="#0000CC"/>
<circle cx="262.07" cy="321.04" r="1.6" fill="#0000CC"/>
<circle cx="253.21" cy="340.76" r="1.6" fill="#0000CC"/>
<circle cx="254.47" cy="322.83" r="1.6" fill="#0000CC"/>
<circle cx="262.06" cy="348.69" r="1.6" fill="#0000CC"/>
<circle cx="254.96" cy="326.15" r="1.6" fill="#0000CC"/>
<circle cx="265.71" cy="336.13" r="1.6" fill="#0000CC"/>
<circle cx="262.59" cy="355.13" r="1.6" fill="#0000CC"/>
<circle cx="248.3" cy="320.06" r="1.6" fill="#0000CC"/>
<circle cx="258.25" cy="324.88" r="1.6" fill="#0000CC"/>
<circle cx="250.61" cy="338.74" r="1.6" fill="#0000CC"/>
<circle cx="249.51" cy="352.27" r="1.6" fill="#0000CC"/>
<circle cx="248.27" cy="325.99" r="1.6" fill="#0000CC"/>
<circle cx="270.47" cy="347.44" r="1.6" fill="#0000CC"/>
<circle cx="262.43" cy="347.6" r="1.6" fill="#0000CC"/>
<circle cx="263.02" cy="334.73" r="1.6" fill="#0000CC"/>
<circle cx="254.78" cy="333.08" r="1.6" fill="#0000CC"/>
<circle cx="261.62" cy="334.12" r="1.6" fill="#0000CC"/>
<circle cx="256.58" cy="322.52" r="1.6" fill="#0000CC"/>
<circle cx="262.51" cy="340.6" r="1.6" fill="#0000CC"/>
<circle cx="256.28" cy="352.02" r="1.6" fill="#0000CC"/>
<circle cx="264.75" cy="354.13" r="1.6" fill="#0000CC"/>
<circle cx="255.74" cy="333.62" r="1.6" fill="#0000CC"/>
<circle cx="259.85" cy="332.86" r="1.6" fill="#0000CC"/>
<circle cx="257.24" cy="320.88" r="1.6" fill="#0000CC"/>
<circle cx="249.51" cy="332.76" r="1.6" fill="#0000CC"/>
<circle cx="270.95" cy="323.06" r="1.6" fill="#0000CC"/>
<circle cx="265.5" cy="329.34" r="1.6" fill="#0000CC"/>
<circle cx="251.49" cy="333.36" r="1.6" fill="#0000CC"/>
<circle cx="248.87" cy="329.87" r="1.6" fill="#0000CC"/>
<circle cx="265.37" cy="353.77" r="1.6" fill="#0000CC"/>
<circle cx="250.8" cy="353.24" r="1.6" fill="#0000CC"/>
<circle cx="253.6" cy="273" r="1.6" fill="#0000CC"/>
<circle cx="217.7" cy="315" r="1.6" fill="#0000CC"/>
<circle cx="215" cy="323" r="1.6" fill="#0000CC"/>
<circle cx="210.9" cy="331.8" r="1.6" fill="#0000CC"/>
<circle cx="212" cy="332.2" r="1.6" fill="#0000CC"/>
<circle cx="226" cy="325" r="1.6" fill="#0000CC"/>
<circle cx="228.6" cy="327.7" r="1.6" fill="#0000CC"/>
<circle cx="238.2" cy="322.3" r="1.6" fill="#0000CC"/>
<circle cx="240.4" cy="325" r="1.6" fill="#0000CC"/>
<circle cx="239" cy="323.6" r="1.6" fill="#0000CC"/>
<circle cx="243.6" cy="340" r="1.6" fill="#0000CC"/>
<circle cx="236.8" cy="338.6" r="1.6" fill="#0000CC"/>
<circle cx="234" cy="342.7" r="1.6" fill="#0000CC"/>
<circle cx="231.4" cy="345.4" r="1.6" fill="#0000CC"/>
<circle cx="240.4" cy="352.3" r="1.6" fill="#0000CC"/>
<circle cx="260" cy="353.6" r="1.6" fill="#0000CC"/>
<circle cx="268.2" cy="309.5" r="1.6" fill="#0000CC"/>
<circle cx="266.8" cy="312.2" r="1.6" fill="#0000CC"/>
<circle cx="262.2" cy="321.3" r="1.6" fill="#0000CC"/>
<circle cx="248.6" cy="335.4" r="1.6" fill="#0000CC"/>
<circle cx="250" cy="325.9" r="1.6" fill="#0000CC"/>
<circle cx="243.1" cy="339.7" r="1.6" fill="#0000CC"/>
<circle cx="237.5" cy="338.6" r="1.6" fill="#0000CC"/>
<circle cx="245" cy="330" r="1.6" fill="#0000CC"/>
<circle cx="300.38" cy="329.07" r="1.6" fill="#EE0000"/>
<circle cx="305.9" cy="342.89" r="1.6" fill="#EE0000"/>
<circle cx="302.2" cy="319.79" r="1.6" fill="#EE0000"/>
<circle cx="307.96" cy="346.78" r="1.6" fill="#EE0000"/>
<circle cx="302.2" cy="329.63" r="1.6" fill="#EE0000"/>
<circle cx="298.88" cy="317.17" r="1.6" fill="#EE0000"/>
<circle cx="299.43" cy="336.14" r="1.6" fill="#EE0000"/>
<circle cx="308.74" cy="328.95" r="1.6" fill="#EE0000"/>
<circle cx="294.35" cy="341.56" r="1.6" fill="#EE0000"/>
<circle cx="298.71" cy="353.19" r="1.6" fill="#EE0000"/>
<circle cx="301.21" cy="325.29" r="1.6" fill="#EE0000"/>
<circle cx="297.15" cy="321.35" r="1.6" fill="#EE0000"/>
<circle cx="308.39" cy="331.92" r="1.6" fill="#EE0000"/>
<circle cx="302.86" cy="349.95" r="1.6" fill="#EE0000"/>
<circle cx="288.85" cy="316.69" r="1.6" fill="#EE0000"/>
<circle cx="293.97" cy="345.61" r="1.6" fill="#EE0000"/>
<circle cx="307.69" cy="324.79" r="1.6" fill="#EE0000"/>
<circle cx="290.36" cy="341.06" r="1.6" fill="#EE0000"/>
<circle cx="293.04" cy="343.08" r="1.6" fill="#EE0000"/>
<circle cx="287.74" cy="333.09" r="1.6" fill="#EE0000"/>
<circle cx="294.42" cy="338.14" r="1.6" fill="#EE0000"/>
<circle cx="291.75" cy="350.29" r="1.6" fill="#EE0000"/>
<circle cx="288.34" cy="320.42" r="1.6" fill="#EE0000"/>
<circle cx="304.34" cy="331.77" r="1.6" fill="#EE0000"/>
<circle cx="290.37" cy="348.47" r="1.6" fill="#EE0000"/>
<circle cx="290.28" cy="341.27" r="1.6" fill="#EE0000"/>
<circle cx="288.89" cy="342.97" r="1.6" fill="#EE0000"/>
<circle cx="292.14" cy="346.5" r="1.6" fill="#EE0000"/>
<circle cx="302.24" cy="335.65" r="1.6" fill="#EE0000"/>
<circle cx="298.21" cy="339.58" r="1.6" fill="#EE0000"/>
<circle cx="299.67" cy="323.53" r="1.6" fill="#EE0000"/>
<circle cx="294.5" cy="352.26" r="1.6" fill="#EE0000"/>
<circle cx="298.38" cy="338.74" r="1.6" fill="#EE0000"/>
<circle cx="305.08" cy="350.25" r="1.6" fill="#EE0000"/>
<circle cx="307.15" cy="355.37" r="1.6" fill="#EE0000"/>
<circle cx="299.75" cy="336.2" r="1.6" fill="#EE0000"/>
<circle cx="294.66" cy="319.86" r="1.6" fill="#EE0000"/>
<circle cx="303.33" cy="347.82" r="1.6" fill="#EE0000"/>
<circle cx="298.69" cy="329.81" r="1.6" fill="#EE0000"/>
<circle cx="288.35" cy="351.39" r="1.6" fill="#EE0000"/>
<circle cx="301.08" cy="325.52" r="1.6" fill="#EE0000"/>
<circle cx="297.96" cy="337.05" r="1.6" fill="#EE0000"/>
<circle cx="298.96" cy="343.59" r="1.6" fill="#EE0000"/>
<circle cx="307.23" cy="317.32" r="1.6" fill="#EE0000"/>
<circle cx="298.39" cy="355.01" r="1.6" fill="#EE0000"/>
<circle cx="296.5" cy="322.89" r="1.6" fill="#EE0000"/>
<circle cx="294.88" cy="350.51" r="1.6" fill="#EE0000"/>
<circle cx="291.75" cy="326.17" r="1.6" fill="#EE0000"/>
<circle cx="301.53" cy="342.52" r="1.6" fill="#EE0000"/>
<circle cx="301.57" cy="324.4" r="1.6" fill="#EE0000"/>
<circle cx="309.24" cy="321.89" r="1.6" fill="#EE0000"/>
<circle cx="297.32" cy="322.66" r="1.6" fill="#EE0000"/>
<circle cx="308.33" cy="320.56" r="1.6" fill="#EE0000"/>
<circle cx="304.41" cy="330.76" r="1.6" fill="#EE0000"/>
<circle cx="299.06" cy="321.22" r="1.6" fill="#EE0000"/>
<circle cx="301.6" cy="325.82" r="1.6" fill="#EE0000"/>
<circle cx="292.71" cy="351.16" r="1.6" fill="#EE0000"/>
<circle cx="293.66" cy="330.88" r="1.6" fill="#EE0000"/>
<circle cx="300.44" cy="346.25" r="1.6" fill="#EE0000"/>
<circle cx="291.82" cy="317.72" r="1.6" fill="#EE0000"/>
<circle cx="289.2" cy="318.55" r="1.6" fill="#EE0000"/>
<circle cx="304.89" cy="331.25" r="1.6" fill="#EE0000"/>
<circle cx="309.9" cy="327.33" r="1.6" fill="#EE0000"/>
<circle cx="287.75" cy="318.11" r="1.6" fill="#EE0000"/>
<circle cx="296.86" cy="318.89" r="1.6" fill="#EE0000"/>
<circle cx="305.83" cy="348.97" r="1.6" fill="#EE0000"/>
<circle cx="288.49" cy="354.99" r="1.6" fill="#EE0000"/>
<circle cx="305.09" cy="323.3" r="1.6" fill="#EE0000"/>
<circle cx="292.71" cy="350.17" r="1.6" fill="#EE0000"/>
<circle cx="295.81" cy="323.02" r="1.6" fill="#EE0000"/>
<circle cx="304.19" cy="320.62" r="1.6" fill="#EE0000"/>
<circle cx="309.28" cy="324.62" r="1.6" fill="#EE0000"/>
<circle cx="306.32" cy="355.27" r="1.6" fill="#EE0000"/>
<circle cx="287.74" cy="320.79" r="1.6" fill="#EE0000"/>
<circle cx="301.46" cy="340.85" r="1.6" fill="#EE0000"/>
<circle cx="290.47" cy="340.62" r="1.6" fill="#EE0000"/>
<circle cx="295.2" cy="334.19" r="1.6" fill="#EE0000"/>
<circle cx="297.68" cy="346.09" r="1.6" fill="#EE0000"/>
<circle cx="289.44" cy="346.05" r="1.6" fill="#EE0000"/>
<circle cx="290.47" cy="350.77" r="1.6" fill="#EE0000"/>
<circle cx="296.89" cy="349.34" r="1.6" fill="#EE0000"/>
<circle cx="305.52" cy="332.33" r="1.6" fill="#EE0000"/>
<circle cx="297.91" cy="328.82" r="1.6" fill="#EE0000"/>
<circle cx="292.86" cy="354.83" r="1.6" fill="#EE0000"/>
<circle cx="289.36" cy="340.43" r="1.6" fill="#EE0000"/>
<circle cx="295.69" cy="343.92" r="1.6" fill="#EE0000"/>
<circle cx="294.46" cy="321.8" r="1.6" fill="#EE0000"/>
<circle cx="287.79" cy="335.99" r="1.6" fill="#EE0000"/>
<circle cx="296.18" cy="342.69" r="1.6" fill="#EE0000"/>
<circle cx="303.84" cy="345.13" r="1.6" fill="#EE0000"/>
<circle cx="288.55" cy="347.99" r="1.6" fill="#EE0000"/>
<circle cx="309.51" cy="340.08" r="1.6" fill="#EE0000"/>
<circle cx="290.22" cy="317.01" r="1.6" fill="#EE0000"/>
<circle cx="302.05" cy="317.5" r="1.6" fill="#EE0000"/>
<circle cx="295.02" cy="322.64" r="1.6" fill="#EE0000"/>
<circle cx="288.53" cy="344.56" r="1.6" fill="#EE0000"/>
<circle cx="305.4" cy="333.42" r="1.6" fill="#EE0000"/>
<circle cx="305.28" cy="338.47" r="1.6" fill="#EE0000"/>
<circle cx="307.23" cy="351.89" r="1.6" fill="#EE0000"/>
<circle cx="301.57" cy="346.69" r="1.6" fill="#EE0000"/>
<circle cx="292.07" cy="320.06" r="1.6" fill="#EE0000"/>
<circle cx="297.23" cy="322.55" r="1.6" fill="#EE0000"/>
<circle cx="293.96" cy="325.5" r="1.6" fill="#EE0000"/>
<circle cx="307.93" cy="329.27" r="1.6" fill="#EE0000"/>
<circle cx="292.85" cy="327.75" r="1.6" fill="#EE0000"/>
<circle cx="308.9" cy="322.95" r="1.6" fill="#EE0000"/>
<circle cx="297.54" cy="337.94" r="1.6" fill="#EE0000"/>
<circle cx="289.81" cy="324.12" r="1.6" fill="#EE0000"/>
<circle cx="291.14" cy="345.38" r="1.6" fill="#EE0000"/>
<circle cx="288.34" cy="347.79" r="1.6" fill="#EE0000"/>
<circle cx="296.2" cy="334.93" r="1.6" fill="#EE0000"/>
<circle cx="291.53" cy="336.95" r="1.6" fill="#EE0000"/>
<circle cx="304.58" cy="350.93" r="1.6" fill="#EE0000"/>
<circle cx="290.63" cy="333.18" r="1.6" fill="#EE0000"/>
<circle cx="307.85" cy="318.85" r="1.6" fill="#EE0000"/>
<circle cx="300.35" cy="351.19" r="1.6" fill="#EE0000"/>
<circle cx="307.17" cy="316.25" r="1.6" fill="#EE0000"/>
<circle cx="307.74" cy="332.86" r="1.6" fill="#EE0000"/>
<circle cx="296.17" cy="330.75" r="1.6" fill="#EE0000"/>
<circle cx="305.31" cy="316.2" r="1.6" fill="#EE0000"/>
<circle cx="298.66" cy="333.78" r="1.6" fill="#EE0000"/>
<circle cx="294.56" cy="332.51" r="1.6" fill="#EE0000"/>
<circle cx="299.78" cy="342.65" r="1.6" fill="#EE0000"/>
<circle cx="297.86" cy="318.93" r="1.6" fill="#EE0000"/>
<circle cx="292.89" cy="343.87" r="1.6" fill="#EE0000"/>
<circle cx="294.42" cy="320.93" r="1.6" fill="#EE0000"/>
<circle cx="294.39" cy="322.04" r="1.6" fill="#EE0000"/>
<circle cx="308.41" cy="320.32" r="1.6" fill="#EE0000"/>
<circle cx="305.62" cy="346.42" r="1.6" fill="#EE0000"/>
<circle cx="297.69" cy="322.17" r="1.6" fill="#EE0000"/>
<circle cx="293.11" cy="330.2" r="1.6" fill="#EE0000"/>
<circle cx="307.11" cy="318.3" r="1.6" fill="#EE0000"/>
<circle cx="295.45" cy="349.86" r="1.6" fill="#EE0000"/>
<circle cx="288.29" cy="341.26" r="1.6" fill="#EE0000"/>
<circle cx="299.86" cy="342.76" r="1.6" fill="#EE0000"/>
<circle cx="306.05" cy="328.42" r="1.6" fill="#EE0000"/>
<circle cx="301.51" cy="322.04" r="1.6" fill="#EE0000"/>
<circle cx="294.96" cy="328.42" r="1.6" fill="#EE0000"/>
<circle cx="295.46" cy="342.39" r="1.6" fill="#EE0000"/>
<circle cx="290.17" cy="323.4" r="1.6" fill="#EE0000"/>
<circle cx="307.77" cy="354.38" r="1.6" fill="#EE0000"/>
<circle cx="303.65" cy="352.67" r="1.6" fill="#EE0000"/>
<circle cx="296.95" cy="341.26" r="1.6" fill="#EE0000"/>
<circle cx="307.82" cy="336.62" r="1.6" fill="#EE0000"/>
<circle cx="299.04" cy="339.67" r="1.6" fill="#EE0000"/>
<circle cx="293.3" cy="344.32" r="1.6" fill="#EE0000"/>
<circle cx="289" cy="355.4" r="1.6" fill="#EE0000"/>
<circle cx="299.92" cy="325.2" r="1.6" fill="#EE0000"/>
<circle cx="302.62" cy="343.64" r="1.6" fill="#EE0000"/>
<circle cx="309.74" cy="351.83" r="1.6" fill="#EE0000"/>
<circle cx="314.54" cy="333.35" r="1.6" fill="#EE0000"/>
<circle cx="311.22" cy="354.68" r="1.6" fill="#EE0000"/>
<circle cx="319.68" cy="326.47" r="1.6" fill="#EE0000"/>
<circle cx="311.19" cy="349.54" r="1.6" fill="#EE0000"/>
<circle cx="313.64" cy="332.25" r="1.6" fill="#EE0000"/>
<circle cx="312.59" cy="333.06" r="1.6" fill="#EE0000"/>
<circle cx="317.23" cy="332.6" r="1.6" fill="#EE0000"/>
<circle cx="317.29" cy="324.15" r="1.6" fill="#EE0000"/>
<circle cx="316.27" cy="341.85" r="1.6" fill="#EE0000"/>
<circle cx="312.89" cy="351.5" r="1.6" fill="#EE0000"/>
<circle cx="324.31" cy="344.34" r="1.6" fill="#EE0000"/>
<circle cx="314.23" cy="327.64" r="1.6" fill="#EE0000"/>
<circle cx="317.92" cy="331.83" r="1.6" fill="#EE0000"/>
<circle cx="311.07" cy="340.1" r="1.6" fill="#EE0000"/>
<circle cx="311.43" cy="343.74" r="1.6" fill="#EE0000"/>
<circle cx="320.6" cy="322.4" r="1.6" fill="#EE0000"/>
<circle cx="318.05" cy="328.51" r="1.6" fill="#EE0000"/>
<circle cx="313.13" cy="346.59" r="1.6" fill="#EE0000"/>
<circle cx="325.17" cy="332.67" r="1.6" fill="#EE0000"/>
<circle cx="320.49" cy="333.79" r="1.6" fill="#EE0000"/>
<circle cx="324.6" cy="327.91" r="1.6" fill="#EE0000"/>
<circle cx="318.68" cy="324.82" r="1.6" fill="#EE0000"/>
<circle cx="316.7" cy="347.27" r="1.6" fill="#EE0000"/>
<circle cx="323.96" cy="348.02" r="1.6" fill="#EE0000"/>
<circle cx="316.52" cy="335.6" r="1.6" fill="#EE0000"/>
<circle cx="318" cy="344.04" r="1.6" fill="#EE0000"/>
<circle cx="317.65" cy="346.28" r="1.6" fill="#EE0000"/>
<circle cx="320.3" cy="353.86" r="1.6" fill="#EE0000"/>
<circle cx="317.82" cy="351.79" r="1.6" fill="#EE0000"/>
<circle cx="320.19" cy="334.92" r="1.6" fill="#EE0000"/>
<circle cx="307.26" cy="311.65" r="1.6" fill="#EE0000"/>
<circle cx="307.89" cy="316.79" r="1.6" fill="#EE0000"/>
<circle cx="309.52" cy="317.1" r="1.6" fill="#EE0000"/>
<circle cx="304.62" cy="312.98" r="1.6" fill="#EE0000"/>
<circle cx="294.93" cy="314.39" r="1.6" fill="#EE0000"/>
<circle cx="309.42" cy="311.59" r="1.6" fill="#EE0000"/>
<circle cx="293.05" cy="315.57" r="1.6" fill="#EE0000"/>
<circle cx="309.83" cy="310.06" r="1.6" fill="#EE0000"/>
<circle cx="291.34" cy="309.12" r="1.6" fill="#EE0000"/>
<circle cx="301.24" cy="316.32" r="1.6" fill="#EE0000"/>
<circle cx="293.94" cy="315.91" r="1.6" fill="#EE0000"/>
<circle cx="289.12" cy="310.09" r="1.6" fill="#EE0000"/>
<circle cx="301.12" cy="315.58" r="1.6" fill="#EE0000"/>
<circle cx="299.85" cy="314.88" r="1.6" fill="#EE0000"/>
<circle cx="296.63" cy="311.77" r="1.6" fill="#EE0000"/>
<circle cx="300.5" cy="308.02" r="1.6" fill="#EE0000"/>
<circle cx="292.81" cy="311.51" r="1.6" fill="#EE0000"/>
<circle cx="303.75" cy="309.97" r="1.6" fill="#EE0000"/>
<circle cx="293.85" cy="317.91" r="1.6" fill="#EE0000"/>
<circle cx="303.62" cy="312.11" r="1.6" fill="#EE0000"/>
<circle cx="325.05" cy="344.88" r="1.6" fill="#EE0000"/>
<circle cx="325.35" cy="339.88" r="1.6" fill="#EE0000"/>
<circle cx="323.53" cy="325.1" r="1.6" fill="#EE0000"/>
<circle cx="321.86" cy="334.55" r="1.6" fill="#EE0000"/>
<circle cx="320.3" cy="333.68" r="1.6" fill="#EE0000"/>
<circle cx="325.97" cy="329.12" r="1.6" fill="#EE0000"/>
<circle cx="319.02" cy="332.71" r="1.6" fill="#EE0000"/>
<circle cx="319.52" cy="322.75" r="1.6" fill="#EE0000"/>
<circle cx="326.22" cy="339.53" r="1.6" fill="#EE0000"/>
<circle cx="318.24" cy="339" r="1.6" fill="#EE0000"/>
<circle cx="319.57" cy="337.47" r="1.6" fill="#EE0000"/>
<circle cx="326.5" cy="353.3" r="1.6" fill="#EE0000"/>
<circle cx="321.58" cy="347.04" r="1.6" fill="#EE0000"/>
<circle cx="322.44" cy="324.57" r="1.6" fill="#EE0000"/>
<circle cx="321.6" cy="347.93" r="1.6" fill="#EE0000"/>
<circle cx="325" cy="345.14" r="1.6" fill="#EE0000"/>
<circle cx="326.89" cy="334.17" r="1.6" fill="#EE0000"/>
<circle cx="324.32" cy="348.19" r="1.6" fill="#EE0000"/>
<circle cx="326.32" cy="349.86" r="1.6" fill="#EE0000"/>
<circle cx="325.86" cy="332.89" r="1.6" fill="#EE0000"/>
<circle cx="321.4" cy="341.8" r="1.6" fill="#EE0000"/>
<circle cx="319.08" cy="331.86" r="1.6" fill="#EE0000"/>
<circle cx="321.34" cy="328.58" r="1.6" fill="#EE0000"/>
<circle cx="319.67" cy="342.89" r="1.6" fill="#EE0000"/>
<circle cx="320.79" cy="323.83" r="1.6" fill="#EE0000"/>
<circle cx="303" cy="286.8" r="1.6" fill="#EE0000"/>
<circle cx="294" cy="289.5" r="1.6" fill="#EE0000"/>
<circle cx="288.6" cy="292.8" r="1.6" fill="#EE0000"/>
<circle cx="303" cy="293" r="1.6" fill="#EE0000"/>
<circle cx="291.4" cy="298.5" r="1.6" fill="#EE0000"/>
<circle cx="295.4" cy="298.5" r="1.6" fill="#EE0000"/>
<circle cx="304.2" cy="298.5" r="1.6" fill="#EE0000"/>
<circle cx="291.4" cy="301.8" r="1.6" fill="#EE0000"/>
<circle cx="294" cy="307.3" r="1.6" fill="#EE0000"/>
<circle cx="303.3" cy="264.4" r="1.6" fill="#EE0000"/>
<circle cx="341.8" cy="331.3" r="1.6" fill="#EE0000"/>
<circle cx="344.5" cy="328.5" r="1.6" fill="#EE0000"/>
<circle cx="346.7" cy="329.6" r="1.6" fill="#EE0000"/>
<circle cx="325.4" cy="331" r="1.6" fill="#EE0000"/>
<circle cx="324" cy="340" r="1.6" fill="#EE0000"/>
<circle cx="241" cy="348.2" r="1.1" fill="#fff" stroke="#0000CC" stroke-width="0.45"/>
<path d="M203.3 259.2V375.3H353.2" stroke="#555" stroke-width="0.8" fill="none"/>
<line x1="202.1" y1="370" x2="203.3" y2="370" stroke="#666" stroke-width="0.5"/>
<text class="s" x="201.7" y="371.2" font-size="3.5" text-anchor="end" fill="#333">0.0</text>
<line x1="202.1" y1="342.65" x2="203.3" y2="342.65" stroke="#666" stroke-width="0.5"/>
<text class="s" x="201.7" y="343.85" font-size="3.5" text-anchor="end" fill="#333">2.5</text>
<line x1="202.1" y1="315.3" x2="203.3" y2="315.3" stroke="#666" stroke-width="0.5"/>
<text class="s" x="201.7" y="316.5" font-size="3.5" text-anchor="end" fill="#333">5.0</text>
<line x1="202.1" y1="287.95" x2="203.3" y2="287.95" stroke="#666" stroke-width="0.5"/>
<text class="s" x="201.7" y="289.15" font-size="3.5" text-anchor="end" fill="#333">7.5</text>
<line x1="202.1" y1="260.6" x2="203.3" y2="260.6" stroke="#666" stroke-width="0.5"/>
<text class="s" x="201.7" y="261.8" font-size="3.5" text-anchor="end" fill="#333">10.0</text>
<line x1="231.9" y1="375.3" x2="231.9" y2="376.5" stroke="#666" stroke-width="0.5"/>
<text class="s" x="231.9" y="379.9" font-size="3.5" text-anchor="middle" fill="#333">-10</text>
<line x1="279.2" y1="375.3" x2="279.2" y2="376.5" stroke="#666" stroke-width="0.5"/>
<text class="s" x="279.2" y="379.9" font-size="3.5" text-anchor="middle" fill="#333">0</text>
<line x1="326.5" y1="375.3" x2="326.5" y2="376.5" stroke="#666" stroke-width="0.5"/>
<text class="s" x="326.5" y="379.9" font-size="3.5" text-anchor="middle" fill="#333">10</text>
<text class="r" x="265.1" y="262.3" font-size="4.95" fill="#111" stroke="#111" stroke-width="0.16">Corn VS Grape</text>
<text class="s" x="278.3" y="385.4" font-size="4.35" text-anchor="middle" fill="#000" stroke="#000" stroke-width="0.1">Log2FoldChange</text>
<text class="s" transform="translate(192.4,316.9) rotate(-90)" font-size="4.4" text-anchor="middle" fill="#111" stroke="#111" stroke-width="0.1">-log10(pvalue)</text>
<circle cx="324.6" cy="365" r="1.3" fill="#EE0000"/>
<text class="r" x="326.6" y="366.2" font-size="3.6" fill="#222" stroke="#222" stroke-width="0.06">Up:258</text>
<circle cx="324.6" cy="369.1" r="1.3" fill="#0000CC"/>
<text class="r" x="326.6" y="370.3" font-size="3.6" fill="#222" stroke="#222" stroke-width="0.06">Down:83</text>
<circle cx="324.6" cy="372.7" r="0.8" fill="none" stroke="#999" stroke-width="0.35"/>
<text class="r" x="326.6" y="373.9" font-size="3.6" fill="#222" stroke="#222" stroke-width="0.06">Insignificant:519</text>
<text class="b" x="181.5" y="246.9" font-size="9.6" fill="#111">(d)</text>
<line x1="462.3" y1="272.5" x2="462.3" y2="376" stroke="#666" stroke-width="0.5" stroke-dasharray="1.2,0.9,0.3,0.9"/>
<line x1="471.1" y1="272.5" x2="471.1" y2="376" stroke="#666" stroke-width="0.5" stroke-dasharray="1.2,0.9,0.3,0.9"/>
<line x1="389.5" y1="355.33" x2="535.8" y2="355.33" stroke="#666" stroke-width="0.5" stroke-dasharray="1.2,0.9,0.3,0.9"/>
<circle cx="459.74" cy="354.7" r="1.6" fill="#BEBEBE"/>
<circle cx="474.45" cy="331.44" r="1.6" fill="#BEBEBE"/>
<circle cx="459.67" cy="347.44" r="1.6" fill="#BEBEBE"/>
<circle cx="471.84" cy="355.11" r="1.6" fill="#BEBEBE"/>
<circle cx="472.67" cy="347.33" r="1.6" fill="#BEBEBE"/>
<circle cx="469.98" cy="349.63" r="1.6" fill="#BEBEBE"/>
<circle cx="462.62" cy="336.71" r="1.6" fill="#BEBEBE"/>
<circle cx="469.63" cy="327.39" r="1.6" fill="#BEBEBE"/>
<circle cx="458.41" cy="337.36" r="1.6" fill="#BEBEBE"/>
<circle cx="471.31" cy="352.72" r="1.6" fill="#BEBEBE"/>
<circle cx="472.68" cy="334.54" r="1.6" fill="#BEBEBE"/>
<circle cx="466.19" cy="355.18" r="1.6" fill="#BEBEBE"/>
<circle cx="474.4" cy="354.7" r="1.6" fill="#BEBEBE"/>
<circle cx="469.57" cy="344.93" r="1.6" fill="#BEBEBE"/>
<circle cx="458.23" cy="353.39" r="1.6" fill="#BEBEBE"/>
<circle cx="460.79" cy="338.84" r="1.6" fill="#BEBEBE"/>
<circle cx="463.99" cy="335.96" r="1.6" fill="#BEBEBE"/>
<circle cx="473.46" cy="339.87" r="1.6" fill="#BEBEBE"/>
<circle cx="461.64" cy="341.1" r="1.6" fill="#BEBEBE"/>
<circle cx="458.05" cy="334.74" r="1.6" fill="#BEBEBE"/>
<circle cx="463.57" cy="322.03" r="1.6" fill="#BEBEBE"/>
<circle cx="463.45" cy="318.09" r="1.6" fill="#BEBEBE"/>
<circle cx="467.87" cy="349.07" r="1.6" fill="#BEBEBE"/>
<circle cx="469.61" cy="351.11" r="1.6" fill="#BEBEBE"/>
<circle cx="475.07" cy="323.96" r="1.6" fill="#BEBEBE"/>
<circle cx="470.81" cy="345.12" r="1.6" fill="#BEBEBE"/>
<circle cx="462.34" cy="351.11" r="1.6" fill="#BEBEBE"/>
<circle cx="458.37" cy="320.14" r="1.6" fill="#BEBEBE"/>
<circle cx="462.45" cy="354.7" r="1.6" fill="#BEBEBE"/>
<circle cx="474.33" cy="350.39" r="1.6" fill="#BEBEBE"/>
<circle cx="463.59" cy="335.99" r="1.6" fill="#BEBEBE"/>
<circle cx="458.26" cy="335.43" r="1.6" fill="#BEBEBE"/>
<circle cx="461.07" cy="324.75" r="1.6" fill="#BEBEBE"/>
<circle cx="471.67" cy="350.78" r="1.6" fill="#BEBEBE"/>
<circle cx="464.55" cy="336.18" r="1.6" fill="#BEBEBE"/>
<circle cx="474.17" cy="348.25" r="1.6" fill="#BEBEBE"/>
<circle cx="462.05" cy="326.36" r="1.6" fill="#BEBEBE"/>
<circle cx="464.84" cy="340.84" r="1.6" fill="#BEBEBE"/>
<circle cx="459.9" cy="354.74" r="1.6" fill="#BEBEBE"/>
<circle cx="470.76" cy="333.31" r="1.6" fill="#BEBEBE"/>
<circle cx="463.83" cy="355" r="1.6" fill="#BEBEBE"/>
<circle cx="465.98" cy="354.63" r="1.6" fill="#BEBEBE"/>
<circle cx="463.68" cy="339.14" r="1.6" fill="#BEBEBE"/>
<circle cx="472.12" cy="329.54" r="1.6" fill="#BEBEBE"/>
<circle cx="461.77" cy="340.3" r="1.6" fill="#BEBEBE"/>
<circle cx="460.8" cy="323.9" r="1.6" fill="#BEBEBE"/>
<circle cx="475.13" cy="343.96" r="1.6" fill="#BEBEBE"/>
<circle cx="469.53" cy="340.48" r="1.6" fill="#BEBEBE"/>
<circle cx="467.12" cy="350.53" r="1.6" fill="#BEBEBE"/>
<circle cx="468.48" cy="332.33" r="1.6" fill="#BEBEBE"/>
<circle cx="468.6" cy="324.66" r="1.6" fill="#BEBEBE"/>
<circle cx="469.25" cy="335.35" r="1.6" fill="#BEBEBE"/>
<circle cx="470.89" cy="321.82" r="1.6" fill="#BEBEBE"/>
<circle cx="473.78" cy="348.62" r="1.6" fill="#BEBEBE"/>
<circle cx="460.44" cy="350.61" r="1.6" fill="#BEBEBE"/>
<circle cx="474.3" cy="354.12" r="1.6" fill="#BEBEBE"/>
<circle cx="463.65" cy="347.23" r="1.6" fill="#BEBEBE"/>
<circle cx="461.12" cy="353.26" r="1.6" fill="#BEBEBE"/>
<circle cx="458.71" cy="335.95" r="1.6" fill="#BEBEBE"/>
<circle cx="468.87" cy="350.34" r="1.6" fill="#BEBEBE"/>
<circle cx="473.89" cy="351.81" r="1.6" fill="#BEBEBE"/>
<circle cx="458.19" cy="328.24" r="1.6" fill="#BEBEBE"/>
<circle cx="470.25" cy="354.64" r="1.6" fill="#BEBEBE"/>
<circle cx="460.7" cy="323.09" r="1.6" fill="#BEBEBE"/>
<circle cx="465.12" cy="353.96" r="1.6" fill="#BEBEBE"/>
<circle cx="459.22" cy="351.12" r="1.6" fill="#BEBEBE"/>
<circle cx="469.55" cy="354.65" r="1.6" fill="#BEBEBE"/>
<circle cx="461.3" cy="350.36" r="1.6" fill="#BEBEBE"/>
<circle cx="464.14" cy="343.58" r="1.6" fill="#BEBEBE"/>
<circle cx="460.15" cy="320.94" r="1.6" fill="#BEBEBE"/>
<circle cx="468.53" cy="323.04" r="1.6" fill="#BEBEBE"/>
<circle cx="460.11" cy="353.24" r="1.6" fill="#BEBEBE"/>
<circle cx="469.27" cy="349.46" r="1.6" fill="#BEBEBE"/>
<circle cx="459.93" cy="340.48" r="1.6" fill="#BEBEBE"/>
<circle cx="462.31" cy="341.75" r="1.6" fill="#BEBEBE"/>
<circle cx="471.78" cy="332.3" r="1.6" fill="#BEBEBE"/>
<circle cx="474.19" cy="346.98" r="1.6" fill="#BEBEBE"/>
<circle cx="463.14" cy="318" r="1.6" fill="#BEBEBE"/>
<circle cx="471.76" cy="332.22" r="1.6" fill="#BEBEBE"/>
<circle cx="466.59" cy="331.46" r="1.6" fill="#BEBEBE"/>
<circle cx="470.22" cy="355.12" r="1.6" fill="#BEBEBE"/>
<circle cx="470.69" cy="354.3" r="1.6" fill="#BEBEBE"/>
<circle cx="463.18" cy="331" r="1.6" fill="#BEBEBE"/>
<circle cx="467.43" cy="354.87" r="1.6" fill="#BEBEBE"/>
<circle cx="463.59" cy="355.03" r="1.6" fill="#BEBEBE"/>
<circle cx="462.76" cy="329.13" r="1.6" fill="#BEBEBE"/>
<circle cx="473.97" cy="346.42" r="1.6" fill="#BEBEBE"/>
<circle cx="470.87" cy="353.54" r="1.6" fill="#BEBEBE"/>
<circle cx="468.65" cy="326.6" r="1.6" fill="#BEBEBE"/>
<circle cx="460.61" cy="353.08" r="1.6" fill="#BEBEBE"/>
<circle cx="461.27" cy="354.06" r="1.6" fill="#BEBEBE"/>
<circle cx="475.19" cy="332.17" r="1.6" fill="#BEBEBE"/>
<circle cx="467.11" cy="332.47" r="1.6" fill="#BEBEBE"/>
<circle cx="466.94" cy="348.53" r="1.6" fill="#BEBEBE"/>
<circle cx="458.56" cy="338.4" r="1.6" fill="#BEBEBE"/>
<circle cx="459.67" cy="355.2" r="1.6" fill="#BEBEBE"/>
<circle cx="471.42" cy="348.4" r="1.6" fill="#BEBEBE"/>
<circle cx="472.62" cy="348.28" r="1.6" fill="#BEBEBE"/>
<circle cx="465.13" cy="327.24" r="1.6" fill="#BEBEBE"/>
<circle cx="472.95" cy="347.53" r="1.6" fill="#BEBEBE"/>
<circle cx="463.5" cy="348.87" r="1.6" fill="#BEBEBE"/>
<circle cx="473" cy="349.58" r="1.6" fill="#BEBEBE"/>
<circle cx="461.24" cy="355.07" r="1.6" fill="#BEBEBE"/>
<circle cx="465.02" cy="332.9" r="1.6" fill="#BEBEBE"/>
<circle cx="474.66" cy="354.88" r="1.6" fill="#BEBEBE"/>
<circle cx="459.41" cy="354.45" r="1.6" fill="#BEBEBE"/>
<circle cx="460.53" cy="350.79" r="1.6" fill="#BEBEBE"/>
<circle cx="459.61" cy="346.83" r="1.6" fill="#BEBEBE"/>
<circle cx="472.08" cy="340.35" r="1.6" fill="#BEBEBE"/>
<circle cx="474.17" cy="353.52" r="1.6" fill="#BEBEBE"/>
<circle cx="460.6" cy="352.33" r="1.6" fill="#BEBEBE"/>
<circle cx="459.59" cy="353.36" r="1.6" fill="#BEBEBE"/>
<circle cx="471.69" cy="321.2" r="1.6" fill="#BEBEBE"/>
<circle cx="472.8" cy="339.92" r="1.6" fill="#BEBEBE"/>
<circle cx="459.95" cy="337.42" r="1.6" fill="#BEBEBE"/>
<circle cx="466.84" cy="371.53" r="1.6" fill="#BEBEBE"/>
<circle cx="463.47" cy="366.62" r="1.6" fill="#BEBEBE"/>
<circle cx="468.87" cy="360.96" r="1.6" fill="#BEBEBE"/>
<circle cx="472.01" cy="361.09" r="1.6" fill="#BEBEBE"/>
<circle cx="469.12" cy="364.4" r="1.6" fill="#BEBEBE"/>
<circle cx="463.51" cy="364.18" r="1.6" fill="#BEBEBE"/>
<circle cx="465.18" cy="364.55" r="1.6" fill="#BEBEBE"/>
<circle cx="472.09" cy="360.73" r="1.6" fill="#BEBEBE"/>
<circle cx="467.07" cy="367.74" r="1.6" fill="#BEBEBE"/>
<circle cx="462.8" cy="366.14" r="1.6" fill="#BEBEBE"/>
<circle cx="470.41" cy="357.95" r="1.6" fill="#BEBEBE"/>
<circle cx="465.73" cy="370.8" r="1.6" fill="#BEBEBE"/>
<circle cx="468.15" cy="362.98" r="1.6" fill="#BEBEBE"/>
<circle cx="464.02" cy="362.4" r="1.6" fill="#BEBEBE"/>
<circle cx="467.37" cy="360.67" r="1.6" fill="#BEBEBE"/>
<circle cx="462.27" cy="360.74" r="1.6" fill="#BEBEBE"/>
<circle cx="466.74" cy="355.36" r="1.6" fill="#BEBEBE"/>
<circle cx="466.29" cy="361.68" r="1.6" fill="#BEBEBE"/>
<circle cx="465.89" cy="360.17" r="1.6" fill="#BEBEBE"/>
<circle cx="465.09" cy="368.67" r="1.6" fill="#BEBEBE"/>
<circle cx="463.68" cy="369.17" r="1.6" fill="#BEBEBE"/>
<circle cx="466.2" cy="364.67" r="1.6" fill="#BEBEBE"/>
<circle cx="465.08" cy="364.61" r="1.6" fill="#BEBEBE"/>
<circle cx="467.29" cy="356.96" r="1.6" fill="#BEBEBE"/>
<circle cx="469.65" cy="365.31" r="1.6" fill="#BEBEBE"/>
<circle cx="468.85" cy="366.26" r="1.6" fill="#BEBEBE"/>
<circle cx="464.54" cy="369.14" r="1.6" fill="#BEBEBE"/>
<circle cx="467.92" cy="361.14" r="1.6" fill="#BEBEBE"/>
<circle cx="464.05" cy="363.74" r="1.6" fill="#BEBEBE"/>
<circle cx="459.88" cy="359.44" r="1.6" fill="#BEBEBE"/>
<circle cx="468.37" cy="369.16" r="1.6" fill="#BEBEBE"/>
<circle cx="464.38" cy="364.45" r="1.6" fill="#BEBEBE"/>
<circle cx="465.52" cy="370.6" r="1.6" fill="#BEBEBE"/>
<circle cx="465.92" cy="369.42" r="1.6" fill="#BEBEBE"/>
<circle cx="468.84" cy="362.26" r="1.6" fill="#BEBEBE"/>
<circle cx="471.4" cy="361.55" r="1.6" fill="#BEBEBE"/>
<circle cx="465.28" cy="370.54" r="1.6" fill="#BEBEBE"/>
<circle cx="468.41" cy="358.87" r="1.6" fill="#BEBEBE"/>
<circle cx="466.73" cy="368.17" r="1.6" fill="#BEBEBE"/>
<circle cx="468.34" cy="362.11" r="1.6" fill="#BEBEBE"/>
<circle cx="473.87" cy="367.36" r="1.6" fill="#BEBEBE"/>
<circle cx="466.37" cy="368.23" r="1.6" fill="#BEBEBE"/>
<circle cx="464.22" cy="369.2" r="1.6" fill="#BEBEBE"/>
<circle cx="465.34" cy="360.93" r="1.6" fill="#BEBEBE"/>
<circle cx="466.59" cy="370.9" r="1.6" fill="#BEBEBE"/>
<circle cx="465.97" cy="358.19" r="1.6" fill="#BEBEBE"/>
<circle cx="473.66" cy="370.5" r="1.6" fill="#BEBEBE"/>
<circle cx="459" cy="360.51" r="1.6" fill="#BEBEBE"/>
<circle cx="467.34" cy="363.7" r="1.6" fill="#BEBEBE"/>
<circle cx="464.59" cy="364.64" r="1.6" fill="#BEBEBE"/>
<circle cx="468.71" cy="357.61" r="1.6" fill="#BEBEBE"/>
<circle cx="468.37" cy="367.65" r="1.6" fill="#BEBEBE"/>
<circle cx="464.79" cy="355.57" r="1.6" fill="#BEBEBE"/>
<circle cx="466.68" cy="360.06" r="1.6" fill="#BEBEBE"/>
<circle cx="467.48" cy="369.98" r="1.6" fill="#BEBEBE"/>
<circle cx="466.47" cy="359.7" r="1.6" fill="#BEBEBE"/>
<circle cx="466.59" cy="358.87" r="1.6" fill="#BEBEBE"/>
<circle cx="469.92" cy="356.93" r="1.6" fill="#BEBEBE"/>
<circle cx="463.38" cy="365.34" r="1.6" fill="#BEBEBE"/>
<circle cx="468.25" cy="369.39" r="1.6" fill="#BEBEBE"/>
<circle cx="466.97" cy="371.21" r="1.6" fill="#BEBEBE"/>
<circle cx="466.07" cy="369.72" r="1.6" fill="#BEBEBE"/>
<circle cx="461.29" cy="357.21" r="1.6" fill="#BEBEBE"/>
<circle cx="463.43" cy="362.02" r="1.6" fill="#BEBEBE"/>
<circle cx="462.19" cy="368.43" r="1.6" fill="#BEBEBE"/>
<circle cx="461.98" cy="360.45" r="1.6" fill="#BEBEBE"/>
<circle cx="464.38" cy="364.37" r="1.6" fill="#BEBEBE"/>
<circle cx="466.44" cy="367.25" r="1.6" fill="#BEBEBE"/>
<circle cx="466.27" cy="370.77" r="1.6" fill="#BEBEBE"/>
<circle cx="463" cy="362.26" r="1.6" fill="#BEBEBE"/>
<circle cx="473.25" cy="360.59" r="1.6" fill="#BEBEBE"/>
<circle cx="465.56" cy="358.32" r="1.6" fill="#BEBEBE"/>
<circle cx="459" cy="355.66" r="1.6" fill="#BEBEBE"/>
<circle cx="470.15" cy="359.39" r="1.6" fill="#BEBEBE"/>
<circle cx="467.91" cy="367.62" r="1.6" fill="#BEBEBE"/>
<circle cx="464.78" cy="366.01" r="1.6" fill="#BEBEBE"/>
<circle cx="469.72" cy="366.12" r="1.6" fill="#BEBEBE"/>
<circle cx="469.65" cy="360.27" r="1.6" fill="#BEBEBE"/>
<circle cx="466.39" cy="355.69" r="1.6" fill="#BEBEBE"/>
<circle cx="474.2" cy="356.75" r="1.6" fill="#BEBEBE"/>
<circle cx="464.74" cy="359.3" r="1.6" fill="#BEBEBE"/>
<circle cx="465.42" cy="366.15" r="1.6" fill="#BEBEBE"/>
<circle cx="463.03" cy="367.83" r="1.6" fill="#BEBEBE"/>
<circle cx="466.38" cy="367.35" r="1.6" fill="#BEBEBE"/>
<circle cx="468.34" cy="366.7" r="1.6" fill="#BEBEBE"/>
<circle cx="466.1" cy="356.2" r="1.6" fill="#BEBEBE"/>
<circle cx="470.06" cy="360.58" r="1.6" fill="#BEBEBE"/>
<circle cx="466.01" cy="363.95" r="1.6" fill="#BEBEBE"/>
<circle cx="466.42" cy="365.5" r="1.6" fill="#BEBEBE"/>
<circle cx="466.35" cy="364.49" r="1.6" fill="#BEBEBE"/>
<circle cx="465.86" cy="356.07" r="1.6" fill="#BEBEBE"/>
<circle cx="466.54" cy="357.67" r="1.6" fill="#BEBEBE"/>
<circle cx="464.55" cy="365.09" r="1.6" fill="#BEBEBE"/>
<circle cx="466.84" cy="368.79" r="1.6" fill="#BEBEBE"/>
<circle cx="468.08" cy="359.09" r="1.6" fill="#BEBEBE"/>
<circle cx="468.18" cy="361.67" r="1.6" fill="#BEBEBE"/>
<circle cx="468.1" cy="363.7" r="1.6" fill="#BEBEBE"/>
<circle cx="465.12" cy="368.06" r="1.6" fill="#BEBEBE"/>
<circle cx="465.2" cy="367.16" r="1.6" fill="#BEBEBE"/>
<circle cx="464.96" cy="358.92" r="1.6" fill="#BEBEBE"/>
<circle cx="463.63" cy="370.22" r="1.6" fill="#BEBEBE"/>
<circle cx="470.03" cy="357.58" r="1.6" fill="#BEBEBE"/>
<circle cx="467.8" cy="370.67" r="1.6" fill="#BEBEBE"/>
<circle cx="467.64" cy="364.89" r="1.6" fill="#BEBEBE"/>
<circle cx="467.6" cy="369.14" r="1.6" fill="#BEBEBE"/>
<circle cx="465.89" cy="356.48" r="1.6" fill="#BEBEBE"/>
<circle cx="461.93" cy="361.13" r="1.6" fill="#BEBEBE"/>
<circle cx="466.07" cy="369.43" r="1.6" fill="#BEBEBE"/>
<circle cx="464.93" cy="369.53" r="1.6" fill="#BEBEBE"/>
<circle cx="461.85" cy="369.45" r="1.6" fill="#BEBEBE"/>
<circle cx="465.82" cy="356.26" r="1.6" fill="#BEBEBE"/>
<circle cx="467.39" cy="359.89" r="1.6" fill="#BEBEBE"/>
<circle cx="461.54" cy="364.34" r="1.6" fill="#BEBEBE"/>
<circle cx="466.66" cy="369.63" r="1.6" fill="#BEBEBE"/>
<circle cx="465.49" cy="365.54" r="1.6" fill="#BEBEBE"/>
<circle cx="466.75" cy="359.57" r="1.6" fill="#BEBEBE"/>
<circle cx="469.89" cy="370.47" r="1.6" fill="#BEBEBE"/>
<circle cx="465.13" cy="368.64" r="1.6" fill="#BEBEBE"/>
<circle cx="468.13" cy="368.23" r="1.6" fill="#BEBEBE"/>
<circle cx="470.09" cy="355.36" r="1.6" fill="#BEBEBE"/>
<circle cx="467.55" cy="368.72" r="1.6" fill="#BEBEBE"/>
<circle cx="461.85" cy="366.1" r="1.6" fill="#BEBEBE"/>
<circle cx="466.18" cy="360.56" r="1.6" fill="#BEBEBE"/>
<circle cx="466.69" cy="360.08" r="1.6" fill="#BEBEBE"/>
<circle cx="465.11" cy="367.17" r="1.6" fill="#BEBEBE"/>
<circle cx="466.98" cy="369.34" r="1.6" fill="#BEBEBE"/>
<circle cx="464.66" cy="362.8" r="1.6" fill="#BEBEBE"/>
<circle cx="466.93" cy="362.67" r="1.6" fill="#BEBEBE"/>
<circle cx="465.66" cy="371.34" r="1.6" fill="#BEBEBE"/>
<circle cx="467.2" cy="370.08" r="1.6" fill="#BEBEBE"/>
<circle cx="466.99" cy="367.38" r="1.6" fill="#BEBEBE"/>
<circle cx="466.69" cy="361.07" r="1.6" fill="#BEBEBE"/>
<circle cx="466.85" cy="362.47" r="1.6" fill="#BEBEBE"/>
<circle cx="465.82" cy="367.59" r="1.6" fill="#BEBEBE"/>
<circle cx="466.84" cy="363.24" r="1.6" fill="#BEBEBE"/>
<circle cx="467.94" cy="363.34" r="1.6" fill="#BEBEBE"/>
<circle cx="474.2" cy="358.18" r="1.6" fill="#BEBEBE"/>
<circle cx="469.2" cy="367.6" r="1.6" fill="#BEBEBE"/>
<circle cx="466.68" cy="367.06" r="1.6" fill="#BEBEBE"/>
<circle cx="465.44" cy="368.12" r="1.6" fill="#BEBEBE"/>
<circle cx="462.61" cy="359.79" r="1.6" fill="#BEBEBE"/>
<circle cx="464.98" cy="357.31" r="1.6" fill="#BEBEBE"/>
<circle cx="467.87" cy="370.29" r="1.6" fill="#BEBEBE"/>
<circle cx="462.73" cy="363.79" r="1.6" fill="#BEBEBE"/>
<circle cx="467.2" cy="357.54" r="1.6" fill="#BEBEBE"/>
<circle cx="466.89" cy="369.37" r="1.6" fill="#BEBEBE"/>
<circle cx="466.37" cy="370.78" r="1.6" fill="#BEBEBE"/>
<circle cx="464.95" cy="369.19" r="1.6" fill="#BEBEBE"/>
<circle cx="468.7" cy="371.48" r="1.6" fill="#BEBEBE"/>
<circle cx="468.07" cy="358.77" r="1.6" fill="#BEBEBE"/>
<circle cx="469.8" cy="363.49" r="1.6" fill="#BEBEBE"/>
<circle cx="468.77" cy="367.17" r="1.6" fill="#BEBEBE"/>
<circle cx="463.92" cy="366.62" r="1.6" fill="#BEBEBE"/>
<circle cx="469.13" cy="357.65" r="1.6" fill="#BEBEBE"/>
<circle cx="465.57" cy="370.84" r="1.6" fill="#BEBEBE"/>
<circle cx="463.81" cy="366.85" r="1.6" fill="#BEBEBE"/>
<circle cx="467.09" cy="370.53" r="1.6" fill="#BEBEBE"/>
<circle cx="469.65" cy="359.72" r="1.6" fill="#BEBEBE"/>
<circle cx="469.14" cy="360.68" r="1.6" fill="#BEBEBE"/>
<circle cx="462.97" cy="358.82" r="1.6" fill="#BEBEBE"/>
<circle cx="460.03" cy="363.41" r="1.6" fill="#BEBEBE"/>
<circle cx="467.93" cy="370.62" r="1.6" fill="#BEBEBE"/>
<circle cx="469.03" cy="367.97" r="1.6" fill="#BEBEBE"/>
<circle cx="469.77" cy="370.22" r="1.6" fill="#BEBEBE"/>
<circle cx="467.69" cy="363.38" r="1.6" fill="#BEBEBE"/>
<circle cx="468.99" cy="366.61" r="1.6" fill="#BEBEBE"/>
<circle cx="470.72" cy="368.29" r="1.6" fill="#BEBEBE"/>
<circle cx="469.93" cy="358.36" r="1.6" fill="#BEBEBE"/>
<circle cx="467.98" cy="362.45" r="1.6" fill="#BEBEBE"/>
<circle cx="474.2" cy="363.68" r="1.6" fill="#BEBEBE"/>
<circle cx="466.78" cy="358.86" r="1.6" fill="#BEBEBE"/>
<circle cx="466.87" cy="357.73" r="1.6" fill="#BEBEBE"/>
<circle cx="469.64" cy="368.17" r="1.6" fill="#BEBEBE"/>
<circle cx="469" cy="368.66" r="1.6" fill="#BEBEBE"/>
<circle cx="464.86" cy="363.98" r="1.6" fill="#BEBEBE"/>
<circle cx="465.78" cy="368.15" r="1.6" fill="#BEBEBE"/>
<circle cx="463.7" cy="367.43" r="1.6" fill="#BEBEBE"/>
<circle cx="466.08" cy="360.57" r="1.6" fill="#BEBEBE"/>
<circle cx="460.64" cy="358.3" r="1.6" fill="#BEBEBE"/>
<circle cx="471.92" cy="365.15" r="1.6" fill="#BEBEBE"/>
<circle cx="470.71" cy="366.64" r="1.6" fill="#BEBEBE"/>
<circle cx="470.09" cy="365.01" r="1.6" fill="#BEBEBE"/>
<circle cx="466.84" cy="362.68" r="1.6" fill="#BEBEBE"/>
<circle cx="467.04" cy="363.05" r="1.6" fill="#BEBEBE"/>
<circle cx="467.57" cy="361.3" r="1.6" fill="#BEBEBE"/>
<circle cx="460.48" cy="364.94" r="1.6" fill="#BEBEBE"/>
<circle cx="470.07" cy="370.67" r="1.6" fill="#BEBEBE"/>
<circle cx="469.02" cy="364.21" r="1.6" fill="#BEBEBE"/>
<circle cx="467.88" cy="371.2" r="1.6" fill="#BEBEBE"/>
<circle cx="464.51" cy="367.04" r="1.6" fill="#BEBEBE"/>
<circle cx="468.39" cy="359.53" r="1.6" fill="#BEBEBE"/>
<circle cx="471.79" cy="364.63" r="1.6" fill="#BEBEBE"/>
<circle cx="468.28" cy="362.66" r="1.6" fill="#BEBEBE"/>
<circle cx="466" cy="356.03" r="1.6" fill="#BEBEBE"/>
<circle cx="460.44" cy="363.19" r="1.6" fill="#BEBEBE"/>
<circle cx="468.11" cy="366.08" r="1.6" fill="#BEBEBE"/>
<circle cx="465.98" cy="358.26" r="1.6" fill="#BEBEBE"/>
<circle cx="464.45" cy="371.09" r="1.6" fill="#BEBEBE"/>
<circle cx="468.01" cy="359.98" r="1.6" fill="#BEBEBE"/>
<circle cx="468.6" cy="358.59" r="1.6" fill="#BEBEBE"/>
<circle cx="463.84" cy="365" r="1.6" fill="#BEBEBE"/>
<circle cx="468.49" cy="363.4" r="1.6" fill="#BEBEBE"/>
<circle cx="465.95" cy="368.17" r="1.6" fill="#BEBEBE"/>
<circle cx="466.96" cy="356.69" r="1.6" fill="#BEBEBE"/>
<circle cx="461.69" cy="358.46" r="1.6" fill="#BEBEBE"/>
<circle cx="471.57" cy="363.6" r="1.6" fill="#BEBEBE"/>
<circle cx="466.8" cy="362.75" r="1.6" fill="#BEBEBE"/>
<circle cx="467.73" cy="356.22" r="1.6" fill="#BEBEBE"/>
<circle cx="464.43" cy="359.81" r="1.6" fill="#BEBEBE"/>
<circle cx="469.57" cy="368.87" r="1.6" fill="#BEBEBE"/>
<circle cx="467.81" cy="362.26" r="1.6" fill="#BEBEBE"/>
<circle cx="464.99" cy="368.53" r="1.6" fill="#BEBEBE"/>
<circle cx="469.03" cy="362.24" r="1.6" fill="#BEBEBE"/>
<circle cx="470.04" cy="371.21" r="1.6" fill="#BEBEBE"/>
<circle cx="464.88" cy="362.01" r="1.6" fill="#BEBEBE"/>
<circle cx="462.44" cy="360.77" r="1.6" fill="#BEBEBE"/>
<circle cx="469.42" cy="360.34" r="1.6" fill="#BEBEBE"/>
<circle cx="467.79" cy="365.21" r="1.6" fill="#BEBEBE"/>
<circle cx="467.81" cy="359.44" r="1.6" fill="#BEBEBE"/>
<circle cx="465.59" cy="365.38" r="1.6" fill="#BEBEBE"/>
<circle cx="461.46" cy="360.28" r="1.6" fill="#BEBEBE"/>
<circle cx="462.75" cy="355.71" r="1.6" fill="#BEBEBE"/>
<circle cx="480.22" cy="358.09" r="1.6" fill="#BEBEBE"/>
<circle cx="447.46" cy="358.47" r="1.6" fill="#BEBEBE"/>
<circle cx="473.39" cy="364.52" r="1.6" fill="#BEBEBE"/>
<circle cx="487.31" cy="357.44" r="1.6" fill="#BEBEBE"/>
<circle cx="464.06" cy="357.99" r="1.6" fill="#BEBEBE"/>
<circle cx="458.39" cy="362.09" r="1.6" fill="#BEBEBE"/>
<circle cx="460.17" cy="360.61" r="1.6" fill="#BEBEBE"/>
<circle cx="484.99" cy="361.29" r="1.6" fill="#BEBEBE"/>
<circle cx="468.64" cy="358.03" r="1.6" fill="#BEBEBE"/>
<circle cx="483.61" cy="357.39" r="1.6" fill="#BEBEBE"/>
<circle cx="457.12" cy="364.02" r="1.6" fill="#BEBEBE"/>
<circle cx="483.89" cy="360.83" r="1.6" fill="#BEBEBE"/>
<circle cx="474.72" cy="359.04" r="1.6" fill="#BEBEBE"/>
<circle cx="498.27" cy="357.54" r="1.6" fill="#BEBEBE"/>
<circle cx="445.3" cy="361.32" r="1.6" fill="#BEBEBE"/>
<circle cx="459.81" cy="359.66" r="1.6" fill="#BEBEBE"/>
<circle cx="459.51" cy="357.62" r="1.6" fill="#BEBEBE"/>
<circle cx="473.58" cy="358.28" r="1.6" fill="#BEBEBE"/>
<circle cx="471.26" cy="361.33" r="1.6" fill="#BEBEBE"/>
<circle cx="470.65" cy="360.38" r="1.6" fill="#BEBEBE"/>
<circle cx="479.46" cy="363.83" r="1.6" fill="#BEBEBE"/>
<circle cx="465.71" cy="362.07" r="1.6" fill="#BEBEBE"/>
<circle cx="482.67" cy="359.16" r="1.6" fill="#BEBEBE"/>
<circle cx="483.41" cy="360.03" r="1.6" fill="#BEBEBE"/>
<circle cx="459.04" cy="364.67" r="1.6" fill="#BEBEBE"/>
<circle cx="473.2" cy="362.15" r="1.6" fill="#BEBEBE"/>
<circle cx="447.75" cy="358.98" r="1.6" fill="#BEBEBE"/>
<circle cx="462.72" cy="359.66" r="1.6" fill="#BEBEBE"/>
<circle cx="458.06" cy="356.75" r="1.6" fill="#BEBEBE"/>
<circle cx="465.54" cy="361.61" r="1.6" fill="#BEBEBE"/>
<circle cx="461.99" cy="365.04" r="1.6" fill="#BEBEBE"/>
<circle cx="458.07" cy="356.39" r="1.6" fill="#BEBEBE"/>
<circle cx="471.21" cy="357.73" r="1.6" fill="#BEBEBE"/>
<circle cx="463.22" cy="357.28" r="1.6" fill="#BEBEBE"/>
<circle cx="469.11" cy="362.83" r="1.6" fill="#BEBEBE"/>
<circle cx="474.34" cy="362.6" r="1.6" fill="#BEBEBE"/>
<circle cx="464.79" cy="358.76" r="1.6" fill="#BEBEBE"/>
<circle cx="442.27" cy="356.45" r="1.6" fill="#BEBEBE"/>
<circle cx="452.76" cy="355.92" r="1.6" fill="#BEBEBE"/>
<circle cx="462.05" cy="361.26" r="1.6" fill="#BEBEBE"/>
<circle cx="477.79" cy="360.94" r="1.6" fill="#BEBEBE"/>
<circle cx="474.05" cy="361.42" r="1.6" fill="#BEBEBE"/>
<circle cx="460.93" cy="361.95" r="1.6" fill="#BEBEBE"/>
<circle cx="463.69" cy="313.37" r="1.6" fill="#BEBEBE"/>
<circle cx="467.66" cy="303.75" r="1.6" fill="#BEBEBE"/>
<circle cx="462.71" cy="300.76" r="1.6" fill="#BEBEBE"/>
<circle cx="473.95" cy="306.65" r="1.6" fill="#BEBEBE"/>
<circle cx="463.04" cy="311.35" r="1.6" fill="#BEBEBE"/>
<circle cx="460.02" cy="316.05" r="1.6" fill="#BEBEBE"/>
<circle cx="459.46" cy="305.4" r="1.6" fill="#BEBEBE"/>
<circle cx="464.13" cy="317.38" r="1.6" fill="#BEBEBE"/>
<circle cx="467.6" cy="303.79" r="1.6" fill="#BEBEBE"/>
<circle cx="474.98" cy="312.84" r="1.6" fill="#BEBEBE"/>
<circle cx="458.84" cy="337.22" r="1.6" fill="#0000CC"/>
<circle cx="456.91" cy="328.15" r="1.6" fill="#0000CC"/>
<circle cx="457.59" cy="317.14" r="1.6" fill="#0000CC"/>
<circle cx="459.23" cy="340.16" r="1.6" fill="#0000CC"/>
<circle cx="448.65" cy="339.7" r="1.6" fill="#0000CC"/>
<circle cx="454.72" cy="337.23" r="1.6" fill="#0000CC"/>
<circle cx="444.32" cy="351.45" r="1.6" fill="#0000CC"/>
<circle cx="455.55" cy="342.92" r="1.6" fill="#0000CC"/>
<circle cx="443.7" cy="346.4" r="1.6" fill="#0000CC"/>
<circle cx="448.53" cy="324.25" r="1.6" fill="#0000CC"/>
<circle cx="443.68" cy="336.17" r="1.6" fill="#0000CC"/>
<circle cx="446.19" cy="342.82" r="1.6" fill="#0000CC"/>
<circle cx="458.32" cy="318.58" r="1.6" fill="#0000CC"/>
<circle cx="444.82" cy="340" r="1.6" fill="#0000CC"/>
<circle cx="459.49" cy="317.67" r="1.6" fill="#0000CC"/>
<circle cx="454.93" cy="339.49" r="1.6" fill="#0000CC"/>
<circle cx="459.06" cy="341.02" r="1.6" fill="#0000CC"/>
<circle cx="456.4" cy="339.33" r="1.6" fill="#0000CC"/>
<circle cx="457.51" cy="324.42" r="1.6" fill="#0000CC"/>
<circle cx="458.88" cy="340.71" r="1.6" fill="#0000CC"/>
<circle cx="449.94" cy="318.5" r="1.6" fill="#0000CC"/>
<circle cx="459.12" cy="346.09" r="1.6" fill="#0000CC"/>
<circle cx="457.67" cy="349.42" r="1.6" fill="#0000CC"/>
<circle cx="437.02" cy="345.18" r="1.6" fill="#0000CC"/>
<circle cx="458.95" cy="319.72" r="1.6" fill="#0000CC"/>
<circle cx="443.06" cy="330.99" r="1.6" fill="#0000CC"/>
<circle cx="459.47" cy="319.75" r="1.6" fill="#0000CC"/>
<circle cx="457.34" cy="324.93" r="1.6" fill="#0000CC"/>
<circle cx="459.46" cy="341.82" r="1.6" fill="#0000CC"/>
<circle cx="459.4" cy="326.37" r="1.6" fill="#0000CC"/>
<circle cx="447.62" cy="342.99" r="1.6" fill="#0000CC"/>
<circle cx="444.47" cy="324.53" r="1.6" fill="#0000CC"/>
<circle cx="458.69" cy="338.33" r="1.6" fill="#0000CC"/>
<circle cx="443.92" cy="342.59" r="1.6" fill="#0000CC"/>
<circle cx="446.21" cy="330.92" r="1.6" fill="#0000CC"/>
<circle cx="447.01" cy="348.72" r="1.6" fill="#0000CC"/>
<circle cx="450.14" cy="321.23" r="1.6" fill="#0000CC"/>
<circle cx="443.17" cy="317.27" r="1.6" fill="#0000CC"/>
<circle cx="459.5" cy="326.74" r="1.6" fill="#0000CC"/>
<circle cx="455.89" cy="350.92" r="1.6" fill="#0000CC"/>
<circle cx="446.37" cy="331.66" r="1.6" fill="#0000CC"/>
<circle cx="451.32" cy="330.97" r="1.6" fill="#0000CC"/>
<circle cx="440.28" cy="338.24" r="1.6" fill="#0000CC"/>
<circle cx="456.07" cy="349.68" r="1.6" fill="#0000CC"/>
<circle cx="443.55" cy="330.74" r="1.6" fill="#0000CC"/>
<circle cx="437.7" cy="318.06" r="1.6" fill="#0000CC"/>
<circle cx="441.24" cy="332.26" r="1.6" fill="#0000CC"/>
<circle cx="453.5" cy="347.67" r="1.6" fill="#0000CC"/>
<circle cx="454.93" cy="331.67" r="1.6" fill="#0000CC"/>
<circle cx="457.97" cy="340.6" r="1.6" fill="#0000CC"/>
<circle cx="447.01" cy="340.19" r="1.6" fill="#0000CC"/>
<circle cx="458.79" cy="347.44" r="1.6" fill="#0000CC"/>
<circle cx="453.41" cy="320.09" r="1.6" fill="#0000CC"/>
<circle cx="458.32" cy="320.51" r="1.6" fill="#0000CC"/>
<circle cx="458.92" cy="334.54" r="1.6" fill="#0000CC"/>
<circle cx="445.83" cy="341.13" r="1.6" fill="#0000CC"/>
<circle cx="437.28" cy="351.57" r="1.6" fill="#0000CC"/>
<circle cx="449.95" cy="346.84" r="1.6" fill="#0000CC"/>
<circle cx="439.76" cy="334.39" r="1.6" fill="#0000CC"/>
<circle cx="442.58" cy="336.3" r="1.6" fill="#0000CC"/>
<circle cx="445.7" cy="345.05" r="1.6" fill="#0000CC"/>
<circle cx="439.96" cy="334.29" r="1.6" fill="#0000CC"/>
<circle cx="459.31" cy="318.21" r="1.6" fill="#0000CC"/>
<circle cx="447.33" cy="337.87" r="1.6" fill="#0000CC"/>
<circle cx="442.42" cy="322.3" r="1.6" fill="#0000CC"/>
<circle cx="443.48" cy="351.72" r="1.6" fill="#0000CC"/>
<circle cx="453.66" cy="319.27" r="1.6" fill="#0000CC"/>
<circle cx="447.94" cy="318.85" r="1.6" fill="#0000CC"/>
<circle cx="444.31" cy="345.21" r="1.6" fill="#0000CC"/>
<circle cx="455.77" cy="348.56" r="1.6" fill="#0000CC"/>
<circle cx="455.82" cy="345.66" r="1.6" fill="#0000CC"/>
<circle cx="457.2" cy="342.01" r="1.6" fill="#0000CC"/>
<circle cx="459.14" cy="328.2" r="1.6" fill="#0000CC"/>
<circle cx="455.46" cy="347.98" r="1.6" fill="#0000CC"/>
<circle cx="443.18" cy="319.74" r="1.6" fill="#0000CC"/>
<circle cx="454.12" cy="346.41" r="1.6" fill="#0000CC"/>
<circle cx="436.88" cy="332.58" r="1.6" fill="#0000CC"/>
<circle cx="458.77" cy="344.26" r="1.6" fill="#0000CC"/>
<circle cx="458.47" cy="337.45" r="1.6" fill="#0000CC"/>
<circle cx="456.91" cy="318.43" r="1.6" fill="#0000CC"/>
<circle cx="459.48" cy="330.91" r="1.6" fill="#0000CC"/>
<circle cx="459.43" cy="338.97" r="1.6" fill="#0000CC"/>
<circle cx="446.04" cy="342.29" r="1.6" fill="#0000CC"/>
<circle cx="453.2" cy="338.55" r="1.6" fill="#0000CC"/>
<circle cx="441.59" cy="327.34" r="1.6" fill="#0000CC"/>
<circle cx="450.55" cy="322.03" r="1.6" fill="#0000CC"/>
<circle cx="448.15" cy="351.9" r="1.6" fill="#0000CC"/>
<circle cx="456.61" cy="340.75" r="1.6" fill="#0000CC"/>
<circle cx="458.81" cy="351.99" r="1.6" fill="#0000CC"/>
<circle cx="459.38" cy="325.01" r="1.6" fill="#0000CC"/>
<circle cx="455.12" cy="343.48" r="1.6" fill="#0000CC"/>
<circle cx="452.22" cy="319.02" r="1.6" fill="#0000CC"/>
<circle cx="449.37" cy="318.64" r="1.6" fill="#0000CC"/>
<circle cx="456.56" cy="350.52" r="1.6" fill="#0000CC"/>
<circle cx="452.77" cy="316.2" r="1.6" fill="#0000CC"/>
<circle cx="455.8" cy="308.55" r="1.6" fill="#0000CC"/>
<circle cx="456.79" cy="314.83" r="1.6" fill="#0000CC"/>
<circle cx="455.32" cy="313.7" r="1.6" fill="#0000CC"/>
<circle cx="450.96" cy="316.33" r="1.6" fill="#0000CC"/>
<circle cx="454.24" cy="305.03" r="1.6" fill="#0000CC"/>
<circle cx="449.56" cy="312.35" r="1.6" fill="#0000CC"/>
<circle cx="458.96" cy="311.2" r="1.6" fill="#0000CC"/>
<circle cx="457.16" cy="317.95" r="1.6" fill="#0000CC"/>
<circle cx="450.82" cy="315.5" r="1.6" fill="#0000CC"/>
<circle cx="449.7" cy="312.89" r="1.6" fill="#0000CC"/>
<circle cx="446.25" cy="305.35" r="1.6" fill="#0000CC"/>
<circle cx="454.13" cy="313.56" r="1.6" fill="#0000CC"/>
<circle cx="454.4" cy="316.73" r="1.6" fill="#0000CC"/>
<circle cx="454.89" cy="314.35" r="1.6" fill="#0000CC"/>
<circle cx="425.77" cy="331.67" r="1.6" fill="#0000CC"/>
<circle cx="432.94" cy="345.75" r="1.6" fill="#0000CC"/>
<circle cx="435.57" cy="325.7" r="1.6" fill="#0000CC"/>
<circle cx="425.78" cy="319.49" r="1.6" fill="#0000CC"/>
<circle cx="431.18" cy="334.63" r="1.6" fill="#0000CC"/>
<circle cx="424.67" cy="331.58" r="1.6" fill="#0000CC"/>
<circle cx="422.07" cy="321.44" r="1.6" fill="#0000CC"/>
<circle cx="424.02" cy="337.19" r="1.6" fill="#0000CC"/>
<circle cx="441" cy="271.5" r="1.6" fill="#0000CC"/>
<circle cx="451.7" cy="292.4" r="1.6" fill="#0000CC"/>
<circle cx="454" cy="291.5" r="1.6" fill="#0000CC"/>
<circle cx="444.8" cy="296.6" r="1.6" fill="#0000CC"/>
<circle cx="458" cy="296.6" r="1.6" fill="#0000CC"/>
<circle cx="453.4" cy="300.3" r="1.6" fill="#0000CC"/>
<circle cx="455.7" cy="303.3" r="1.6" fill="#0000CC"/>
<circle cx="457.5" cy="306.7" r="1.6" fill="#0000CC"/>
<circle cx="405.3" cy="309.5" r="1.6" fill="#0000CC"/>
<circle cx="396" cy="318" r="1.6" fill="#0000CC"/>
<circle cx="407.1" cy="321" r="1.6" fill="#0000CC"/>
<circle cx="408.5" cy="327.7" r="1.6" fill="#0000CC"/>
<circle cx="419.8" cy="318.8" r="1.6" fill="#0000CC"/>
<circle cx="425.1" cy="320.1" r="1.6" fill="#0000CC"/>
<circle cx="431.9" cy="320.1" r="1.6" fill="#0000CC"/>
<circle cx="420.4" cy="323.3" r="1.6" fill="#0000CC"/>
<circle cx="420.9" cy="327.2" r="1.6" fill="#0000CC"/>
<circle cx="420.4" cy="330.9" r="1.6" fill="#0000CC"/>
<circle cx="414.7" cy="335.6" r="1.6" fill="#0000CC"/>
<circle cx="419.1" cy="335.6" r="1.6" fill="#0000CC"/>
<circle cx="420.7" cy="340.4" r="1.6" fill="#0000CC"/>
<circle cx="426.5" cy="336.5" r="1.6" fill="#0000CC"/>
<circle cx="432.4" cy="337.4" r="1.6" fill="#0000CC"/>
<circle cx="429.2" cy="346.8" r="1.6" fill="#0000CC"/>
<circle cx="434.5" cy="330.3" r="1.6" fill="#0000CC"/>
<circle cx="436.6" cy="341.8" r="1.6" fill="#0000CC"/>
<circle cx="441.2" cy="322.4" r="1.6" fill="#0000CC"/>
<circle cx="441.9" cy="352.4" r="1.6" fill="#0000CC"/>
<circle cx="449" cy="354.7" r="1.6" fill="#0000CC"/>
<circle cx="485.04" cy="334.83" r="1.6" fill="#EE0000"/>
<circle cx="495.74" cy="347.65" r="1.6" fill="#EE0000"/>
<circle cx="480.71" cy="353.55" r="1.6" fill="#EE0000"/>
<circle cx="478.15" cy="354.51" r="1.6" fill="#EE0000"/>
<circle cx="479.1" cy="335.78" r="1.6" fill="#EE0000"/>
<circle cx="498.75" cy="329.82" r="1.6" fill="#EE0000"/>
<circle cx="484.33" cy="339.48" r="1.6" fill="#EE0000"/>
<circle cx="491.71" cy="342.23" r="1.6" fill="#EE0000"/>
<circle cx="477.14" cy="325.03" r="1.6" fill="#EE0000"/>
<circle cx="489.97" cy="350.12" r="1.6" fill="#EE0000"/>
<circle cx="477.05" cy="350.81" r="1.6" fill="#EE0000"/>
<circle cx="498.03" cy="350.29" r="1.6" fill="#EE0000"/>
<circle cx="490.16" cy="320.96" r="1.6" fill="#EE0000"/>
<circle cx="476.23" cy="340.14" r="1.6" fill="#EE0000"/>
<circle cx="486.66" cy="322.63" r="1.6" fill="#EE0000"/>
<circle cx="479.85" cy="344.65" r="1.6" fill="#EE0000"/>
<circle cx="481.25" cy="352.67" r="1.6" fill="#EE0000"/>
<circle cx="491.3" cy="325.83" r="1.6" fill="#EE0000"/>
<circle cx="485.7" cy="353.16" r="1.6" fill="#EE0000"/>
<circle cx="492.24" cy="328.4" r="1.6" fill="#EE0000"/>
<circle cx="490.82" cy="342.14" r="1.6" fill="#EE0000"/>
<circle cx="495" cy="331.89" r="1.6" fill="#EE0000"/>
<circle cx="489.32" cy="334.88" r="1.6" fill="#EE0000"/>
<circle cx="480.9" cy="337.75" r="1.6" fill="#EE0000"/>
<circle cx="494.14" cy="330.14" r="1.6" fill="#EE0000"/>
<circle cx="483.56" cy="325.74" r="1.6" fill="#EE0000"/>
<circle cx="495.21" cy="352.91" r="1.6" fill="#EE0000"/>
<circle cx="479.11" cy="345.93" r="1.6" fill="#EE0000"/>
<circle cx="475.74" cy="327.87" r="1.6" fill="#EE0000"/>
<circle cx="490.66" cy="334.79" r="1.6" fill="#EE0000"/>
<circle cx="498.87" cy="341.16" r="1.6" fill="#EE0000"/>
<circle cx="480.1" cy="350.14" r="1.6" fill="#EE0000"/>
<circle cx="483.43" cy="325.15" r="1.6" fill="#EE0000"/>
<circle cx="489.72" cy="352.25" r="1.6" fill="#EE0000"/>
<circle cx="485.62" cy="352.72" r="1.6" fill="#EE0000"/>
<circle cx="490.1" cy="349.71" r="1.6" fill="#EE0000"/>
<circle cx="479.63" cy="331.5" r="1.6" fill="#EE0000"/>
<circle cx="495.12" cy="332.25" r="1.6" fill="#EE0000"/>
<circle cx="482.33" cy="331.4" r="1.6" fill="#EE0000"/>
<circle cx="481.82" cy="354.61" r="1.6" fill="#EE0000"/>
<circle cx="481.86" cy="329.99" r="1.6" fill="#EE0000"/>
<circle cx="490.18" cy="347.05" r="1.6" fill="#EE0000"/>
<circle cx="495.24" cy="325.38" r="1.6" fill="#EE0000"/>
<circle cx="481.99" cy="321.23" r="1.6" fill="#EE0000"/>
<circle cx="481.6" cy="352.01" r="1.6" fill="#EE0000"/>
<circle cx="487.49" cy="324.28" r="1.6" fill="#EE0000"/>
<circle cx="489.55" cy="334.69" r="1.6" fill="#EE0000"/>
<circle cx="486.91" cy="343.72" r="1.6" fill="#EE0000"/>
<circle cx="482.48" cy="339.55" r="1.6" fill="#EE0000"/>
<circle cx="488.31" cy="321.81" r="1.6" fill="#EE0000"/>
<circle cx="477.12" cy="344.87" r="1.6" fill="#EE0000"/>
<circle cx="497.67" cy="331.01" r="1.6" fill="#EE0000"/>
<circle cx="477.15" cy="338.23" r="1.6" fill="#EE0000"/>
<circle cx="490.76" cy="322.79" r="1.6" fill="#EE0000"/>
<circle cx="477.39" cy="323.09" r="1.6" fill="#EE0000"/>
<circle cx="493.59" cy="343.92" r="1.6" fill="#EE0000"/>
<circle cx="487.99" cy="325.55" r="1.6" fill="#EE0000"/>
<circle cx="481.14" cy="329.57" r="1.6" fill="#EE0000"/>
<circle cx="488.62" cy="351.68" r="1.6" fill="#EE0000"/>
<circle cx="481.81" cy="339.23" r="1.6" fill="#EE0000"/>
<circle cx="478.69" cy="321.77" r="1.6" fill="#EE0000"/>
<circle cx="481.3" cy="345.61" r="1.6" fill="#EE0000"/>
<circle cx="489.49" cy="335.32" r="1.6" fill="#EE0000"/>
<circle cx="482.93" cy="342.26" r="1.6" fill="#EE0000"/>
<circle cx="487.12" cy="322.87" r="1.6" fill="#EE0000"/>
<circle cx="477.26" cy="322.78" r="1.6" fill="#EE0000"/>
<circle cx="497.54" cy="330.16" r="1.6" fill="#EE0000"/>
<circle cx="494.34" cy="340.28" r="1.6" fill="#EE0000"/>
<circle cx="498.12" cy="328.23" r="1.6" fill="#EE0000"/>
<circle cx="491.61" cy="337.98" r="1.6" fill="#EE0000"/>
<circle cx="480.61" cy="329.89" r="1.6" fill="#EE0000"/>
<circle cx="492.76" cy="354.7" r="1.6" fill="#EE0000"/>
<circle cx="482.75" cy="335.04" r="1.6" fill="#EE0000"/>
<circle cx="480.4" cy="349.45" r="1.6" fill="#EE0000"/>
<circle cx="479.84" cy="354.17" r="1.6" fill="#EE0000"/>
<circle cx="478.25" cy="339.95" r="1.6" fill="#EE0000"/>
<circle cx="487.23" cy="331.63" r="1.6" fill="#EE0000"/>
<circle cx="482.67" cy="349.49" r="1.6" fill="#EE0000"/>
<circle cx="497.12" cy="331.85" r="1.6" fill="#EE0000"/>
<circle cx="491.42" cy="329.97" r="1.6" fill="#EE0000"/>
<circle cx="483" cy="333.11" r="1.6" fill="#EE0000"/>
<circle cx="482.92" cy="331.15" r="1.6" fill="#EE0000"/>
<circle cx="494.7" cy="354.14" r="1.6" fill="#EE0000"/>
<circle cx="494.18" cy="349.92" r="1.6" fill="#EE0000"/>
<circle cx="475.78" cy="351.59" r="1.6" fill="#EE0000"/>
<circle cx="488.67" cy="324.51" r="1.6" fill="#EE0000"/>
<circle cx="497.24" cy="348.36" r="1.6" fill="#EE0000"/>
<circle cx="485.52" cy="321.84" r="1.6" fill="#EE0000"/>
<circle cx="496.35" cy="325.52" r="1.6" fill="#EE0000"/>
<circle cx="481.26" cy="344.06" r="1.6" fill="#EE0000"/>
<circle cx="478.92" cy="344.47" r="1.6" fill="#EE0000"/>
<circle cx="484.95" cy="326.47" r="1.6" fill="#EE0000"/>
<circle cx="490.98" cy="347.82" r="1.6" fill="#EE0000"/>
<circle cx="479.62" cy="337.92" r="1.6" fill="#EE0000"/>
<circle cx="496.41" cy="337.18" r="1.6" fill="#EE0000"/>
<circle cx="494.02" cy="329.98" r="1.6" fill="#EE0000"/>
<circle cx="496.12" cy="336.37" r="1.6" fill="#EE0000"/>
<circle cx="484.32" cy="337.68" r="1.6" fill="#EE0000"/>
<circle cx="494.33" cy="343.92" r="1.6" fill="#EE0000"/>
<circle cx="479.96" cy="325.18" r="1.6" fill="#EE0000"/>
<circle cx="486.74" cy="331.53" r="1.6" fill="#EE0000"/>
<circle cx="479.51" cy="353.01" r="1.6" fill="#EE0000"/>
<circle cx="480.71" cy="338.65" r="1.6" fill="#EE0000"/>
<circle cx="476.18" cy="344.12" r="1.6" fill="#EE0000"/>
<circle cx="497.66" cy="338.38" r="1.6" fill="#EE0000"/>
<circle cx="475.51" cy="326.29" r="1.6" fill="#EE0000"/>
<circle cx="482.52" cy="347.79" r="1.6" fill="#EE0000"/>
<circle cx="490.46" cy="330.77" r="1.6" fill="#EE0000"/>
<circle cx="483.05" cy="329.27" r="1.6" fill="#EE0000"/>
<circle cx="496.06" cy="341.76" r="1.6" fill="#EE0000"/>
<circle cx="487.13" cy="354.68" r="1.6" fill="#EE0000"/>
<circle cx="489.36" cy="343.43" r="1.6" fill="#EE0000"/>
<circle cx="490.8" cy="327.72" r="1.6" fill="#EE0000"/>
<circle cx="483.44" cy="330.68" r="1.6" fill="#EE0000"/>
<circle cx="497.65" cy="347.93" r="1.6" fill="#EE0000"/>
<circle cx="494.22" cy="337.01" r="1.6" fill="#EE0000"/>
<circle cx="497.67" cy="351.68" r="1.6" fill="#EE0000"/>
<circle cx="484.44" cy="348.19" r="1.6" fill="#EE0000"/>
<circle cx="481.51" cy="323.48" r="1.6" fill="#EE0000"/>
<circle cx="487.93" cy="341.12" r="1.6" fill="#EE0000"/>
<circle cx="498.12" cy="352.53" r="1.6" fill="#EE0000"/>
<circle cx="475.83" cy="327.41" r="1.6" fill="#EE0000"/>
<circle cx="488.56" cy="325.32" r="1.6" fill="#EE0000"/>
<circle cx="487.11" cy="321.77" r="1.6" fill="#EE0000"/>
<circle cx="483.23" cy="345.71" r="1.6" fill="#EE0000"/>
<circle cx="496.26" cy="335.12" r="1.6" fill="#EE0000"/>
<circle cx="476.11" cy="354.43" r="1.6" fill="#EE0000"/>
<circle cx="475.77" cy="328.65" r="1.6" fill="#EE0000"/>
<circle cx="490.47" cy="350.08" r="1.6" fill="#EE0000"/>
<circle cx="494.2" cy="327.14" r="1.6" fill="#EE0000"/>
<circle cx="490.29" cy="333.63" r="1.6" fill="#EE0000"/>
<circle cx="485.64" cy="329.86" r="1.6" fill="#EE0000"/>
<circle cx="484.57" cy="322.31" r="1.6" fill="#EE0000"/>
<circle cx="489.34" cy="330.5" r="1.6" fill="#EE0000"/>
<circle cx="497.25" cy="320.53" r="1.6" fill="#EE0000"/>
<circle cx="487.98" cy="350.09" r="1.6" fill="#EE0000"/>
<circle cx="487.79" cy="322.57" r="1.6" fill="#EE0000"/>
<circle cx="480.3" cy="344.75" r="1.6" fill="#EE0000"/>
<circle cx="481.89" cy="345.59" r="1.6" fill="#EE0000"/>
<circle cx="494.57" cy="335.04" r="1.6" fill="#EE0000"/>
<circle cx="477.42" cy="335.86" r="1.6" fill="#EE0000"/>
<circle cx="491.83" cy="353.66" r="1.6" fill="#EE0000"/>
<circle cx="480.03" cy="354.25" r="1.6" fill="#EE0000"/>
<circle cx="491.83" cy="339.65" r="1.6" fill="#EE0000"/>
<circle cx="475.72" cy="345.06" r="1.6" fill="#EE0000"/>
<circle cx="479.94" cy="333.94" r="1.6" fill="#EE0000"/>
<circle cx="485.47" cy="338.94" r="1.6" fill="#EE0000"/>
<circle cx="483.18" cy="353.11" r="1.6" fill="#EE0000"/>
<circle cx="483.1" cy="331.78" r="1.6" fill="#EE0000"/>
<circle cx="488.09" cy="333.3" r="1.6" fill="#EE0000"/>
<circle cx="479.16" cy="352.98" r="1.6" fill="#EE0000"/>
<circle cx="493.4" cy="329.17" r="1.6" fill="#EE0000"/>
<circle cx="490.93" cy="321.18" r="1.6" fill="#EE0000"/>
<circle cx="482.63" cy="328.57" r="1.6" fill="#EE0000"/>
<circle cx="482.21" cy="332.93" r="1.6" fill="#EE0000"/>
<circle cx="496.8" cy="337.76" r="1.6" fill="#EE0000"/>
<circle cx="489.91" cy="320.4" r="1.6" fill="#EE0000"/>
<circle cx="486.96" cy="345.34" r="1.6" fill="#EE0000"/>
<circle cx="497.92" cy="330.45" r="1.6" fill="#EE0000"/>
<circle cx="483.09" cy="344.05" r="1.6" fill="#EE0000"/>
<circle cx="475.92" cy="351.14" r="1.6" fill="#EE0000"/>
<circle cx="498.51" cy="334.27" r="1.6" fill="#EE0000"/>
<circle cx="493.77" cy="345.3" r="1.6" fill="#EE0000"/>
<circle cx="495.24" cy="329.4" r="1.6" fill="#EE0000"/>
<circle cx="496.05" cy="336.75" r="1.6" fill="#EE0000"/>
<circle cx="497.06" cy="333.94" r="1.6" fill="#EE0000"/>
<circle cx="478.8" cy="322.89" r="1.6" fill="#EE0000"/>
<circle cx="482.51" cy="322.42" r="1.6" fill="#EE0000"/>
<circle cx="488.37" cy="339.65" r="1.6" fill="#EE0000"/>
<circle cx="487.66" cy="340.61" r="1.6" fill="#EE0000"/>
<circle cx="477.24" cy="352.82" r="1.6" fill="#EE0000"/>
<circle cx="477.39" cy="323.07" r="1.6" fill="#EE0000"/>
<circle cx="483.62" cy="353.84" r="1.6" fill="#EE0000"/>
<circle cx="484.86" cy="331.75" r="1.6" fill="#EE0000"/>
<circle cx="490.37" cy="322.72" r="1.6" fill="#EE0000"/>
<circle cx="501.82" cy="352.62" r="1.6" fill="#EE0000"/>
<circle cx="499.03" cy="328.75" r="1.6" fill="#EE0000"/>
<circle cx="503.36" cy="343.39" r="1.6" fill="#EE0000"/>
<circle cx="502.53" cy="347.54" r="1.6" fill="#EE0000"/>
<circle cx="504.01" cy="324" r="1.6" fill="#EE0000"/>
<circle cx="502.24" cy="343.24" r="1.6" fill="#EE0000"/>
<circle cx="500.89" cy="329.58" r="1.6" fill="#EE0000"/>
<circle cx="505.2" cy="337.8" r="1.6" fill="#EE0000"/>
<circle cx="509.83" cy="352.55" r="1.6" fill="#EE0000"/>
<circle cx="501.37" cy="324.98" r="1.6" fill="#EE0000"/>
<circle cx="500.17" cy="336.98" r="1.6" fill="#EE0000"/>
<circle cx="502.6" cy="336.97" r="1.6" fill="#EE0000"/>
<circle cx="499.45" cy="332.98" r="1.6" fill="#EE0000"/>
<circle cx="502.45" cy="346.63" r="1.6" fill="#EE0000"/>
<circle cx="499.67" cy="343.02" r="1.6" fill="#EE0000"/>
<circle cx="502.12" cy="347.25" r="1.6" fill="#EE0000"/>
<circle cx="505.67" cy="329.74" r="1.6" fill="#EE0000"/>
<circle cx="505.99" cy="335.08" r="1.6" fill="#EE0000"/>
<circle cx="507.67" cy="324.62" r="1.6" fill="#EE0000"/>
<circle cx="501.43" cy="339.52" r="1.6" fill="#EE0000"/>
<circle cx="482.04" cy="307.01" r="1.6" fill="#EE0000"/>
<circle cx="488.44" cy="304.29" r="1.6" fill="#EE0000"/>
<circle cx="494.82" cy="305.13" r="1.6" fill="#EE0000"/>
<circle cx="491.01" cy="317.28" r="1.6" fill="#EE0000"/>
<circle cx="477.65" cy="315.78" r="1.6" fill="#EE0000"/>
<circle cx="479.37" cy="308.16" r="1.6" fill="#EE0000"/>
<circle cx="478.07" cy="316.7" r="1.6" fill="#EE0000"/>
<circle cx="482.41" cy="309.26" r="1.6" fill="#EE0000"/>
<circle cx="497.35" cy="302.64" r="1.6" fill="#EE0000"/>
<circle cx="477.17" cy="312.5" r="1.6" fill="#EE0000"/>
<circle cx="476.43" cy="302.27" r="1.6" fill="#EE0000"/>
<circle cx="481.16" cy="300.19" r="1.6" fill="#EE0000"/>
<circle cx="483.15" cy="301.02" r="1.6" fill="#EE0000"/>
<circle cx="496.45" cy="309.19" r="1.6" fill="#EE0000"/>
<circle cx="476.1" cy="313.48" r="1.6" fill="#EE0000"/>
<circle cx="504.38" cy="349.38" r="1.6" fill="#EE0000"/>
<circle cx="502.36" cy="332.67" r="1.6" fill="#EE0000"/>
<circle cx="505.71" cy="348.13" r="1.6" fill="#EE0000"/>
<circle cx="511.33" cy="351.23" r="1.6" fill="#EE0000"/>
<circle cx="504.06" cy="338.19" r="1.6" fill="#EE0000"/>
<circle cx="510.53" cy="347.87" r="1.6" fill="#EE0000"/>
<circle cx="511.4" cy="331.79" r="1.6" fill="#EE0000"/>
<circle cx="502.38" cy="338.84" r="1.6" fill="#EE0000"/>
<circle cx="510.43" cy="345.14" r="1.6" fill="#EE0000"/>
<circle cx="506.15" cy="345.02" r="1.6" fill="#EE0000"/>
<circle cx="506.44" cy="348.35" r="1.6" fill="#EE0000"/>
<circle cx="504.88" cy="346.54" r="1.6" fill="#EE0000"/>
<circle cx="493.8" cy="274.1" r="1.6" fill="#EE0000"/>
<circle cx="485" cy="287.8" r="1.6" fill="#EE0000"/>
<circle cx="488.9" cy="285.6" r="1.6" fill="#EE0000"/>
<circle cx="499" cy="289.5" r="1.6" fill="#EE0000"/>
<circle cx="482.7" cy="298.4" r="1.6" fill="#EE0000"/>
<circle cx="480" cy="305.1" r="1.6" fill="#EE0000"/>
<circle cx="484" cy="304.7" r="1.6" fill="#EE0000"/>
<circle cx="478.3" cy="307.4" r="1.6" fill="#EE0000"/>
<circle cx="489.8" cy="307.4" r="1.6" fill="#EE0000"/>
<circle cx="486.2" cy="310.4" r="1.6" fill="#EE0000"/>
<circle cx="487.7" cy="311.3" r="1.6" fill="#EE0000"/>
<circle cx="501.3" cy="312.5" r="1.6" fill="#EE0000"/>
<circle cx="493.3" cy="313" r="1.6" fill="#EE0000"/>
<circle cx="498.6" cy="317.5" r="1.6" fill="#EE0000"/>
<circle cx="500.4" cy="317.5" r="1.6" fill="#EE0000"/>
<circle cx="476.5" cy="313.9" r="1.6" fill="#EE0000"/>
<circle cx="506.6" cy="333.9" r="1.6" fill="#EE0000"/>
<circle cx="514.5" cy="338.3" r="1.6" fill="#EE0000"/>
<circle cx="517.2" cy="344.8" r="1.6" fill="#EE0000"/>
<circle cx="529" cy="348.5" r="1.6" fill="#EE0000"/>
<circle cx="506.6" cy="347.7" r="1.6" fill="#EE0000"/>
<path d="M389.5 266.8V376H535.8" stroke="#555" stroke-width="0.8" fill="none"/>
<line x1="388.3" y1="371.5" x2="389.5" y2="371.5" stroke="#666" stroke-width="0.5"/>
<text class="s" x="387.9" y="372.7" font-size="3.5" text-anchor="end" fill="#333">0</text>
<line x1="388.3" y1="346.62" x2="389.5" y2="346.62" stroke="#666" stroke-width="0.5"/>
<text class="s" x="387.9" y="347.82" font-size="3.5" text-anchor="end" fill="#333">2</text>
<line x1="388.3" y1="321.74" x2="389.5" y2="321.74" stroke="#666" stroke-width="0.5"/>
<text class="s" x="387.9" y="322.94" font-size="3.5" text-anchor="end" fill="#333">4</text>
<line x1="388.3" y1="296.86" x2="389.5" y2="296.86" stroke="#666" stroke-width="0.5"/>
<text class="s" x="387.9" y="298.06" font-size="3.5" text-anchor="end" fill="#333">6</text>
<line x1="388.3" y1="271.98" x2="389.5" y2="271.98" stroke="#666" stroke-width="0.5"/>
<text class="s" x="387.9" y="273.18" font-size="3.5" text-anchor="end" fill="#333">8</text>
<line x1="422.7" y1="376" x2="422.7" y2="377.2" stroke="#666" stroke-width="0.5"/>
<text class="s" x="422.7" y="380.6" font-size="3.5" text-anchor="middle" fill="#333">-10</text>
<line x1="466.7" y1="376" x2="466.7" y2="377.2" stroke="#666" stroke-width="0.5"/>
<text class="s" x="466.7" y="380.6" font-size="3.5" text-anchor="middle" fill="#333">0</text>
<line x1="510.7" y1="376" x2="510.7" y2="377.2" stroke="#666" stroke-width="0.5"/>
<text class="s" x="510.7" y="380.6" font-size="3.5" text-anchor="middle" fill="#333">10</text>
<text class="r" x="450" y="270.4" font-size="4.65" fill="#111" stroke="#111" stroke-width="0.16">Wheat VS Grape</text>
<text class="s" x="462.8" y="385.9" font-size="4.35" text-anchor="middle" fill="#000" stroke="#000" stroke-width="0.1">Log2FoldChange</text>
<text class="s" transform="translate(383.6,321.2) rotate(-90)" font-size="4.4" text-anchor="middle" fill="#111" stroke="#111" stroke-width="0.1">-log10(pvalue)</text>
<circle cx="508.6" cy="366.4" r="1.3" fill="#EE0000"/>
<text class="r" x="510.6" y="367.6" font-size="3.6" fill="#222" stroke="#222" stroke-width="0.06">Up:231</text>
<circle cx="508.6" cy="370" r="1.3" fill="#0000CC"/>
<text class="r" x="510.6" y="371.2" font-size="3.6" fill="#222" stroke="#222" stroke-width="0.06">Down:165</text>
<circle cx="508.6" cy="373.6" r="0.8" fill="none" stroke="#999" stroke-width="0.35"/>
<text class="r" x="510.6" y="374.8" font-size="3.6" fill="#222" stroke="#222" stroke-width="0.06">Insignificant:526</text>
<text class="b" x="361.7" y="246.9" font-size="9.6" fill="#111">(e)</text>
</svg></body></html>
